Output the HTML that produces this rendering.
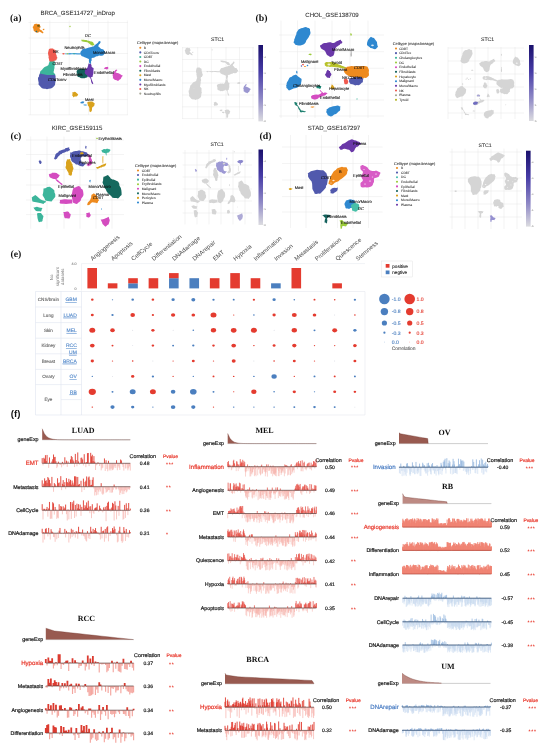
<!DOCTYPE html>
<html><head><meta charset="utf-8"><title>Figure</title>
<style>html,body{margin:0;padding:0;background:#fff;}svg{display:block;}</style>
</head><body>
<svg width="550" height="754" viewBox="0 0 550 754" font-family="'Liberation Sans', Arial, sans-serif" text-rendering="geometricPrecision">
<rect width="550" height="754" fill="#fff"/>
<text x="10" y="21" font-size="9.8" fill="#111" font-weight="bold" font-family="'Liberation Serif', 'Times New Roman', serif">(a)</text>
<text x="255.5" y="21.4" font-size="9.8" fill="#111" font-weight="bold" font-family="'Liberation Serif', 'Times New Roman', serif">(b)</text>
<text x="10.5" y="139.2" font-size="9.8" fill="#111" font-weight="bold" font-family="'Liberation Serif', 'Times New Roman', serif">(c)</text>
<text x="259.5" y="138.8" font-size="9.8" fill="#111" font-weight="bold" font-family="'Liberation Serif', 'Times New Roman', serif">(d)</text>
<text x="10.5" y="256.6" font-size="9.8" fill="#111" font-weight="bold" font-family="'Liberation Serif', 'Times New Roman', serif">(e)</text>
<text x="10.8" y="417.2" font-size="9.6" fill="#111" font-weight="bold">(f)</text>
<text x="77.6" y="15.3" font-size="6.1" fill="#333" text-anchor="middle" stroke="#333" stroke-width="0.08">BRCA_GSE114727_inDrop</text>
<path d="M30.4,20.5V115M49.8,20.5V115M69.2,20.5V115M88.6,20.5V115M108,20.5V115M127.4,20.5V115M28.5,22.5H128M28.5,38H128M28.5,53.5H128M28.5,69H128M28.5,84.3H128M28.5,99.6H128M28.5,114.8H128" stroke="#e6e6e6" stroke-width="0.45" fill="none"/>
<path d="M32.6,27 33.4,26.14 33.69,25.5 34,24.5 34.8,23.97 36.07,23.77 37,23.8 37.85,24.34 39.13,24.07 39.8,24.6 39.74,25.37 40.5,26.2 40.5,27.5 39.97,27.73 39.57,28.52 39.5,29 40.11,29.44 41.33,30.16 42,30.5 42.54,31.4 43.25,32.13 43.8,32.6 43.19,32.74 42.99,33.38 42.5,33.3 41.58,32.68 40.33,31.95 39.5,31.5 38.63,32.24 38.44,32.58 37.5,32.7 36.85,32.68 36.02,32.35 35.5,32.2 34.59,31.58 33.99,30.79 33.5,30.5 33.49,29.05 33.12,28.31Z" fill="#ee8a1e"/>
<path d="M39.72,25.8 39.88,26.07 39.65,26.27 39.54,26.5 39.47,26.82 39.15,26.94 38.76,26.76 38.5,26.74 38.22,26.85 37.98,26.71 37.67,26.68 37.42,26.53 37.3,26.29 37.37,26.02 37.11,25.8 37.04,25.52 37.2,25.27 37.45,25.09 37.68,24.93 37.93,24.81 38.21,24.72 38.5,24.78 38.82,24.63 39.08,24.78 39.37,24.87 39.56,25.08 39.62,25.34 39.85,25.54Z" fill="#6e5a12"/>
<path d="M37.44,31.5 37.5,31.7 37.32,31.85 37.1,31.92 36.89,31.93 36.78,32.01 36.7,32.27 36.5,32.34 36.28,32.33 36.12,32.19 36.01,32.04 35.96,31.88 35.79,31.8 35.8,31.64 35.74,31.5 35.74,31.35 35.73,31.17 35.8,31.01 35.91,30.86 36.13,30.83 36.3,30.75 36.5,30.74 36.7,30.73 36.89,30.79 36.98,30.98 36.99,31.16 37.05,31.27 37.18,31.36Z" fill="#1f6f7a"/>
<path d="M44.41,29.5 44.36,29.65 44.2,29.75 44.12,29.86 44.06,30 43.93,30.09 43.79,30.24 43.6,30.37 43.41,30.24 43.27,30.1 43.14,30 43.04,29.89 42.86,29.81 42.62,29.7 42.69,29.5 42.82,29.34 43.02,29.25 43.04,29.11 43.13,28.99 43.28,28.92 43.42,28.8 43.6,28.84 43.77,28.83 44,28.77 44.18,28.87 44.39,28.95 44.41,29.16 44.36,29.35Z" fill="#ee8a1e"/>
<path d="M70.67,26.4 70.57,26.53 70.59,26.69 70.47,26.77 70.43,26.94 70.31,27.04 70.18,27.18 70,27.15 69.82,27.18 69.69,27.05 69.64,26.85 69.53,26.77 69.38,26.7 69.23,26.58 69.16,26.4 69.37,26.26 69.42,26.12 69.59,26.08 69.67,25.99 69.74,25.86 69.85,25.75 70,25.63 70.16,25.68 70.36,25.65 70.48,25.79 70.55,25.96 70.61,26.1 70.64,26.25Z" fill="#9ccb3c"/>
<path d="M81,39.8 82.12,39.83 83.81,39.73 85,40 86.45,40.06 87.15,40.43 88.6,40.7 89.46,41.12 90.84,41.56 91.5,41.5 92.24,41.86 92.98,42.26 93.3,42.6 93.38,43.27 94.23,44 94.3,45.2 93.8,45.31 92.91,45.35 92.5,45.8 91.66,45.31 90.91,45.28 90.5,44.5 89.4,43.75 88.58,42.99 87.4,42.2 85.53,42.1 83.68,41.8 81.6,41.2 81.6,40.84 81.2,39.92Z" fill="#9ccb3c"/>
<path d="M65,53.4 67.59,53.55 69.95,52.92 72,53.2 74.5,53.07 77.87,53.33 80.5,53.2 80.8,53.88 80.48,54.01 80.5,54.4 77.4,54.6 74.53,54.21 72,54.3 69.63,54.38 67.18,54.23 65,54.3 64.78,53.88 65.01,53.38Z" fill="#3f9ad8"/>
<path d="M64.89,53.8 64.93,53.94 64.81,54.07 64.54,54.16 64.46,54.32 64.13,54.36 63.87,54.49 63.5,54.38 63.18,54.39 62.93,54.31 62.55,54.31 62.34,54.2 62.26,54.06 62.33,53.91 62.33,53.8 62.08,53.66 62.18,53.53 62.45,53.44 62.7,53.37 62.91,53.28 63.18,53.2 63.5,53.11 63.88,53.1 64.21,53.17 64.23,53.41 64.48,53.46 64.62,53.57 64.94,53.66Z" fill="#ef5a4f"/>
<path d="M68.52,53.8 68.45,53.91 68.41,54.02 68.27,54.11 68.05,54.14 67.89,54.2 67.7,54.24 67.5,54.32 67.28,54.28 67,54.32 66.81,54.23 66.58,54.17 66.6,54.02 66.61,53.9 66.68,53.8 66.63,53.7 66.52,53.56 66.69,53.48 66.86,53.4 67.09,53.37 67.25,53.26 67.5,53.23 67.76,53.24 67.97,53.31 68.06,53.45 68.27,53.49 68.39,53.59 68.54,53.68Z" fill="#9ccb3c"/>
<path d="M75.14,53.8 75,53.91 75.05,54.05 74.82,54.13 74.6,54.17 74.41,54.23 74.22,54.29 74,54.28 73.77,54.31 73.58,54.23 73.41,54.17 73.27,54.09 73.15,54.01 73.18,53.89 73.12,53.8 72.96,53.68 72.88,53.53 73.1,53.44 73.31,53.37 73.53,53.31 73.79,53.34 74,53.36 74.23,53.3 74.39,53.4 74.53,53.46 74.79,53.49 74.79,53.61 75.03,53.68Z" fill="#3cb59b"/>
<path d="M80.5,52 80.88,51.28 81.69,50.49 82,49.5 83.34,49.07 84.92,48.77 86,48.5 87.48,47.96 88.32,47.8 90,47.2 91.49,46.93 92.42,46.54 93.5,46.5 94.45,45.56 95.99,44.15 97,43.5 98.16,42.54 98.39,41.75 99.5,41 99.76,41.18 100.21,41.32 100.7,42 99.95,43.47 98.74,44.78 98.2,46.5 98.93,46.8 99.66,47.44 100,48 101.35,48.96 102.81,49.17 104,50 104.35,51.18 105.14,52 105.5,53 104.65,53.55 103.72,54.81 103,55.5 101.4,55.73 100.66,55.7 99,55.5 97.65,56.28 96.61,56.33 95,57 94.06,57.67 92.96,57.7 92,58 91.44,58.85 91.79,60.31 91.2,61 90.99,62.01 91.11,62.87 91,63.8 90.87,63.81 89.84,63.78 89.6,63.5 89.05,62.13 88.93,60.8 89,59 88.16,58.68 87.11,58.18 86,57.8 84.58,57.31 83.04,56.62 82,56.2 81.24,55.75 81.23,55.21 80.5,54.5 80.3,53.45 80.36,52.69Z" fill="#2e88d0"/>
<path d="M49.5,61 50.92,60.96 52.92,60.4 54.5,60.5 54.67,61.49 54.51,62.57 55,64 54.94,65.08 54.39,66.44 54.5,68 54.1,69.32 53.94,70.85 53.5,72 53.9,73.05 55.03,74.03 55.5,75.5 52.34,75.58 50.11,75.7 47,75.5 44.67,75.21 42.28,74.69 40,74.5 39.87,73.24 40.14,72.06 40.5,71 41.88,69.97 42.65,69 44,67.5 45.17,66.8 47.12,66.12 48.5,65 48.69,63.96 48.95,63.2 49.3,62.5 49.24,61.99 49.71,61.78Z" fill="#3cb59b"/>
<path d="M40,73.5 42.23,73.98 44.73,74.56 47,75 49.33,74.99 52.16,75.03 55,74.8 55.68,76.71 55.43,78.23 56,80 55.47,81.55 55.16,83.58 55,85 54.16,86.11 52.96,87.3 52,88 50.64,88.55 48.68,88.79 47,89.3 45.4,88.69 43.91,88.67 42,88.2 40.98,87.29 39.65,85.79 38.5,84.5 38.66,82.57 38.25,80.69 38,79 38.04,77.58 38.82,76.96 39,75.5 39.35,74.56 39.52,74.11Z" fill="#5159ad"/>
<path d="M49,49 50.55,48.53 51.42,48.59 53,48.5 53.66,49.23 54.83,49.78 55.5,50 55.7,51.68 55.75,52.76 56,54 56.63,55.46 56.8,56.76 57.6,58 56.87,58.56 56.58,59.42 56,60.5 55.23,60.61 54.38,60.83 54,61.3 52.68,61.45 50.77,61.6 49.5,61.3 49.15,60.5 48.97,58.81 48.5,58 48.67,56.44 48.19,54.59 48,53 48.27,51.66 48.71,50.09Z" fill="#ef5a4f"/>
<path d="M76.5,72 76.7,71.04 77.15,70.18 78,69.5 79.18,69.37 79.98,69.14 81,68.7 82.3,69.06 83.74,68.65 85,69 86.25,69.48 87.43,69.8 88.6,70.5 88.74,71.78 88.46,73.32 88.6,75 87.9,75.61 87.71,76.78 87,77.5 85.67,77.82 84.7,78.13 84,78.3 82.77,78.23 81.85,78.3 80.5,78 79.63,77.36 78.22,77.06 77.5,76.5 77.19,75.28 77.1,73.28Z" fill="#13615c"/>
<path d="M88.4,63.6 89.18,63.86 89.96,63.94 91.2,63.8 91.13,64.75 91.63,65.43 91.5,66.5 92.36,67.49 93.06,67.72 93.7,68.5 93.41,70.35 93.43,71.75 93.5,73 93.2,74.09 92.76,75.58 92.5,77 91.75,76.97 90.86,77.37 90,77.5 88.99,77.24 88.32,76.73 87.5,76 86.95,75.32 85.94,74.47 85,73.5 84.69,72.33 85.17,70.95 84.8,69.5 85.82,69.06 86.66,68.48 87.5,67.5 88.05,65.87 88.27,64.92Z" fill="#6a38a8"/>
<path d="M89.8,77.2 89.88,77.49 90.32,77.05 91,77.2 91.48,78.98 92.45,81.52 93.3,83.5 93.18,83.8 92.86,83.8 92.3,84.2 91.2,82.07 90.86,79.49Z" fill="#6a38a8"/>
<path d="M113.5,72 114.73,70.95 115.43,69.94 116.6,69.4 116.64,69.83 117.03,69.64 117.3,70.2 116.36,71.31 115.8,71.79 115.5,72.6 116.51,72.74 117.32,72.95 118.5,73.3 119.96,74.06 121.78,75.18 123,75.7 122.03,76.48 121.33,77.57 121,78.5 120.28,79.27 119.05,79.91 118.5,80.8 117.27,80.71 116.72,80.35 115.5,80 114.61,79.71 113.78,78.66 112.8,78.3 112.99,77.28 112.87,76.01 112.5,75 112.87,74.1 113.2,72.71Z" fill="#d44cc0"/>
<path d="M108.24,68.1 108.43,68.4 108.07,68.62 107.86,68.86 107.72,69.18 107.31,69.32 106.8,69.24 106.4,69.39 106.03,69.15 105.67,69.09 105.24,69.05 104.48,69.09 104.11,68.82 104.19,68.43 104.52,68.1 104.61,67.83 104.92,67.64 104.8,67.27 105.27,67.18 105.71,67.17 106,66.95 106.4,67 106.83,66.89 107.45,66.68 107.81,66.95 108.27,67.13 108.03,67.59 108.34,67.81Z" fill="#d44cbf"/>
<path d="M72.3,92.2 73.49,92.13 74.6,91.77 75.5,92 76.55,93.01 77.16,93.43 78.2,94.5 77.77,95.37 77.23,96 76.5,96.5 75.23,96.54 73.96,96.85 73,97.4 73.07,96.53 72.22,95.52 72.3,95 72.51,93.77 72.44,93.07Z" fill="#d9a21c"/>
<path d="M87.5,102 88.67,101.85 89.11,101.63 90,101.5 90.86,101.43 91.65,101.61 93,101.8 93.47,102.49 94,103.08 94.8,103.5 94.73,104.02 94.23,105.02 94.3,106 93.98,106.11 93.27,106.82 92.5,107 92.06,108.35 91.92,109.1 92,110 91.59,110.89 91.11,111.64 91,112.2 90.22,111.72 89.85,111.68 89.5,111.5 89.31,110 89.39,108.15 89,107 88.44,106.02 87.9,105.86 87.8,105 87.71,103.99 87.28,103.16Z" fill="#d9a21c"/>
<path d="M80,102.6 80.75,102.5 81.71,101.5 82.5,101.4 82.78,101.35 83.47,101.58 84.3,101.8 83.97,102.58 83.74,102.77 83.5,103.2 82.53,103.61 82.05,103.23 81,103.6 80.89,103.21 80.12,102.91Z" fill="#2e88d0"/>
<path d="M86.86,105 86.92,105.23 86.82,105.46 86.62,105.67 86.26,105.78 86.02,106 85.6,106.04 85.2,106.12 84.85,105.91 84.62,105.71 84.28,105.68 83.93,105.6 83.78,105.4 83.48,105.23 83.5,105 83.39,104.76 83.58,104.54 83.69,104.29 83.95,104.08 84.47,104.11 84.9,104.22 85.2,104.1 85.54,104.14 85.92,104.12 86.25,104.23 86.55,104.37 86.63,104.59 86.8,104.79Z" fill="#8ec3ea"/>
<text x="85" y="37.4" font-size="4" fill="#111" stroke="#111" stroke-width="0.08">DC</text>
<text x="64.4" y="49.4" font-size="4" fill="#111" stroke="#111" stroke-width="0.08">Neutrophils</text>
<text x="93" y="54.4" font-size="4" fill="#111" stroke="#111" stroke-width="0.08">Mono/Macro</text>
<text x="53" y="52.8" font-size="4" fill="#111" stroke="#111" stroke-width="0.08">NK</text>
<text x="52.4" y="65.4" font-size="4" fill="#111" stroke="#111" stroke-width="0.08">CD8T</text>
<text x="60.6" y="70.4" font-size="4" fill="#111" stroke="#111" stroke-width="0.08">Myofibroblasts</text>
<text x="63" y="75.6" font-size="4" fill="#111" stroke="#111" stroke-width="0.08">Fibroblasts</text>
<text x="94" y="73.8" font-size="4" fill="#111" stroke="#111" stroke-width="0.08">Endothelial</text>
<text x="48" y="80.8" font-size="4" fill="#111" stroke="#111" stroke-width="0.08">CD4Tconv</text>
<text x="85" y="100.8" font-size="4" fill="#111" stroke="#111" stroke-width="0.08">Mast</text>
<text x="137" y="44.3" font-size="3.9" fill="#333" stroke="#333" stroke-width="0.08">Celltype (major-lineage)</text>
<circle cx="140.3" cy="47.8" r="1.05" fill="#ee8a1e"/>
<text x="143.8" y="49" font-size="3.35" fill="#444" stroke="#444" stroke-width="0.08">B</text>
<circle cx="140.3" cy="52.38" r="1.05" fill="#5159ad"/>
<text x="143.8" y="53.58" font-size="3.35" fill="#444" stroke="#444" stroke-width="0.08">CD4Tconv</text>
<circle cx="140.3" cy="56.96" r="1.05" fill="#3cb59b"/>
<text x="143.8" y="58.16" font-size="3.35" fill="#444" stroke="#444" stroke-width="0.08">CD8T</text>
<circle cx="140.3" cy="61.54" r="1.05" fill="#9ccb3c"/>
<text x="143.8" y="62.74" font-size="3.35" fill="#444" stroke="#444" stroke-width="0.08">DC</text>
<circle cx="140.3" cy="66.12" r="1.05" fill="#d44cc0"/>
<text x="143.8" y="67.32" font-size="3.35" fill="#444" stroke="#444" stroke-width="0.08">Endothelial</text>
<circle cx="140.3" cy="70.7" r="1.05" fill="#13615c"/>
<text x="143.8" y="71.9" font-size="3.35" fill="#444" stroke="#444" stroke-width="0.08">Fibroblasts</text>
<circle cx="140.3" cy="75.28" r="1.05" fill="#d9a21c"/>
<text x="143.8" y="76.48" font-size="3.35" fill="#444" stroke="#444" stroke-width="0.08">Mast</text>
<circle cx="140.3" cy="79.86" r="1.05" fill="#2e88d0"/>
<text x="143.8" y="81.06" font-size="3.35" fill="#444" stroke="#444" stroke-width="0.08">Mono/Macro</text>
<circle cx="140.3" cy="84.44" r="1.05" fill="#6a38a8"/>
<text x="143.8" y="85.64" font-size="3.35" fill="#444" stroke="#444" stroke-width="0.08">Myofibroblasts</text>
<circle cx="140.3" cy="89.02" r="1.05" fill="#ef5a4f"/>
<text x="143.8" y="90.22" font-size="3.35" fill="#444" stroke="#444" stroke-width="0.08">NK</text>
<circle cx="140.3" cy="93.6" r="1.05" fill="#a3a392"/>
<text x="143.8" y="94.8" font-size="3.35" fill="#444" stroke="#444" stroke-width="0.08">Neutrophils</text>
<text x="217.5" y="41.2" font-size="5.1" fill="#333" text-anchor="middle" stroke="#333" stroke-width="0.08">STC1</text>
<path d="M182.6,47V119M197.7,47V119M211.4,47V119M226,47V119M239.5,47V119M253,47V119M182,47.7H254M182,59.5H254M182,71.4H254M182,83H254M182,95H254M182,106.8H254M182,118.6H254" stroke="#e6e6e6" stroke-width="0.45" fill="none"/>
<path d="M184.7,50.36 185.37,49.67 185.53,49.2 185.72,48.38 186.26,47.9 187.26,47.74 187.92,47.82 188.52,48.31 189.55,47.98 189.97,48.46 189.85,49.03 190.55,49.66 190.49,50.76 190.05,50.89 189.74,51.57 189.75,51.95 190.14,52.29 191.14,52.91 191.59,53.15 191.97,53.9 192.52,54.49 192.91,54.82 192.41,54.91 192.33,55.5 191.95,55.37 191.3,54.88 190.31,54.27 189.75,53.94 189.07,54.6 189.05,54.85 188.29,54.9 187.82,54.91 187.17,54.62 186.82,54.5 186.08,53.99 185.67,53.32 185.36,53.15 185.43,51.94 185.13,51.43Z" fill="#d5d5d5"/>
<path d="M189.92,49.41 190.03,49.62 189.86,49.78 189.78,49.97 189.73,50.23 189.49,50.31 189.21,50.17 189.02,50.16 188.81,50.24 188.64,50.13 188.41,50.11 188.23,49.99 188.14,49.8 188.19,49.58 188,49.41 187.95,49.19 188.07,48.99 188.25,48.85 188.42,48.72 188.61,48.62 188.81,48.55 189.02,48.6 189.25,48.48 189.44,48.6 189.66,48.67 189.8,48.84 189.84,49.05 190.01,49.2Z" fill="#d5d5d5"/>
<path d="M188.25,53.94 188.29,54.1 188.16,54.22 188,54.28 187.84,54.28 187.76,54.35 187.7,54.55 187.55,54.61 187.4,54.6 187.28,54.49 187.2,54.37 187.16,54.24 187.03,54.18 187.04,54.05 187,53.94 187,53.82 186.99,53.68 187.04,53.55 187.12,53.43 187.28,53.41 187.41,53.34 187.55,53.34 187.7,53.33 187.84,53.37 187.9,53.53 187.91,53.67 187.96,53.76 188.05,53.83Z" fill="#d5d5d5"/>
<path d="M193.35,52.35 193.32,52.47 193.2,52.55 193.14,52.64 193.09,52.75 193,52.82 192.9,52.94 192.76,53.04 192.62,52.94 192.52,52.83 192.42,52.75 192.35,52.66 192.22,52.6 192.04,52.51 192.09,52.35 192.19,52.23 192.33,52.16 192.35,52.04 192.42,51.95 192.52,51.89 192.63,51.8 192.76,51.83 192.89,51.82 193.05,51.77 193.18,51.85 193.34,51.91 193.35,52.08 193.32,52.23Z" fill="#d5d5d5"/>
<path d="M212.6,49.89 212.53,49.99 212.55,50.12 212.45,50.18 212.43,50.32 212.33,50.39 212.24,50.51 212.11,50.48 211.98,50.5 211.88,50.4 211.85,50.24 211.77,50.19 211.65,50.13 211.54,50.03 211.49,49.89 211.65,49.77 211.69,49.67 211.81,49.63 211.87,49.56 211.92,49.46 212,49.37 212.11,49.28 212.23,49.32 212.37,49.29 212.46,49.41 212.51,49.54 212.56,49.65 212.58,49.77Z" fill="#d5d5d5"/>
<path d="M220.17,60.54 220.94,60.56 222.27,60.44 223.11,60.7 224.24,60.71 224.62,61.03 225.74,61.26 226.34,61.62 227.47,62 227.87,61.89 228.45,62.18 229.03,62.51 229.19,62.77 229.18,63.26 229.94,63.81 229.92,64.83 229.58,64.9 228.86,64.91 228.6,65.31 227.94,64.91 227.37,64.96 227.14,64.28 226.31,63.69 225.77,63.08 224.86,62.45 223.51,62.42 222.18,62.19 220.61,61.65 220.67,61.39 220.32,60.57Z" fill="#d5d5d5"/>
<path d="M208.44,71.35 210.41,71.51 212.15,70.9 213.58,71.19 215.32,71.07 217.94,71.32 219.81,71.19 220.1,71.79 219.79,71.84 219.81,72.15 217.46,72.35 215.34,71.97 213.58,72.07 211.83,72.14 210,72 208.44,72.07 208.23,71.71 208.45,71.27Z" fill="#d5d5d5"/>
<path d="M208.37,71.67 208.4,71.78 208.3,71.89 208.11,71.95 208.05,72.08 207.81,72.12 207.62,72.22 207.35,72.13 207.11,72.14 206.93,72.08 206.65,72.08 206.5,71.99 206.44,71.87 206.49,71.76 206.49,71.67 206.3,71.56 206.37,71.45 206.57,71.39 206.76,71.33 206.92,71.26 207.11,71.19 207.35,71.12 207.62,71.11 207.86,71.17 207.88,71.36 208.06,71.4 208.16,71.49 208.4,71.56Z" fill="#d5d5d5"/>
<path d="M211.02,71.67 210.98,71.76 210.95,71.85 210.84,71.92 210.68,71.94 210.56,71.99 210.42,72.02 210.28,72.08 210.12,72.06 209.91,72.08 209.77,72.01 209.61,71.96 209.62,71.84 209.63,71.75 209.68,71.67 209.64,71.59 209.56,71.48 209.68,71.41 209.81,71.35 209.98,71.33 210.1,71.24 210.28,71.21 210.47,71.23 210.62,71.28 210.69,71.39 210.85,71.43 210.93,71.5 211.04,71.58Z" fill="#d5d5d5"/>
<path d="M215.87,71.67 215.78,71.76 215.81,71.87 215.64,71.93 215.48,71.97 215.35,72.01 215.21,72.06 215.04,72.05 214.87,72.08 214.74,72.01 214.61,71.97 214.5,71.9 214.42,71.83 214.44,71.75 214.39,71.67 214.28,71.58 214.22,71.46 214.38,71.39 214.54,71.33 214.7,71.28 214.89,71.31 215.04,71.32 215.21,71.27 215.33,71.35 215.43,71.4 215.62,71.42 215.62,71.52 215.8,71.58Z" fill="#d5d5d5"/>
<path d="M219.81,70.24 220.05,69.7 220.73,69.07 220.91,68.25 221.89,67.89 223.11,67.66 223.84,67.46 224.96,67.01 225.45,66.94 226.77,66.42 227.95,66.21 228.57,65.86 229.34,65.87 229.98,65.13 231.21,63.93 231.9,63.48 232.84,62.69 232.84,62.08 233.73,61.49 233.89,61.6 234.23,61.68 234.61,62.29 234.08,63.45 233.1,64.46 232.78,65.87 233.35,66.06 233.92,66.6 234.1,67.06 235.09,67.88 236.19,67.96 237.03,68.65 237.25,69.62 237.9,70.24 238.13,71.03 237.5,71.42 236.8,72.5 236.3,73.02 235.05,73.25 234.67,73.22 233.37,73.02 232.37,73.7 231.69,73.65 230.44,74.22 229.76,74.82 228.92,74.78 228.24,75.01 227.74,75.66 228.17,76.91 227.65,77.4 227.46,78.21 227.6,78.88 227.5,79.62 227.49,79.65 226.59,79.64 226.48,79.38 225.98,78.32 225.92,77.3 226.04,75.81 225.46,75.56 224.68,75.15 223.84,74.85 222.77,74.47 221.59,73.89 220.91,73.58 220.28,73.24 220.4,72.82 219.81,72.23 219.6,71.35 219.66,70.76Z" fill="#d5d5d5"/>
<path d="M197.08,77.4 198.06,77.38 199.61,76.87 200.75,77 200.87,77.75 200.67,78.59 201.12,79.78 201.1,80.58 200.6,81.68 200.75,82.96 200.44,84 200.37,85.26 200.02,86.14 200.24,86.95 201.19,87.69 201.48,88.92 199.08,89.01 197.6,89.12 195.25,88.92 193.54,88.7 191.78,88.25 190.12,88.13 189.95,87.1 190.17,86.17 190.49,85.34 191.55,84.56 192.01,83.82 193.05,82.56 193.82,82.03 195.37,81.53 196.35,80.58 196.47,79.71 196.65,79.12 196.94,78.59 196.86,78.18 197.31,78.07Z" fill="#d5d5d5"/>
<path d="M190.12,87.33 191.73,87.71 193.61,88.18 195.25,88.53 196.87,88.53 198.98,88.58 201.12,88.37 201.7,89.92 201.37,91.09 201.85,92.5 201.41,93.71 201.19,95.4 201.12,96.47 200.54,97.38 199.61,98.36 198.92,98.86 198,99.32 196.49,99.47 195.25,99.89 194.1,99.36 193.05,99.41 191.59,99.02 190.88,98.36 189.86,97.11 189.02,96.08 189.23,94.53 188.86,93.02 188.65,91.7 188.61,90.52 189.29,90.15 189.39,88.92 189.64,88.12 189.73,87.81Z" fill="#d5d5d5"/>
<path d="M196.72,67.86 197.91,67.42 198.43,67.51 199.65,67.46 200.09,68.08 201.04,68.53 201.48,68.65 201.64,70.05 201.64,70.87 201.85,71.83 202.33,73.02 202.37,74.04 203.02,75.01 202.43,75.39 202.28,76.09 201.85,77 201.26,77.05 200.58,77.22 200.38,77.63 199.46,77.78 197.95,77.93 197.08,77.63 196.82,77.06 196.73,75.6 196.35,75.01 196.57,73.79 196.13,72.28 195.98,71.03 196.17,69.96 196.52,68.68Z" fill="#d5d5d5"/>
<path d="M216.87,86.14 216.94,85.36 217.26,84.66 217.97,84.15 218.88,84.08 219.42,83.91 220.17,83.52 221.12,83.85 222.2,83.42 223.11,83.75 224.03,84.14 224.89,84.35 225.74,84.95 225.88,85.92 225.6,87.15 225.74,88.53 225.19,88.96 225.14,89.97 224.57,90.51 223.51,90.78 222.81,91.04 222.37,91.15 221.45,91.1 220.84,91.18 219.81,90.91 219.2,90.37 218.06,90.17 217.61,89.72 217.39,88.8 217.39,87.11Z" fill="#d5d5d5"/>
<path d="M225.6,79.46 226.13,79.71 226.65,79.78 227.65,79.62 227.55,80.38 228.03,80.88 227.87,81.77 228.53,82.63 229.04,82.72 229.48,83.36 229.21,84.9 229.24,85.99 229.34,86.94 229.13,87.75 228.77,88.97 228.6,90.12 228.07,90.06 227.41,90.42 226.77,90.51 225.98,90.35 225.54,89.95 224.94,89.32 224.61,88.81 223.82,88.13 223.11,87.33 222.81,86.43 223.31,85.33 222.96,84.15 223.73,83.84 224.34,83.41 224.94,82.56 225.41,81.2 225.55,80.51Z" fill="#d5d5d5"/>
<path d="M226.62,90.27 226.6,90.57 226.93,90.12 227.5,90.27 227.77,91.62 228.54,93.74 229.19,95.28 229.16,95.53 228.93,95.48 228.46,95.84 227.58,94.19 227.46,92.08Z" fill="#d5d5d5"/>
<path d="M244,86.14 244.95,85.27 245.37,84.43 246.27,84.07 246.24,84.45 246.57,84.2 246.78,84.71 246,85.65 245.6,85.97 245.46,86.62 246.21,86.71 246.75,86.87 247.66,87.17 248.72,87.77 250.14,88.73 250.96,89.08 250.16,89.67 249.65,90.57 249.49,91.31 249,91.92 247.98,92.4 247.66,93.14 246.7,93.1 246.41,92.8 245.46,92.5 244.82,92.33 244.22,91.39 243.48,91.15 243.7,90.36 243.61,89.31 243.26,88.53 243.54,87.83 243.78,86.64Z" fill="#9b97d0"/>
<path d="M240.14,83.04 240.28,83.28 240.02,83.46 239.86,83.64 239.76,83.89 239.46,84.01 239.09,83.95 238.79,84.07 238.52,83.87 238.25,83.83 237.94,83.79 237.39,83.83 237.12,83.61 237.17,83.3 237.41,83.04 237.48,82.83 237.7,82.67 237.62,82.38 237.96,82.31 238.28,82.3 238.5,82.13 238.79,82.17 239.1,82.08 239.56,81.91 239.82,82.13 240.17,82.27 239.99,82.63 240.21,82.81Z" fill="#d5d5d5"/>
<path d="M213.8,102.2 214.7,102.14 215.52,101.8 216.14,102.04 216.95,102.88 217.32,103.13 218.12,104.03 217.84,104.76 217.45,105.25 216.87,105.62 215.91,105.6 214.96,105.84 214.31,106.33 214.44,105.63 213.65,104.78 213.8,104.43 214.01,103.39 213.93,102.88Z" fill="#d5d5d5"/>
<path d="M224.94,109.99 225.88,109.88 226.11,109.69 226.77,109.59 227.37,109.51 227.89,109.66 228.97,109.83 229.28,110.4 229.65,110.88 230.29,111.18 230.27,111.53 229.81,112.36 229.92,113.17 229.76,113.22 229.21,113.85 228.6,113.97 228.2,115.11 228.12,115.66 228.24,116.35 227.92,117.09 227.53,117.69 227.5,118.1 226.85,117.67 226.62,117.67 226.4,117.54 226.26,116.35 226.38,114.81 226.04,113.97 225.59,113.13 225.15,113.09 225.16,112.38 225.1,111.57 224.69,110.94Z" fill="#d5d5d5"/>
<path d="M219.44,110.47 219.97,110.45 220.71,109.53 221.27,109.51 221.39,109.44 221.92,109.64 222.59,109.83 222.33,110.52 222.17,110.61 222.01,110.94 221.26,111.33 221,110.92 220.17,111.26 220.15,110.94 219.47,110.71Z" fill="#d5d5d5"/>
<path d="M224.47,112.38 224.51,112.56 224.44,112.74 224.29,112.91 224.03,113 223.85,113.17 223.55,113.2 223.25,113.27 222.99,113.1 222.83,112.94 222.58,112.92 222.32,112.85 222.21,112.69 221.99,112.56 222.01,112.38 221.92,112.18 222.07,112.01 222.15,111.81 222.34,111.64 222.72,111.67 223.03,111.76 223.25,111.66 223.5,111.69 223.78,111.67 224.02,111.76 224.24,111.87 224.3,112.05 224.42,112.2Z" fill="#d5d5d5"/>
<defs><linearGradient id="cba" x1="0" y1="0" x2="0" y2="1"><stop offset="0" stop-color="#1a106c"/><stop offset="0.35" stop-color="#473ca6"/><stop offset="0.7" stop-color="#8f89c6"/><stop offset="1" stop-color="#dcdce0"/></linearGradient></defs>
<rect x="258.4" y="45" width="4.6" height="76.4" fill="url(#cba)"/>
<text x="264.6" y="122.1" font-size="2" fill="#888" stroke="#888" stroke-width="0.08">0</text>
<text x="264.6" y="106" font-size="2" fill="#888" stroke="#888" stroke-width="0.08">1</text>
<text x="264.6" y="89.9" font-size="2" fill="#888" stroke="#888" stroke-width="0.08">2</text>
<text x="264.6" y="73.8" font-size="2" fill="#888" stroke="#888" stroke-width="0.08">3</text>
<text x="264.6" y="57.7" font-size="2" fill="#888" stroke="#888" stroke-width="0.08">4</text>
<path d="M263.3,121.4h0.9M263.3,105.3h0.9M263.3,89.2h0.9M263.3,73.1h0.9M263.3,57h0.9" stroke="#999" stroke-width="0.3"/>
<text x="332" y="17" font-size="6.1" fill="#333" text-anchor="middle" stroke="#333" stroke-width="0.08">CHOL_GSE138709</text>
<path d="M281,20.5V118M297.5,20.5V118M315,20.5V118M332,20.5V118M350,20.5V118M368,20.5V118M279,35H384M279,51.7H384M279,68.3H384M279,84.2H384M279,100H384M279,116H384" stroke="#e6e6e6" stroke-width="0.45" fill="none"/>
<path d="M296.5,32.7 296.84,31.96 297.62,30.91 298.5,29.5 299.65,28.93 300.18,28.63 301,28.3 302.6,28.07 304.56,27.26 306,27 307.36,27.76 308.73,28 310,28.9 310.02,30.6 310.5,32.53 310.3,34 309.46,35.51 308.67,37.14 307.4,39 306.42,40.26 305.73,42.21 304.8,43.5 303.47,44.4 302.01,44.94 300.4,45.5 298.53,45.59 297.34,45.2 295.3,44.8 295.01,44.24 294.3,43.31 293.4,42.3 294.15,40.93 294.21,39.54 295,37.8 295.4,36.2 296.28,34.4Z" fill="#2e88d0"/>
<path d="M368,40 369.04,38.72 369.83,37.72 371,36.8 372.06,37.46 373.02,37.8 374,38 374.87,39.28 376.17,40.91 377,42 377.1,43.53 377.42,45.13 378,47 377.1,47.53 376.14,48.76 375,49.3 373.82,48.98 372.05,48.3 370.5,48 369.46,46.91 368.02,45.98 367,45 367.05,43.02 367.38,41.87Z" fill="#2e88d0"/>
<ellipse cx="372.5" cy="45.3" rx="1.4" ry="0.84" fill="#fff" fill-opacity="0.8"/>
<path d="M320,45.5 321.47,44.81 322.92,43.62 324.5,43 326.24,42.91 327.86,42.38 329.6,42.3 330.78,42.36 332.19,43.01 333.5,43 335.06,42.62 335.73,41.67 337.3,41 338.68,40.47 339.62,39.92 341,39.7 341.13,40.89 342.11,41.62 342.4,42.3 341.72,43.39 340.37,43.64 339.8,44.8 338.5,45.5 337.7,46.29 336.6,46.7 335.79,47.69 335.22,49.02 334.7,50.5 334.48,51.91 334.18,53.8 333.5,55.6 332.74,55.88 331.68,56.45 330.3,56.9 329.43,56.5 328.37,55.8 327,55 326.06,53.2 325.48,51.74 324.5,50.5 323.57,50.02 321.86,48.97 320.7,48 320.62,46.96 320.03,46.57Z" fill="#6a38a8"/>
<path d="M311.67,54.4 311.8,54.56 311.57,54.69 311.44,54.83 311.23,54.97 311.04,55.17 310.6,55.16 310.2,55.19 309.88,55.02 309.61,54.93 309.29,54.9 308.9,54.85 308.66,54.73 308.36,54.58 308.57,54.4 308.6,54.24 308.78,54.1 308.95,53.96 309.16,53.83 309.46,53.73 309.8,53.64 310.2,53.62 310.59,53.65 310.91,53.76 311.18,53.86 311.45,53.96 311.6,54.1 311.41,54.28Z" fill="#9ccb3c"/>
<path d="M351.92,34.5 351.7,34.74 351.55,34.9 351.58,35.19 351.48,35.4 351.41,35.76 351.18,35.72 351,35.84 350.83,35.61 350.66,35.55 350.5,35.44 350.41,35.2 350.3,35.01 350.38,34.71 350.3,34.5 350.3,34.26 350.27,33.97 350.39,33.76 350.45,33.47 350.64,33.37 350.79,33.12 351,33.2 351.19,33.28 351.28,33.62 351.35,33.85 351.53,33.87 351.82,33.91 351.84,34.21Z" fill="#9ccb3c"/>
<path d="M350.5,50 350.56,49.85 351.16,50.23 351.5,50 351.67,52.17 351.84,54.32 351.8,56 351.39,56.49 350.92,56.75 350.8,57 350.38,54.7 350.72,52.18Z" fill="#b0b0b0"/>
<path d="M324.5,63.3 325.46,62.49 326.38,62.09 326.8,61.9 328.67,62.29 330.49,61.88 332.7,62.1 334.79,62.76 336.75,63.45 338.6,64.5 340.4,64.96 341.69,65.83 343.4,66.2 344.36,66.85 345.44,67.1 346.3,67.4 345.79,67.89 345.13,67.88 344.6,68.6 342.75,68.44 340.89,67.95 338.6,67.4 336.14,67.37 333.95,67 331.5,66.8 329.94,67.12 328.59,66.56 326.8,66.8 326.37,66.51 325.59,66.09 325,65.6 324.67,64.95 324.89,64.3Z" fill="#b8c22a"/>
<ellipse cx="329" cy="64.5" rx="1.6" ry="0.96" fill="#fff" fill-opacity="0.8"/>
<path d="M327.5,69.8 328.61,69.95 328.86,70.93 330,71 330.25,72.51 330.98,73.13 331.5,74.5 330.85,75.83 330.2,76.6 330,78 328.78,77.69 327.94,77.7 327,77.5 326.06,76.37 325.41,75.51 325,74.5 326.11,72.89 326.43,71.5Z" fill="#6a38a8"/>
<path d="M344,69.2 344.72,68.4 346.06,67.86 347,66.8 349.19,66.54 351.33,66.11 354,66.2 356.98,66.37 359.21,66.2 362.3,65.9 364.32,65.89 366.09,66.25 367.6,66.8 368.12,68.16 368.65,69.11 369,70.4 368.71,72.37 368.99,74.27 368.8,75.7 367.93,76.38 366.81,77.47 365.8,78 364.34,77.87 362.87,78.52 361,78.6 358.79,78.59 356.05,77.94 354,78 352.6,77.08 350.86,77.1 349.3,76.3 348.2,75.63 346.75,74.8 345.7,73.9 344.8,73.09 344.47,72.56 344,71.5 343.91,70.74 344.28,69.69Z" fill="#ee8a1e"/>
<path d="M349.3,78.6 350.56,78.32 352.17,77.75 354,77.3 356.46,76.99 358.43,77.13 361,76.7 361.59,77.3 362.37,78.28 363.5,78.6 363.06,79.63 362.85,80.71 362.9,82.2 361.72,82.7 360.79,83.72 360,84.6 358.71,85.13 356.71,85.11 355.2,85.5 353.88,84.71 352.27,84.16 350.5,84 349.88,83.07 349.22,82.2 349,81 349.13,80.1 349.16,79.34Z" fill="#5159ad"/>
<path d="M344,79 344.67,79.13 346.17,78.47 347,78.6 347.22,79.48 347.75,80.13 348.3,81 348.21,82.34 347.74,83.33 347.5,84 346.2,84.32 345.4,84.27 344.5,84 344.16,82.42 343.83,80.4Z" fill="#ef5a4f"/>
<path d="M287,82.2 288.13,80.58 288.71,79.23 289.5,77.7 290.81,77.02 291.81,76.64 292.7,75.8 293.88,75.2 294.87,75.09 296,74.5 296.83,75.17 298.04,76.38 299,77 300.16,77.95 301.02,78.58 301.6,79 301.48,80.95 301.11,82.66 301,84.1 299.74,85.14 299.13,85.9 297.8,87.3 296.23,88.01 294.79,88.29 293.4,88.5 291.98,89.24 290.24,89.91 289,90.5 288.14,89.73 287.27,88.48 286.4,87.9 286.39,87.26 286.42,86.49 286.1,85.4 286.63,84.62 286.61,83.59Z" fill="#2e88d0"/>
<path d="M297.53,72.2 297.42,72.48 297.35,72.73 297.37,73.12 297.29,73.42 297.15,73.66 296.97,73.7 296.8,73.69 296.67,73.36 296.56,73.18 296.44,73.11 296.24,73.09 296.22,72.76 296.11,72.51 296.19,72.2 296.19,71.92 296.19,71.61 296.26,71.35 296.37,71.13 296.51,71.01 296.62,70.65 296.8,70.69 296.97,70.67 297.08,71.02 297.21,71.16 297.22,71.53 297.36,71.66 297.54,71.86Z" fill="#2e88d0"/>
<path d="M316.3,86.5 317.37,85.96 317.91,85.76 318.5,85.4 319.35,85.48 320.53,85.93 321.4,86.3 320.89,87.29 320.74,88.01 320.5,88.5 319.58,88.63 318.33,88.28 317,88.3 316.48,88.02 316.61,87.19Z" fill="#1f8a78"/>
<path d="M330.4,88.5 330.77,87.12 331.36,86.04 331.5,84.5 332.21,84.76 332.82,84.95 333,85.5 333.7,86.12 333.78,86.81 334.5,87 334.46,87.47 334.34,88.66 334,89.3 332.82,88.69 331.71,89.1Z" fill="#d9a21c"/>
<path d="M311.2,96 312.18,95.59 313.04,95.08 313.5,94.9 315.12,94.82 316.46,94.54 318.2,94.8 319.32,94.29 320.13,93.95 321,93.2 322.35,92.77 323.47,92.97 324.5,92.4 325.86,92.46 326.41,92.87 327.7,93.5 326.49,93.97 325.97,94.7 325,95.5 323.65,95.87 322.55,96.03 321,96.8 319.73,97.51 318.83,97.59 318.2,98.5 317.02,99 315.24,99.44 314,99.4 313.18,98.76 312.42,98.84 311.5,98.5 311.54,97.56 311.32,96.5Z" fill="#d44cc0"/>
<path d="M319.5,90.5 320.03,90.22 320.01,90.1 320.5,90.2 321.38,91.15 321.86,91.77 323,92.5 322.99,92.45 322.64,93.03 322,93 320.83,91.93 320.1,91.05Z" fill="#d44cc0"/>
<path d="M294,103 294.42,102.29 295.33,102.34 295.5,101.9 296.15,102.06 296.31,102.79 297.2,102.8 297.34,103.12 297.05,103.95 297,104.5 297.75,105.46 298.51,106.38 299,107 299.38,107.95 300.11,108.84 300.8,110 301.2,110.42 302.37,110.48 303,110.8 304.2,110.89 304.7,111.28 306,111.3 305.84,111.56 305.37,111.75 305.5,112 304.43,112.32 302.83,111.9 301.5,112.2 301.09,112.42 300.76,112.19 300,112 299.62,110.2 298.46,108.92 298,107 297.09,105.88 295.73,105.39 295,104.5 294.59,104.21 294.68,103.18Z" fill="#1f8070"/>
<path d="M326.5,109.5 328.07,108.4 329.16,107.5 331,107 333.09,106.27 335.45,105.94 337.3,105.5 338.67,105.83 339.28,106.13 340.5,106.4 340.13,107.7 340.22,109.53 339.8,110.8 338.29,111.76 337.17,113.04 336,114 334.13,114.58 332.72,115.66 331,116.5 329.93,116.18 329.07,115.67 327.7,115.3 327.5,114.45 327.01,113.34 326.5,112.7 326.2,111.92 326.66,110.57Z" fill="#2e88d0"/>
<path d="M314.25,107 314.18,107.14 313.74,107.21 313.56,107.31 313.49,107.46 313.11,107.49 312.82,107.62 312.4,107.65 311.96,107.64 311.59,107.56 311.49,107.38 311.1,107.34 310.86,107.25 310.65,107.13 310.35,107 310.71,106.87 310.89,106.76 311.14,106.67 311.21,106.5 311.56,106.42 312.01,106.44 312.4,106.45 312.74,106.5 313.19,106.45 313.54,106.53 314.01,106.57 314.35,106.69 314.31,106.85Z" fill="#ee8a1e"/>
<path d="M303.73,64.6 303.82,64.77 303.83,64.95 303.8,65.17 303.68,65.36 303.44,65.42 303.16,65.23 303,65.2 302.85,65.19 302.64,65.26 302.44,65.23 302.37,65.05 302.25,64.92 302,64.8 301.93,64.6 302.07,64.41 302.15,64.24 302.3,64.1 302.44,63.98 302.61,63.89 302.82,63.89 303,63.87 303.21,63.8 303.39,63.88 303.57,63.96 303.81,64.03 303.95,64.19 303.83,64.43Z" fill="#ef5a4f"/>
<path d="M306.1,66.5 306.09,66.67 305.94,66.8 305.63,66.83 305.5,66.92 305.33,66.96 305.21,67.12 305,67.11 304.81,67.05 304.63,67.01 304.43,66.98 304.31,66.87 304.12,66.78 303.88,66.67 303.98,66.5 304.1,66.36 304.2,66.24 304.33,66.15 304.41,66.01 304.64,66 304.8,65.91 305,65.92 305.21,65.9 305.37,65.98 305.45,66.13 305.67,66.14 305.87,66.22 305.92,66.36Z" fill="#ee8a1e"/>
<path d="M302.12,66 302.07,66.13 302,66.24 302.08,66.46 302.04,66.68 301.84,66.72 301.66,66.71 301.5,66.72 301.34,66.7 301.24,66.54 301.12,66.48 301.05,66.36 300.96,66.26 300.76,66.17 300.68,66 300.7,65.82 300.86,65.69 300.97,65.58 301.11,65.51 301.2,65.38 301.31,65.17 301.5,65.1 301.66,65.3 301.79,65.4 301.9,65.5 302.01,65.6 302.16,65.68 302.25,65.83Z" fill="#5159ad"/>
<path d="M308.32,65.5 308.26,65.65 308.17,65.78 308.04,65.88 308.02,66.07 307.83,66.1 307.68,66.2 307.5,66.22 307.33,66.16 307.13,66.17 306.91,66.15 306.76,66.02 306.7,65.84 306.86,65.63 306.76,65.5 306.78,65.36 306.77,65.19 306.93,65.1 307.06,65.02 307.16,64.88 307.33,64.86 307.5,64.75 307.69,64.76 307.91,64.75 307.99,64.96 308.14,65.06 308.17,65.22 308.29,65.34Z" fill="#2e88d0"/>
<path d="M357.68,99 357.6,99.14 357.51,99.24 357.43,99.34 357.34,99.42 357.24,99.49 357.12,99.54 357,99.59 356.87,99.58 356.71,99.59 356.6,99.5 356.57,99.34 356.52,99.23 356.32,99.15 356.35,99 356.36,98.85 356.42,98.72 356.55,98.64 356.69,98.61 356.75,98.47 356.88,98.46 357,98.42 357.12,98.47 357.24,98.51 357.3,98.62 357.48,98.61 357.55,98.74 357.72,98.84Z" fill="#3cb59b"/>
<path d="M311.5,96 312.66,95.9 312.9,95 314,95 315.26,94.76 316.71,95.4 318,95.2 317.93,96.37 317.54,97.12 317,98.6 315.69,98.7 314.68,98.97 313.5,99.2 312.67,98.65 312.38,98.54 311.6,98.2 311.3,97.2 311.2,96.8Z" fill="#d44cc1"/>
<path d="M316.5,86.6 316.91,86.45 317.82,85.82 318.5,85.6 319.32,86.2 320.53,86.31 321.2,86.4 320.99,86.92 320.69,87.9 320.4,88.3 319.15,88.12 318.08,88 317.2,88.1 316.69,87.39 316.83,87.36Z" fill="#1f8a79"/>
<text x="332" y="50.8" font-size="4" fill="#111" stroke="#111" stroke-width="0.08">Mono/Macro</text>
<text x="301" y="63.4" font-size="4" fill="#111" stroke="#111" stroke-width="0.08">Malignant</text>
<text x="331" y="64.4" font-size="4" fill="#111" stroke="#111" stroke-width="0.08">Tyroid</text>
<text x="334" y="71" font-size="4" fill="#111" stroke="#111" stroke-width="0.08">Plasma</text>
<text x="354" y="69.4" font-size="4" fill="#111" stroke="#111" stroke-width="0.08">CD8T</text>
<text x="342" y="79.4" font-size="4" fill="#111" stroke="#111" stroke-width="0.08">NK</text>
<text x="348" y="79.4" font-size="4" fill="#111" stroke="#111" stroke-width="0.08">CD4Tex</text>
<text x="293" y="87.4" font-size="4" fill="#111" stroke="#111" stroke-width="0.08">Cholangiocytes</text>
<text x="329" y="90.4" font-size="4" fill="#111" stroke="#111" stroke-width="0.08">Hepatocyte</text>
<text x="320" y="99.4" font-size="4" fill="#111" stroke="#111" stroke-width="0.08">Endothelial</text>
<text x="299" y="105.4" font-size="4" fill="#111" stroke="#111" stroke-width="0.08">Fibroblasts</text>
<text x="392.8" y="45.4" font-size="3.9" fill="#333" stroke="#333" stroke-width="0.08">Celltype (major-lineage)</text>
<circle cx="396" cy="48.5" r="1.05" fill="#ee8a1e"/>
<text x="399.2" y="49.7" font-size="3.35" fill="#444" stroke="#444" stroke-width="0.08">CD8T</text>
<circle cx="396" cy="53.17" r="1.05" fill="#5159ad"/>
<text x="399.2" y="54.37" font-size="3.35" fill="#444" stroke="#444" stroke-width="0.08">CD4Tex</text>
<circle cx="396" cy="57.84" r="1.05" fill="#3cb59b"/>
<text x="399.2" y="59.04" font-size="3.35" fill="#444" stroke="#444" stroke-width="0.08">Cholangiocytes</text>
<circle cx="396" cy="62.51" r="1.05" fill="#9ccb3c"/>
<text x="399.2" y="63.71" font-size="3.35" fill="#444" stroke="#444" stroke-width="0.08">DC</text>
<circle cx="396" cy="67.18" r="1.05" fill="#d44cc0"/>
<text x="399.2" y="68.38" font-size="3.35" fill="#444" stroke="#444" stroke-width="0.08">Endothelial</text>
<circle cx="396" cy="71.85" r="1.05" fill="#13615c"/>
<text x="399.2" y="73.05" font-size="3.35" fill="#444" stroke="#444" stroke-width="0.08">Fibroblasts</text>
<circle cx="396" cy="76.52" r="1.05" fill="#d9a21c"/>
<text x="399.2" y="77.72" font-size="3.35" fill="#444" stroke="#444" stroke-width="0.08">Hepatocyte</text>
<circle cx="396" cy="81.19" r="1.05" fill="#2e88d0"/>
<text x="399.2" y="82.39" font-size="3.35" fill="#444" stroke="#444" stroke-width="0.08">Malignant</text>
<circle cx="396" cy="85.86" r="1.05" fill="#6a38a8"/>
<text x="399.2" y="87.06" font-size="3.35" fill="#444" stroke="#444" stroke-width="0.08">Mono/Macro</text>
<circle cx="396" cy="90.53" r="1.05" fill="#ef5a4f"/>
<text x="399.2" y="91.73" font-size="3.35" fill="#444" stroke="#444" stroke-width="0.08">NK</text>
<circle cx="396" cy="95.2" r="1.05" fill="#a3a392"/>
<text x="399.2" y="96.4" font-size="3.35" fill="#444" stroke="#444" stroke-width="0.08">Plasma</text>
<circle cx="396" cy="99.87" r="1.05" fill="#b5b52a"/>
<text x="399.2" y="101.07" font-size="3.35" fill="#444" stroke="#444" stroke-width="0.08">Tyroid</text>
<text x="487.5" y="41.2" font-size="5.1" fill="#333" text-anchor="middle" stroke="#333" stroke-width="0.08">STC1</text>
<path d="M448,47V119M462,47V119M475,47V119M488,47V119M501,47V119M515,47V119M448,48H524M448,61H524M448,74H524M448,87H524M448,100H524M448,113H524" stroke="#e6e6e6" stroke-width="0.45" fill="none"/>
<path d="M462.5,53.44 462.65,52.94 463.24,52.14 463.93,50.96 464.84,50.48 465.13,50.27 465.71,50.03 466.84,49.9 468.32,49.19 469.28,49.03 470.27,49.65 471.25,49.74 472.14,50.5 472.14,51.81 472.58,53.36 472.35,54.45 471.79,55.59 471.28,56.84 470.28,58.33 469.55,59.25 469.11,60.86 468.43,61.81 467.52,62.56 466.47,62.95 465.29,63.36 463.9,63.5 463.2,63.16 461.64,62.82 461.54,62.44 461,61.71 460.29,60.88 460.89,59.85 460.79,58.79 461.43,57.39 461.68,56.18 462.42,54.76Z" fill="#d5d5d5"/>
<path d="M513.55,59.1 514.3,58.06 514.81,57.3 515.69,56.62 516.47,57.19 517.14,57.44 517.84,57.55 518.42,58.53 519.43,59.86 519.98,60.65 519.98,61.8 520.2,63.03 520.69,64.53 520.08,64.88 519.41,65.94 518.55,66.31 517.8,66.08 516.45,65.5 515.34,65.3 514.63,64.43 513.52,63.73 512.84,62.98 512.79,61.37 513.03,60.6Z" fill="#d5d5d5"/>
<ellipse cx="516.76" cy="63.21" rx="1" ry="0.6" fill="#fff" fill-opacity="0.8"/>
<path d="M479.28,63.36 480.32,62.86 481.34,61.86 482.49,61.43 483.75,61.39 484.88,60.91 486.13,60.88 486.94,60.89 487.98,61.49 488.92,61.43 490.12,61.2 490.42,60.39 491.63,59.88 492.66,59.45 493.25,58.99 494.27,58.87 494.27,59.87 495.12,60.4 495.27,60.88 494.84,61.78 493.74,61.85 493.42,62.82 492.42,63.38 491.92,64.03 491.13,64.29 490.51,65 490.12,66.04 489.78,67.24 489.67,68.26 489.49,69.77 488.92,71.19 488.46,71.37 487.71,71.84 486.63,72.2 486.08,71.94 485.34,71.39 484.28,70.72 483.58,69.26 483.23,68.14 482.49,67.24 481.92,66.94 480.58,66.08 479.78,65.3 479.77,64.45 479.24,64.25Z" fill="#d5d5d5"/>
<path d="M473.33,70.26 473.42,70.38 473.26,70.48 473.17,70.59 473.02,70.7 472.89,70.85 472.57,70.85 472.28,70.87 472.05,70.74 471.86,70.67 471.63,70.65 471.36,70.61 471.18,70.51 470.97,70.4 471.12,70.26 471.14,70.14 471.27,70.03 471.39,69.92 471.54,69.82 471.75,69.74 472,69.67 472.28,69.66 472.56,69.67 472.79,69.76 472.99,69.84 473.18,69.92 473.28,70.03 473.14,70.17Z" fill="#d5d5d5"/>
<path d="M502.07,54.84 501.92,55.02 501.81,55.15 501.83,55.37 501.76,55.54 501.7,55.82 501.55,55.78 501.41,55.87 501.29,55.7 501.17,55.65 501.06,55.57 501,55.38 500.91,55.23 500.97,55 500.91,54.84 500.91,54.65 500.89,54.43 500.98,54.27 501.02,54.04 501.16,53.96 501.26,53.76 501.41,53.83 501.55,53.9 501.62,54.15 501.66,54.33 501.79,54.35 502,54.38 502.02,54.61Z" fill="#d5d5d5"/>
<path d="M501.06,66.85 501.02,66.7 501.53,67.08 501.77,66.85 501.92,68.57 502.06,70.27 501.99,71.5 501.67,71.92 501.29,72.1 501.27,72.28 500.88,70.5 501.25,68.51Z" fill="#d5d5d5"/>
<path d="M482.49,77.16 483.23,76.45 483.94,76.16 484.14,76.07 485.45,76.44 486.7,76.02 488.35,76.23 489.87,76.7 491.28,77.22 492.56,78.09 493.9,78.42 494.73,79.16 495.99,79.41 496.67,79.97 497.47,80.12 498.06,80.34 497.71,80.74 497.21,80.64 496.84,81.27 495.57,81.19 494.28,80.8 492.56,80.34 490.77,80.35 489.27,80.03 487.49,79.87 486.38,80.19 485.48,79.63 484.14,79.87 483.88,79.67 483.27,79.34 482.85,78.94 482.57,78.46 482.84,77.98Z" fill="#d5d5d5"/>
<ellipse cx="485.71" cy="78.09" rx="1.14" ry="0.69" fill="#fff" fill-opacity="0.8"/>
<path d="M484.63,82.19 485.5,82.26 485.52,83.15 486.42,83.12 486.52,84.38 487.11,84.73 487.49,85.84 486.99,86.91 486.47,87.41 486.42,88.55 485.48,88.28 484.93,88.32 484.28,88.16 483.52,87.25 483.07,86.63 482.85,85.84 483.72,84.58 483.8,83.54Z" fill="#d5d5d5"/>
<path d="M496.42,81.73 496.85,81.11 497.9,80.75 498.56,79.87 500.08,79.66 501.56,79.27 503.56,79.41 505.75,79.6 507.18,79.45 509.48,79.17 511,79.1 512.26,79.39 513.27,79.87 513.66,80.96 514.05,81.64 514.27,82.66 514,84.23 514.3,85.74 514.12,86.77 513.54,87.28 512.71,88.19 511.98,88.55 510.98,88.38 509.97,88.98 508.55,89.02 507.02,89.05 504.94,88.45 503.56,88.55 502.6,87.76 501.31,87.9 500.2,87.23 499.44,86.74 498.34,86.09 497.63,85.37 496.89,84.74 496.72,84.4 496.42,83.51 496.33,82.92 496.69,82.04Z" fill="#d5d5d5"/>
<path d="M500.2,89.02 501.02,88.84 502.17,88.36 503.56,88.01 505.35,87.74 506.65,87.92 508.55,87.54 508.91,88 509.44,88.84 510.34,89.02 509.96,89.77 509.8,90.59 509.91,91.81 509.01,92.13 508.35,92.97 507.84,93.66 507,94.13 505.47,94.04 504.41,94.36 503.54,93.69 502.38,93.25 501.06,93.2 500.58,92.49 500.06,91.85 499.99,90.88 500.08,90.15 500.09,89.57Z" fill="#d5d5d5"/>
<path d="M496.42,89.33 496.8,89.49 498.02,88.85 498.56,89.02 498.65,89.71 499.06,90.18 499.49,90.88 499.48,91.99 499.08,92.75 498.91,93.2 497.9,93.52 497.39,93.47 496.77,93.2 496.48,92 496.2,90.35Z" fill="#d5d5d5"/>
<path d="M455.72,91.81 456.61,90.52 456.95,89.51 457.5,88.32 458.51,87.78 459.2,87.55 459.79,86.84 460.65,86.34 461.33,86.33 462.14,85.84 462.69,86.32 463.61,87.35 464.29,87.78 465.2,88.57 465.81,89.06 466.14,89.33 466.08,90.89 465.77,92.22 465.71,93.28 464.76,94.08 464.45,94.6 463.43,95.76 462.28,96.38 461.26,96.57 460.29,96.69 459.28,97.28 457.97,97.79 457.15,98.24 456.54,97.66 455.91,96.61 455.29,96.22 455.3,95.77 455.37,95.18 455.08,94.28 455.52,93.74 455.42,92.95Z" fill="#d5d5d5"/>
<path d="M463.23,84.06 463.16,84.27 463.11,84.47 463.13,84.76 463.06,85 462.97,85.19 462.84,85.22 462.72,85.21 462.62,84.95 462.55,84.81 462.46,84.76 462.32,84.75 462.3,84.49 462.23,84.3 462.28,84.06 462.28,83.84 462.28,83.6 462.33,83.39 462.41,83.22 462.51,83.13 462.59,82.85 462.72,82.88 462.84,82.87 462.92,83.14 463.01,83.25 463.01,83.54 463.12,83.63 463.24,83.79Z" fill="#d5d5d5"/>
<path d="M476.64,95.14 477.5,94.68 477.83,94.57 478.21,94.28 478.78,94.3 479.69,94.68 480.28,94.98 479.86,95.8 479.8,96.36 479.64,96.69 479.05,96.83 478.13,96.5 477.14,96.53 476.69,96.39 476.89,95.69Z" fill="#d5d5d5"/>
<path d="M486.71,96.69 486.97,95.6 487.46,94.83 487.49,93.59 488.05,93.77 488.52,93.89 488.56,94.36 489.12,94.87 489.06,95.45 489.63,95.53 489.64,95.82 489.57,96.84 489.28,97.31 488.44,96.76 487.67,97.22Z" fill="#d5d5d5"/>
<path d="M473,102.5 473.75,102.17 474.4,101.75 474.64,101.65 475.81,101.58 476.7,101.3 477.99,101.57 478.84,101.18 479.39,100.96 479.99,100.33 481.01,99.96 481.8,100.22 482.49,99.71 483.55,99.69 483.79,100.01 484.78,100.56 483.82,100.88 483.56,101.46 482.85,102.11 481.88,102.38 481.16,102.45 479.99,103.12 478.99,103.7 478.36,103.65 477.99,104.44 477.22,104.87 475.84,105.24 475,105.14 474.41,104.56 473.89,104.71 473.21,104.44 473.28,103.68 473.09,102.81Z" fill="#d5d5d5"/>
<path d="M478.92,98.24 479.35,97.98 479.24,97.88 479.64,98 480.27,98.78 480.52,99.23 481.42,99.79 481.51,99.7 481.25,100.24 480.71,100.18 479.78,99.3 479.28,98.6Z" fill="#d5d5d5"/>
<path d="M460.72,107.93 460.99,107.3 461.76,107.43 461.79,107.07 462.28,107.17 462.27,107.83 463,107.77 463.16,107.96 462.89,108.67 462.86,109.09 463.42,109.86 463.99,110.59 464.29,111.03 464.5,111.75 465.06,112.42 465.57,113.35 465.76,113.71 466.73,113.71 467.14,113.97 468.06,114.02 468.27,114.37 469.28,114.36 469.17,114.57 468.75,114.7 468.93,114.9 468.24,115.21 467.02,114.77 466.07,115.06 465.81,115.29 465.61,115.08 465,114.9 464.81,113.48 463.85,112.57 463.57,111.03 462.94,110.09 461.87,109.79 461.43,109.09 461.11,108.91 461.3,108Z" fill="#d5d5d5"/>
<path d="M483.92,112.96 485.06,112.05 485.73,111.34 487.13,111.03 488.62,110.41 490.38,110.19 491.63,109.86 492.69,110.13 493,110.36 493.92,110.56 493.61,111.53 493.77,113.03 493.42,113.97 492.27,114.69 491.51,115.73 490.7,116.45 489.31,116.84 488.38,117.73 487.13,118.39 486.38,118.16 485.83,117.74 484.78,117.46 484.69,116.8 484.31,115.88 483.92,115.44 483.62,114.9 484.08,113.79Z" fill="#d5d5d5"/>
<path d="M475.17,111.03 475.12,111.13 474.81,111.19 474.68,111.26 474.63,111.38 474.36,111.41 474.16,111.5 473.85,111.53 473.54,111.52 473.28,111.46 473.2,111.32 472.93,111.29 472.75,111.22 472.61,111.13 472.39,111.03 472.65,110.93 472.78,110.84 472.95,110.77 473,110.64 473.26,110.58 473.58,110.59 473.85,110.6 474.1,110.64 474.42,110.6 474.66,110.66 475,110.69 475.24,110.78 475.22,110.91Z" fill="#d5d5d5"/>
<path d="M467.67,78.16 467.73,78.29 467.73,78.44 467.71,78.61 467.63,78.76 467.46,78.8 467.26,78.66 467.14,78.63 467.03,78.63 466.89,78.67 466.74,78.65 466.69,78.51 466.6,78.42 466.43,78.32 466.38,78.16 466.48,78.02 466.54,77.88 466.64,77.78 466.74,77.68 466.87,77.61 467.01,77.62 467.14,77.6 467.29,77.54 467.42,77.61 467.55,77.67 467.72,77.72 467.82,77.85 467.73,78.04Z" fill="#d5d5d5"/>
<path d="M469.35,79.64 469.35,79.77 469.24,79.87 469.02,79.9 468.93,79.96 468.81,79.99 468.72,80.12 468.57,80.11 468.43,80.07 468.31,80.03 468.16,80.01 468.08,79.92 467.94,79.86 467.77,79.77 467.84,79.64 467.93,79.53 468,79.44 468.09,79.36 468.15,79.26 468.31,79.25 468.42,79.18 468.57,79.19 468.72,79.17 468.84,79.24 468.89,79.35 469.05,79.36 469.19,79.42 469.23,79.53Z" fill="#d5d5d5"/>
<path d="M466.51,79.25 466.47,79.35 466.43,79.44 466.48,79.61 466.46,79.77 466.32,79.81 466.19,79.8 466.07,79.81 465.96,79.79 465.89,79.67 465.8,79.62 465.75,79.53 465.68,79.45 465.54,79.38 465.48,79.25 465.5,79.11 465.62,79.01 465.69,78.92 465.79,78.87 465.86,78.77 465.94,78.61 466.07,78.55 466.18,78.71 466.28,78.79 466.35,78.86 466.43,78.94 466.54,79 466.6,79.12Z" fill="#d5d5d5"/>
<path d="M470.94,78.86 470.9,78.98 470.83,79.08 470.74,79.15 470.73,79.31 470.59,79.33 470.49,79.41 470.36,79.42 470.23,79.37 470.09,79.38 469.93,79.37 469.83,79.26 469.78,79.12 469.9,78.96 469.83,78.86 469.84,78.75 469.83,78.62 469.95,78.56 470.04,78.49 470.11,78.38 470.24,78.37 470.36,78.28 470.49,78.29 470.65,78.29 470.71,78.44 470.81,78.52 470.84,78.64 470.92,78.74Z" fill="#d5d5d5"/>
<path d="M506.18,104.83 506.12,104.93 506.06,105.01 506.01,105.09 505.94,105.15 505.87,105.21 505.79,105.25 505.7,105.28 505.6,105.28 505.49,105.29 505.42,105.21 505.39,105.09 505.35,105.01 505.22,104.94 505.24,104.83 505.24,104.71 505.29,104.61 505.37,104.55 505.47,104.52 505.52,104.42 505.61,104.41 505.7,104.38 505.78,104.42 505.87,104.45 505.91,104.53 506.04,104.53 506.09,104.62 506.21,104.7Z" fill="#d5d5d5"/>
<path d="M473.21,102.5 474.13,102.48 474.13,101.65 475,101.72 475.87,101.47 476.94,102.1 477.85,101.88 477.88,102.8 477.59,103.29 477.14,104.51 476.17,104.57 475.48,104.8 474.64,104.98 473.99,104.51 473.89,104.47 473.28,104.21 472.99,103.37 472.9,103.14Z" fill="#6f6cc0"/>
<path d="M476.78,95.22 477,95.14 477.72,94.59 478.21,94.44 478.77,94.98 479.72,95.03 480.14,95.06 480.01,95.43 479.78,96.27 479.57,96.53 478.62,96.37 477.85,96.26 477.28,96.38 476.84,95.78 477.04,95.86Z" fill="#a9a6d8"/>
<defs><linearGradient id="cbb" x1="0" y1="0" x2="0" y2="1"><stop offset="0" stop-color="#1a106c"/><stop offset="0.35" stop-color="#473ca6"/><stop offset="0.7" stop-color="#8f89c6"/><stop offset="1" stop-color="#dcdce0"/></linearGradient></defs>
<rect x="529" y="45" width="4.6" height="76" fill="url(#cbb)"/>
<text x="535.2" y="121.7" font-size="2" fill="#888" stroke="#888" stroke-width="0.08">0</text>
<text x="535.2" y="105.68" font-size="2" fill="#888" stroke="#888" stroke-width="0.08">1</text>
<text x="535.2" y="89.67" font-size="2" fill="#888" stroke="#888" stroke-width="0.08">2</text>
<text x="535.2" y="73.65" font-size="2" fill="#888" stroke="#888" stroke-width="0.08">3</text>
<text x="535.2" y="57.64" font-size="2" fill="#888" stroke="#888" stroke-width="0.08">4</text>
<path d="M533.9,121h0.9M533.9,104.98h0.9M533.9,88.97h0.9M533.9,72.95h0.9M533.9,56.94h0.9" stroke="#999" stroke-width="0.3"/>
<text x="77" y="130" font-size="6.1" fill="#333" text-anchor="middle" stroke="#333" stroke-width="0.08">KIRC_GSE159115</text>
<path d="M30.7,136.5V228.7M47,136.5V228.7M64,136.5V228.7M80,136.5V228.7M96,136.5V228.7M112,136.5V228.7M26,140H124M26,154.5H124M26,169.6H124M26,185H124M26,200H124M26,214.6H124" stroke="#e6e6e6" stroke-width="0.45" fill="none"/>
<path d="M97.93,138.4 97.82,138.52 97.74,138.64 97.58,138.71 97.54,138.85 97.36,138.89 97.22,139.03 97,139.13 96.77,139.08 96.56,139.01 96.51,138.81 96.43,138.71 96.31,138.62 96.14,138.53 96.05,138.4 96.06,138.26 96.31,138.18 96.4,138.08 96.54,138.02 96.59,137.84 96.81,137.84 97,137.73 97.23,137.74 97.44,137.79 97.59,137.91 97.79,137.98 97.78,138.15 97.94,138.26Z" fill="#9ccb3c"/>
<path d="M53.9,158.9 54.53,157.47 55.08,155.9 55.4,154.5 56.8,153.06 58.05,152.38 59,150.9 60.56,150.47 61.69,150.12 63.4,149.5 64.63,149.34 65.28,148.32 66.3,148 67.48,147.77 68.19,147.6 69.2,147.3 69.15,148.47 69.92,149.17 69.9,150.2 68.73,150.78 67.7,151.41 66.3,151.6 65.17,152.13 63.87,152.63 62.6,153.1 61.6,153.97 60.52,154.24 59.7,155.3 58.51,156.3 57.53,157.49 56.8,158.9 56.09,158.84 56.04,159.32 55.4,159.6 54.55,159.2 54.41,158.86Z" fill="#5159ae"/>
<path d="M70,152.5 71.65,152.39 73.21,151.57 74.3,151.2 75.52,150.92 76.94,150.97 78.6,150.5 79.93,150.47 81.29,151.24 83,151.2 84.27,151.86 85.96,152.35 87,152.5 87.54,153.64 88.44,154.43 89,155 88.09,155.61 87.14,155.82 86,156.5 84.33,156.44 83.59,156.51 82,156 81.45,156.95 81.1,158.05 80.5,159 81.19,160.22 81.2,161.51 82,162.5 83.58,163.28 84.91,163.31 86,164 84.94,164.52 83.77,165.85 83,166.4 81.54,166.24 80.25,165.89 78.6,165.2 77.68,164.4 75.95,164.4 75,163.5 73.92,162.76 72.56,161.96 71.5,161 71,159.36 70.7,158.03 70,157 70,155.17 70.34,154.01Z" fill="#5159ad"/>
<path d="M87.5,154.5 88.14,154.49 89.01,155.05 90,155.5 90.99,156.87 91.1,158.21 92,160 92.03,161.2 91.93,162.82 91.5,164.5 90.69,165.22 89.15,165.69 88.5,166.5 88.18,165.74 87.11,165.51 86.5,165 87.38,163.77 88.23,163.07 89,162 89.02,160.7 88.7,159.25 89,158 88.4,157.12 88.1,155.66Z" fill="#d44cc0"/>
<path d="M83.85,153.4 83.58,153.64 83.31,153.82 83.23,154.06 82.97,154.25 82.55,154.31 82.21,154.44 81.8,154.5 81.34,154.57 80.92,154.45 80.48,154.36 80,154.23 79.87,153.94 80.03,153.63 80.43,153.4 80.16,153.18 80.06,152.91 80.3,152.71 80.64,152.55 80.96,152.39 81.33,152.21 81.8,152.2 82.3,152.13 82.76,152.25 82.94,152.57 83.15,152.78 83.58,152.9 83.72,153.15Z" fill="#d9a21c"/>
<path d="M86.41,147.3 86.42,147.54 86.42,147.8 86.44,148.16 86.34,148.4 86.21,148.61 86.08,148.84 85.9,148.96 85.74,148.73 85.59,148.57 85.46,148.4 85.45,148.02 85.34,147.84 85.15,147.64 85.13,147.3 85.19,146.98 85.33,146.75 85.35,146.42 85.47,146.22 85.54,145.82 85.72,145.68 85.9,145.84 86.03,146.19 86.19,146.09 86.4,146.05 86.51,146.33 86.61,146.62 86.59,146.98Z" fill="#5159ad"/>
<path d="M67,159.2 67.8,159.41 69.27,159.17 70,159 70.61,159.65 70.24,160.57 70.8,161.5 71.51,162.36 71.74,163.39 72.5,164 72.57,165.51 73.3,167.65 73.5,169 72.78,170 72.69,171.27 72,172.5 72.09,173.23 71.83,174.78 71.5,175.6 70.34,175.75 70.11,175.2 69,175.3 68.58,174.47 68.61,173.27 68,172 67.06,170.43 66.65,169.53 65.5,168 65.64,166.61 66.14,165.14 66,163.5 66.04,162.01 66.68,160.86Z" fill="#d9a21c"/>
<path d="M96,168 96.66,167.1 98,166.98 99,166.2 100.47,165.77 101.48,164.98 103,164.5 104.15,164.08 105.53,163.43 106.3,163.3 106.04,164.11 106.06,164.67 105.5,165.5 104.3,166.49 102.57,166.76 101.5,167.5 100.4,167.59 99.14,168.36 97.5,168.8 96.88,168.81 96.84,168.22Z" fill="#d9a21c"/>
<path d="M102.5,156 102.46,156.28 103.31,156.34 103.4,156 103.24,158.18 103.29,160.84 103.2,163.3 103.15,163.64 102.55,162.95 102.6,163.3 102.47,160.99 102.48,158.55Z" fill="#d9a21c"/>
<path d="M101.2,150.5 102.34,149.99 103.36,149.37 104,149 105.67,149.19 106.62,148.73 108,148.7 108.87,149.32 109.62,149.29 110.6,150 109.86,150.94 109.39,151.64 109,152.5 108.39,152.45 107.44,152.82 106.5,153.1 106.65,153.87 106.48,154.98 106.3,155.8 105.71,154.75 105.87,154.38 105.5,153.3 104.21,152.94 103.77,152.7 102.5,152.5 102.08,152 101.93,151.48Z" fill="#3cb59c"/>
<path d="M38.6,161 39.2,160.64 39.77,160.38 40,159.6 40.2,160.27 41,161.18 41.5,161.5 41.63,162.67 41.25,162.9 41,164 40.41,163.99 39.79,163.57 39.3,163.5 39.2,162.56 38.91,161.79Z" fill="#5159ad"/>
<path d="M48.8,174.5 49.88,173.76 51.17,173.63 52,172.7 53.6,172.87 54.95,172.68 56.5,172.9 57.91,173.93 58.42,174.56 59.7,175 59.46,175.84 58.46,177.14 58,178 57.19,178.21 56.34,179.2 55.5,179.3 54.56,179 53.73,178.92 53,178.8 52.06,178.44 51.29,178.04 50,177.5 49.46,176.73 49.11,175.62Z" fill="#d44cc0"/>
<path d="M55.3,179.5 55.97,179.54 56.25,179.49 56.5,179 58.61,180.67 60.46,182.45 62.5,184 62.51,184.48 62.07,184.93 61.5,185 59.56,183.3 57.11,181.43Z" fill="#d44cc0"/>
<path d="M43.5,188.6 45.34,188.13 47.49,187.09 49.8,186.8 51.5,188.12 52.98,188.92 54.4,190.5 54.41,192.37 55.27,194.36 55.3,196.8 54.34,198 52.84,199.81 51.6,201.4 49.44,201.14 47.53,200.99 45.3,200.5 44.69,198.66 43.48,196.69 42.5,195 43.08,193.14 43.37,190.95Z" fill="#3cb59b"/>
<path d="M31.6,197.7 32.62,196.85 34.23,195.63 35.3,195 37.26,196.5 39.16,198.23 40.7,199.5 42.43,200.25 44.43,200.78 46.2,201.4 45.42,202.4 44.22,203.01 43.5,204 41.11,203.36 38.78,202.67 36.2,202.3 34.78,201.96 33.42,201.86 32.5,201.4 32.02,199.82 32.02,198.86Z" fill="#3cb59b"/>
<path d="M33.5,207.5 34.41,207.54 35.98,207.02 37,206.8 39.13,207.5 40.7,207.81 42.5,208 41.78,209.37 41.59,210.19 41,211.4 39.6,211.2 37.63,211.23 36,211 35.11,209.91 34.09,208.63Z" fill="#3cb59b"/>
<path d="M37,213.5 38.15,213.04 39.78,212.92 41,213 41.69,213.89 42.34,215.04 43.5,216 43.06,217.89 42.62,219.56 42.5,221 41.56,221.74 40.39,221.73 39,222.3 38.43,221.17 37.87,219.56 37.5,218 37.33,216.17 37.15,214.68Z" fill="#3cb59b"/>
<path d="M73.5,187.7 75.16,187.47 77.1,186.43 78.9,186 80.45,187.12 80.95,188.54 82.5,189.5 83.05,191.09 83.35,192.93 83.5,195 82.69,196.83 81.41,198.34 80.7,200.5 79.64,201.8 78.52,202.53 77,204 75.62,203.69 73.78,203.09 72.5,202.3 72.44,199.7 71.95,197.58 71.6,195 72.08,192.91 72.6,190.32Z" fill="#d44cc0"/>
<path d="M59.8,200 61.55,199.76 64.23,199.19 66,199.3 67.85,199.38 70.01,199.51 72,199.5 72.05,200.76 72,202.29 72.5,203.5 70.53,203.38 68.22,203.73 66,204 63.88,203.67 61.91,203.8 60,203.5 59.59,202.4 60.1,200.99Z" fill="#d44cc0"/>
<path d="M103.5,176.8 104.79,176.47 106.15,175.73 108,175 108.92,176.15 109.99,177.33 110.7,178.6 111.67,179.06 112.48,179.46 113.5,179.5 114.67,179.89 116.33,180.84 118,181.4 119.22,183.39 119.46,185.64 120.7,187.7 121.34,190.15 121.58,192.66 121.6,195 120.35,196.08 119.41,197.23 118,198.6 116.44,198.02 114.4,198.09 112.5,197.7 111.13,195.99 109.28,194.4 108,193.2 106.51,191.27 105.88,189.57 104.4,187.7 104.1,185.99 102.99,183.79 102.5,182.3 103.07,180.79 103.2,178.53Z" fill="#15695e"/>
<path d="M93.5,193.2 94.44,193.72 95.31,194.42 96.2,195 97.4,196.69 97.96,198.58 99,200.5 98.12,201.31 97.93,202.26 97,203.2 95.78,202.83 93.78,202.52 92.5,202.3 90.99,203.11 89.96,204.38 88.9,205 88.33,205.24 87.98,204.9 87,205.3 87.37,204.16 87.45,203.6 88,202.3 89.08,201.25 90.14,200.07 90.7,198.6 91.26,197.22 91.21,195.87 91.6,195 91.98,194.21 92.99,194.13Z" fill="#ee8a1e"/>
<path d="M63.5,212 64.87,211.93 66.77,211.56 68,211.4 69.02,212.26 69.54,213.38 70.7,214 70.51,215.76 70.21,216.78 69.5,218.6 68.33,218.53 66.54,218.22 65,218.2 64.42,217.46 63.95,215.76 63.8,215 63.87,213.76 63.35,212.76Z" fill="#d44cc0"/>
<path d="M86.2,213 87.37,212.97 88.27,212.63 89.5,212.3 89.85,213.55 90.56,214.59 90.7,215.5 90.12,216.51 89.25,217.15 89,217.7 87.99,217.16 87.48,217.28 86.5,217 86.27,215.51 86.49,214.38Z" fill="#d44cc0"/>
<path d="M100.7,219.5 102,219.62 102.91,219.15 104,219 105.59,218.32 106.94,217.73 108.5,216.8 108.87,217.59 109.28,219.08 109.8,220 109.42,221.63 109.1,222.87 108.5,224.5 107.4,225.04 106.43,226.04 105.5,226.8 104.59,226.12 103.31,224.75 102.5,224 102.08,222.44 101.23,220.69Z" fill="#d44cbf"/>
<path d="M90.64,181 90.51,181.25 90.43,181.45 90.4,181.7 90.39,182.06 90.31,182.39 90.15,182.44 90,182.22 89.88,182.16 89.78,181.98 89.64,181.98 89.49,181.89 89.46,181.56 89.39,181.3 89.46,181 89.42,180.71 89.43,180.4 89.41,179.97 89.59,179.88 89.77,179.98 89.9,180.04 90,179.98 90.12,179.82 90.25,179.89 90.42,179.85 90.53,180.08 90.64,180.33 90.67,180.67Z" fill="#2e88d0"/>
<path d="M101.9,209 101.97,209.11 102.02,209.25 101.97,209.37 101.85,209.44 101.73,209.47 101.6,209.46 101.5,209.43 101.41,209.41 101.32,209.38 101.18,209.4 101.1,209.32 101.01,209.24 100.95,209.12 100.98,209 101.03,208.89 101.06,208.79 101.08,208.66 101.16,208.57 101.25,208.49 101.37,208.45 101.5,208.53 101.61,208.53 101.69,208.6 101.84,208.57 101.91,208.67 101.96,208.78 101.94,208.9Z" fill="#2e88d0"/>
<text x="98.5" y="140" font-size="4" fill="#111" stroke="#111" stroke-width="0.08">Erythroblasts</text>
<text x="72" y="156.8" font-size="4" fill="#111" stroke="#111" stroke-width="0.08">Endothelial</text>
<text x="79" y="163.6" font-size="4" fill="#111" stroke="#111" stroke-width="0.08">Pericytes</text>
<text x="58" y="188.4" font-size="4" fill="#111" stroke="#111" stroke-width="0.08">Epithelial</text>
<text x="88.6" y="188.4" font-size="4" fill="#111" stroke="#111" stroke-width="0.08">Mono/Macro</text>
<text x="58.6" y="196.6" font-size="4" fill="#111" stroke="#111" stroke-width="0.08">Malignant</text>
<text x="95.7" y="195.6" font-size="4" fill="#111" stroke="#111" stroke-width="0.08">Plasma</text>
<text x="93" y="199.2" font-size="4" fill="#111" stroke="#111" stroke-width="0.08">CD8T</text>
<text x="135" y="167" font-size="3.9" fill="#333" stroke="#333" stroke-width="0.08">Celltype (major-lineage)</text>
<circle cx="138" cy="170.5" r="1.05" fill="#ee8a1e"/>
<text x="141.8" y="171.7" font-size="3.35" fill="#444" stroke="#444" stroke-width="0.08">CD8T</text>
<circle cx="138" cy="175.07" r="1.05" fill="#5159ad"/>
<text x="141.8" y="176.27" font-size="3.35" fill="#444" stroke="#444" stroke-width="0.08">Endothelial</text>
<circle cx="138" cy="179.64" r="1.05" fill="#3cb59b"/>
<text x="141.8" y="180.84" font-size="3.35" fill="#444" stroke="#444" stroke-width="0.08">Epithelial</text>
<circle cx="138" cy="184.21" r="1.05" fill="#9ccb3c"/>
<text x="141.8" y="185.41" font-size="3.35" fill="#444" stroke="#444" stroke-width="0.08">Erythroblasts</text>
<circle cx="138" cy="188.78" r="1.05" fill="#d44cc0"/>
<text x="141.8" y="189.98" font-size="3.35" fill="#444" stroke="#444" stroke-width="0.08">Malignant</text>
<circle cx="138" cy="193.35" r="1.05" fill="#15695e"/>
<text x="141.8" y="194.55" font-size="3.35" fill="#444" stroke="#444" stroke-width="0.08">Mono/Macro</text>
<circle cx="138" cy="197.92" r="1.05" fill="#d9a21c"/>
<text x="141.8" y="199.12" font-size="3.35" fill="#444" stroke="#444" stroke-width="0.08">Pericytes</text>
<circle cx="138" cy="202.49" r="1.05" fill="#2e88d0"/>
<text x="141.8" y="203.69" font-size="3.35" fill="#444" stroke="#444" stroke-width="0.08">Plasma</text>
<text x="217" y="146" font-size="5.1" fill="#333" text-anchor="middle" stroke="#333" stroke-width="0.08">STC1</text>
<path d="M185,150V224.5M197,150V224.5M209,150V224.5M221,150V224.5M233,150V224.5M245,150V224.5M182.5,153H252M182.5,165H252M182.5,177H252M182.5,189H252M182.5,201H252M182.5,213H252" stroke="#e6e6e6" stroke-width="0.45" fill="none"/>
<path d="M234.9,151.83 234.83,151.93 234.77,152.01 234.66,152.07 234.64,152.18 234.51,152.22 234.42,152.32 234.27,152.4 234.12,152.36 233.97,152.31 233.94,152.15 233.88,152.07 233.8,152 233.69,151.93 233.63,151.83 233.63,151.72 233.8,151.65 233.86,151.58 233.96,151.53 234,151.39 234.14,151.39 234.27,151.3 234.43,151.31 234.57,151.35 234.67,151.44 234.8,151.5 234.8,151.63 234.91,151.72Z" fill="#d5d5d5"/>
<path d="M205.14,167.86 205.6,166.75 206,165.5 206.15,164.42 207.16,163.24 208.03,162.82 208.58,161.6 209.67,161.28 210.33,161.03 211.56,160.51 212.47,160.46 212.81,159.55 213.52,159.34 214.39,159.16 214.78,159.03 215.48,158.79 215.35,159.75 216.04,160.24 215.95,161.06 215.17,161.53 214.53,162.06 213.52,162.15 212.79,162.57 211.89,162.96 211.02,163.32 210.33,164.04 209.56,164.14 209.06,165.04 208.18,165.78 207.51,166.72 207.1,167.86 206.53,167.75 206.64,168.18 206.15,168.41 205.47,168.06 205.48,167.77Z" fill="#d5d5d5"/>
<path d="M216.02,162.86 217.21,162.84 218.3,162.11 218.93,161.84 219.68,161.61 220.64,161.71 221.83,161.29 222.69,161.21 223.57,161.93 224.81,161.84 225.64,162.4 226.9,162.8 227.51,162.86 227.83,163.81 228.52,164.42 228.86,164.81 228.28,165.31 227.65,165.41 226.84,165.98 225.6,165.96 225.29,166.07 224.13,165.59 223.74,166.33 223.56,167.21 223.12,167.94 223.65,168.9 223.49,169.94 224.13,170.68 225.28,171.35 226.18,171.27 226.84,171.85 226.1,172.2 225.25,173.35 224.81,173.72 223.82,173.65 223.01,173.39 221.83,172.79 221.3,172.11 219.96,172.24 219.4,171.46 218.7,170.9 217.72,170.28 217.03,169.5 216.7,168.15 216.56,167.11 216.02,166.37 216.02,164.87 216.36,164.04Z" fill="#9d99d4"/>
<path d="M227.85,164.42 228.22,164.34 228.82,164.83 229.54,165.2 230.32,166.24 230.21,167.26 230.89,168.72 230.98,169.59 230.93,170.89 230.55,172.24 230.07,172.81 228.85,173.14 228.53,173.8 228.42,173.15 227.57,173.03 227.17,172.63 227.78,171.62 228.36,171.13 228.86,170.28 228.89,169.28 228.56,168.12 228.86,167.16 228.42,166.53 228.29,165.33Z" fill="#d5d5d5"/>
<path d="M225.39,163.56 225.2,163.74 225.02,163.89 224.96,164.08 224.79,164.22 224.51,164.27 224.27,164.37 224,164.42 223.69,164.47 223.41,164.38 223.1,164.31 222.78,164.21 222.69,163.98 222.8,163.74 223.07,163.56 222.89,163.39 222.82,163.18 222.98,163.02 223.21,162.9 223.43,162.77 223.68,162.63 224,162.62 224.34,162.56 224.65,162.66 224.77,162.91 224.91,163.07 225.2,163.17 225.29,163.36Z" fill="#d5d5d5"/>
<path d="M227.11,158.79 227.12,158.97 227.12,159.18 227.13,159.46 227.06,159.65 226.98,159.81 226.89,159.99 226.77,160.09 226.66,159.91 226.56,159.79 226.47,159.65 226.46,159.35 226.39,159.21 226.26,159.06 226.25,158.79 226.29,158.54 226.38,158.36 226.4,158.1 226.48,157.94 226.53,157.63 226.64,157.52 226.77,157.65 226.85,157.92 226.97,157.84 227.1,157.81 227.18,158.03 227.25,158.26 227.24,158.54Z" fill="#9d99d4"/>
<path d="M213.99,168.09 214.47,168.32 215.61,168.09 216.02,167.94 216.55,168.4 216.09,169.14 216.56,169.89 217.09,170.57 217.14,171.42 217.71,171.85 217.67,172.99 218.3,174.77 218.39,175.76 217.83,176.51 217.9,177.52 217.37,178.5 217.52,179 217.31,180.32 217.03,180.92 216.15,181.09 216.18,180.57 215.34,180.68 215.03,180.1 215.17,179.13 214.67,178.1 214,176.83 213.86,176.22 212.98,174.98 213.07,173.91 213.51,172.77 213.32,171.46 213.25,170.28 213.78,169.44Z" fill="#d5d5d5"/>
<path d="M233.6,174.98 233.94,174.21 234.95,174.21 235.62,173.57 236.66,173.27 237.24,172.6 238.33,172.24 239.12,171.91 240.14,171.34 240.56,171.3 240.39,171.95 240.49,172.35 240.02,173.02 239.25,173.87 237.95,173.99 237.31,174.59 236.65,174.58 235.81,175.26 234.61,175.6 234.15,175.67 234.27,175.14Z" fill="#d5d5d5"/>
<path d="M237.99,165.59 237.85,165.87 238.6,165.94 238.6,165.59 238.46,167.24 238.53,169.37 238.46,171.3 238.47,171.64 237.94,170.95 238.06,171.3 237.93,169.52 237.96,167.61Z" fill="#d5d5d5"/>
<path d="M237.11,161.29 237.95,160.89 238.67,160.38 239,160.12 240.25,160.33 240.76,159.89 241.71,159.88 242.3,160.41 242.77,160.28 243.47,160.9 242.89,161.66 242.6,162.17 242.38,162.86 242.04,162.77 241.36,163.08 240.69,163.32 240.86,163.9 240.71,164.82 240.56,165.44 240.06,164.57 240.3,164.38 240.02,163.48 239.05,163.18 238.93,163 237.99,162.86 237.71,162.5 237.7,162.12Z" fill="#8a86cc"/>
<path d="M194.79,169.5 195.25,169.24 195.66,169.08 195.74,168.41 195.77,168.94 196.42,169.71 196.75,169.89 196.94,170.88 196.62,170.93 196.42,171.85 196.01,171.88 195.57,171.5 195.27,171.46 195.25,170.7 195.03,170.11Z" fill="#9d99d4"/>
<path d="M201.69,180.06 202.43,179.45 203.36,179.45 203.85,178.65 204.97,178.81 205.83,178.6 206.89,178.81 207.96,179.69 208.12,180.17 209.06,180.45 209.01,181.07 208.18,182.15 207.91,182.8 207.37,182.91 206.79,183.81 206.22,183.81 205.55,183.55 204.99,183.5 204.53,183.42 203.91,183.16 203.47,182.85 202.5,182.41 202.09,181.85 201.87,180.97Z" fill="#d5d5d5"/>
<path d="M206.08,183.97 206.63,184.04 206.78,184.03 206.89,183.58 208.35,184.88 209.56,186.3 210.95,187.49 211.07,187.89 210.73,188.27 210.27,188.27 209,186.97 207.23,185.5Z" fill="#d5d5d5"/>
<path d="M198.11,191.09 199.26,190.74 200.73,189.83 202.36,189.68 203.57,190.73 204.55,191.26 205.47,192.57 205.39,193.99 206.15,195.52 206.08,197.5 205.53,198.36 204.42,199.84 203.58,201.09 202.1,200.9 200.87,200.82 199.32,200.39 199.02,198.95 198.1,197.39 197.43,196.09 197.9,194.7 198.08,192.97Z" fill="#d5d5d5"/>
<path d="M190.06,198.2 190.68,197.54 191.89,196.52 192.56,196.09 193.94,197.26 195.25,198.67 196.21,199.61 197.35,200.22 198.76,200.62 199.93,201.09 199.44,201.9 198.53,202.33 198.11,203.13 196.5,202.61 194.96,202.05 193.17,201.8 192.16,201.53 191.19,201.49 190.67,201.09 190.29,199.78 190.39,199.09Z" fill="#d5d5d5"/>
<path d="M191.35,205.87 191.88,205.95 193.07,205.49 193.71,205.32 195.25,205.93 196.22,206.16 197.43,206.26 196.87,207.38 196.84,207.95 196.42,208.91 195.55,208.74 194.12,208.8 193.04,208.6 192.41,207.77 191.67,206.74Z" fill="#d5d5d5"/>
<path d="M193.71,210.56 194.43,210.13 195.62,210.05 196.42,210.17 196.83,210.83 197.21,211.77 198.11,212.51 197.77,214.04 197.44,215.35 197.43,216.42 196.87,217.07 196.08,216.96 195.06,217.44 194.66,216.63 194.25,215.32 194.05,214.08 193.94,212.58 193.81,211.41Z" fill="#d5d5d5"/>
<path d="M218.39,190.38 219.46,190.27 220.82,189.36 222.04,189.05 223.19,189.91 223.31,191.08 224.47,191.79 224.92,192.98 225.11,194.42 225.15,196.09 224.64,197.52 223.66,198.63 223.25,200.39 222.6,201.44 221.87,201.91 220.75,203.13 219.86,202.94 218.51,202.46 217.71,201.8 217.74,199.72 217.35,198.14 217.1,196.09 217.38,194.53 217.69,192.47Z" fill="#d5d5d5"/>
<path d="M209.12,200 210.21,199.81 212.22,199.29 213.32,199.45 214.52,199.52 216.03,199.63 217.37,199.61 217.37,200.58 217.27,201.82 217.71,202.74 216.44,202.58 214.84,202.89 213.32,203.13 211.84,202.83 210.52,203 209.26,202.74 208.87,201.89 209.41,200.73Z" fill="#d5d5d5"/>
<path d="M238.67,181.86 239.47,181.66 240.35,181.05 241.71,180.45 242.33,181.34 243.11,182.26 243.53,183.27 244.2,183.66 244.71,183.99 245.43,183.97 246.11,184.22 247.28,185.04 248.47,185.45 249.39,186.99 249.35,188.78 250.29,190.38 250.84,192.3 250.97,194.28 250.9,196.09 250.04,196.91 249.49,197.79 248.47,198.91 247.5,198.39 246.05,198.52 244.75,198.2 243.86,196.82 242.5,195.55 241.71,194.68 240.6,193.15 240.37,191.85 239.27,190.38 239.18,189.06 238.28,187.26 237.99,186.16 238.45,185.05 238.47,183.19Z" fill="#d5d5d5"/>
<path d="M231.91,194.68 232.55,195.07 233.13,195.64 233.73,196.09 234.63,197.38 234.89,198.87 235.62,200.39 234.96,201.01 234.99,201.76 234.27,202.5 233.54,202.2 232.02,201.96 231.23,201.8 230.11,202.41 229.47,203.49 228.8,203.91 228.43,204.13 228.28,203.76 227.51,204.14 227.77,203.22 227.74,202.88 228.19,201.8 228.98,201.02 229.75,200.1 230.01,198.91 230.48,197.79 230.33,196.7 230.62,196.09 230.79,195.43 231.6,195.48Z" fill="#d5d5d5"/>
<path d="M211.63,209.38 212.51,209.36 213.92,209.04 214.67,208.91 215.4,209.59 215.62,210.52 216.49,210.95 216.44,212.38 216.27,213.06 215.68,214.55 215,214.5 213.7,214.23 212.64,214.23 212.19,213.72 211.85,212.26 211.83,211.73 211.93,210.71 211.45,209.93Z" fill="#d5d5d5"/>
<path d="M226.97,210.17 227.78,210.19 228.33,209.9 229.2,209.62 229.43,210.64 230,211.45 230.01,212.12 229.62,212.97 228.93,213.45 228.86,213.84 228.13,213.35 227.88,213.52 227.17,213.29 226.98,212.1 227.23,211.26Z" fill="#d5d5d5"/>
<path d="M236.77,215.25 237.72,215.4 238.27,214.97 239,214.86 240.11,214.34 240.97,213.91 242.05,213.14 242.27,213.7 242.54,214.95 242.92,215.64 242.68,216.94 242.51,217.85 242.05,219.16 241.27,219.53 240.63,220.37 240.02,220.96 239.43,220.48 238.47,219.31 237.99,218.77 237.77,217.53 237.11,216.11Z" fill="#aeaad6"/>
<path d="M229.97,185.14 229.89,185.34 229.83,185.49 229.81,185.69 229.8,185.97 229.75,186.23 229.64,186.27 229.54,186.1 229.46,186.05 229.39,185.91 229.3,185.91 229.19,185.83 229.18,185.58 229.13,185.38 229.17,185.14 229.15,184.92 229.15,184.67 229.14,184.34 229.26,184.27 229.39,184.34 229.47,184.39 229.54,184.34 229.62,184.22 229.71,184.27 229.83,184.24 229.9,184.42 229.97,184.62 229.99,184.88Z" fill="#d5d5d5"/>
<path d="M237.59,207.04 237.63,207.12 237.66,207.23 237.63,207.33 237.55,207.39 237.47,207.41 237.38,207.4 237.31,207.37 237.25,207.36 237.19,207.34 237.1,207.35 237.04,207.29 236.98,207.22 236.94,207.14 236.96,207.04 236.99,206.95 237.02,206.87 237.03,206.77 237.08,206.7 237.15,206.64 237.23,206.61 237.31,206.67 237.39,206.67 237.44,206.72 237.54,206.7 237.59,206.78 237.62,206.87 237.61,206.96Z" fill="#d5d5d5"/>
<defs><linearGradient id="cbc" x1="0" y1="0" x2="0" y2="1"><stop offset="0" stop-color="#1a106c"/><stop offset="0.35" stop-color="#473ca6"/><stop offset="0.7" stop-color="#8f89c6"/><stop offset="1" stop-color="#dcdce0"/></linearGradient></defs>
<rect x="258.5" y="149.5" width="4.5" height="75.5" fill="url(#cbc)"/>
<text x="264.6" y="225.7" font-size="2" fill="#888" stroke="#888" stroke-width="0.08">0</text>
<text x="264.6" y="209.79" font-size="2" fill="#888" stroke="#888" stroke-width="0.08">1</text>
<text x="264.6" y="193.88" font-size="2" fill="#888" stroke="#888" stroke-width="0.08">2</text>
<text x="264.6" y="177.97" font-size="2" fill="#888" stroke="#888" stroke-width="0.08">3</text>
<text x="264.6" y="162.06" font-size="2" fill="#888" stroke="#888" stroke-width="0.08">4</text>
<path d="M263.3,225h0.9M263.3,209.09h0.9M263.3,193.18h0.9M263.3,177.27h0.9M263.3,161.36h0.9" stroke="#999" stroke-width="0.3"/>
<text x="334" y="130.4" font-size="6.1" fill="#333" text-anchor="middle" stroke="#333" stroke-width="0.08">STAD_GSE167297</text>
<path d="M290.5,135V228M306,135V228M321.5,135V228M337.5,135V228M353,135V228M368.5,135V228M282,147H382.6M282,163.5H382.6M282,180H382.6M282,196.6H382.6M282,212H382.6" stroke="#e6e6e6" stroke-width="0.45" fill="none"/>
<path d="M338.8,148 339.39,146.76 340.93,145.82 341.5,145 342.37,144.06 343.85,143.59 345,143 346.32,142.05 347.1,141.52 348.5,140.5 349.42,140.15 351.03,139.52 352,139.3 353.12,139.64 354.4,140.19 356,140.5 357.22,141.24 358.02,141.52 359.5,142 359.79,142.8 360.7,142.91 361.2,143.5 360.59,144.17 359.63,144.74 359,145.5 357.64,146.66 356.66,146.82 355.5,148 354.97,148.93 354.32,150.47 353.5,151.5 352.7,152.01 351.93,152.11 351.5,152.5 350.6,151.48 349.96,150.57 349,149.7 347.28,149.43 345.98,149.06 344.5,148.8 343.08,149 342.1,149.76 340.5,149.8 339.93,149.27 339.56,148.37Z" fill="#6a38a8"/>
<path d="M307.7,173.6 308.65,172.87 309.9,172.02 310.8,171.3 312.89,170.68 315.03,170.25 317,169.8 318.73,169.92 321.16,170.31 323.2,170.2 324.42,171.25 325.34,172.15 326.3,172.9 326.86,174.64 327.57,176.41 327.8,178.3 327.75,180.1 327.41,182.09 327,184.5 326.06,185.82 325.81,187.78 324.7,189.1 323.38,190.5 321.89,192.01 320.1,193.7 318.5,193.38 316.17,193.99 314.7,193.7 314.17,192.16 313.18,190.58 312.4,189.1 312.27,186.85 312.14,183.83 311.6,181.4 310.5,180.16 309.33,178.64 308.5,177.5 308,176.26 308.15,174.56Z" fill="#5159ad"/>
<path d="M328.5,184 328.82,181.76 329.69,179.81 330,178 330.99,175.99 331.66,174.67 333,172.5 334.02,171.06 335.81,169.88 337,168.5 338.8,167.8 340.48,167.32 342,166.8 343.29,167.23 345.05,167.31 346.5,167.3 347.17,168.51 347.22,169.12 348,170 347.29,171.53 347.07,173.23 346.5,174.5 345.28,175.87 343.79,176.89 342,178.5 339.96,179.71 338.49,181.13 336.5,182 334.71,182.84 332.95,184.55 331.5,185.3 330.71,185 329.46,184.3Z" fill="#ee8a1e"/>
<ellipse cx="333.5" cy="180.5" rx="1.2" ry="0.72" fill="#fff" fill-opacity="0.8"/>
<ellipse cx="331" cy="183" rx="0.8" ry="0.48" fill="#fff" fill-opacity="0.8"/>
<path d="M330,190 331.26,189.19 331.68,188.39 333,188 334.48,187.81 336.15,187.94 337.9,187.6 337.72,188.67 337.58,189.77 337,191 335.6,191.96 334.21,192.69 333,193.7 331.83,193.27 331.03,193.49 330.5,193 330.58,192.06 330.51,190.96Z" fill="#5159ad"/>
<path d="M292.39,189 292.13,189.19 291.97,189.35 291.77,189.51 291.42,189.58 291.27,189.8 290.94,189.96 290.5,190.09 290.05,189.99 289.57,189.96 289.42,189.68 289.07,189.57 289.07,189.35 288.78,189.2 288.79,189 288.82,188.81 288.92,188.62 289.08,188.43 289.29,188.24 289.69,188.16 290.06,188.03 290.5,188 290.9,188.11 291.27,188.2 291.45,188.4 291.99,188.41 292.36,188.55 292.37,188.79Z" fill="#d9a21c"/>
<path d="M360.3,166 361.45,165.38 362.26,165.08 363,165 364.1,165.8 365.05,165.93 366,166.5 367.37,167.33 368.53,169.09 369.6,170 370.26,170.55 370.93,170.4 372,171 373.68,170.95 374.92,170.95 376,170.5 377.68,171.25 379.07,171.97 380.4,172.5 380.23,173.81 379.43,174.96 379,176.5 377.64,177.36 376.08,177.81 374.2,178.3 373.94,179.58 373.99,180.98 374,182 373.25,183.26 372.81,184.87 372,186 370.54,186.82 369,187.2 367,187.5 365.32,187.14 362.65,187.47 361,187 360.54,185.66 360.43,184 360.5,183 361.17,182.21 362.47,181.26 363,180 362.04,178.62 361.5,177.14 361,176 361.88,174.68 362.49,173.67 363,172 362.34,171.02 361.07,169.98 360.5,169 360.35,167.73 360.44,166.94Z" fill="#d85cc6"/>
<ellipse cx="366" cy="175.5" rx="1.3" ry="0.78" fill="#fff" fill-opacity="0.8"/>
<ellipse cx="370" cy="181" rx="1" ry="0.6" fill="#fff" fill-opacity="0.8"/>
<ellipse cx="376" cy="174" rx="0.9" ry="0.54" fill="#fff" fill-opacity="0.8"/>
<ellipse cx="364" cy="169.5" rx="0.8" ry="0.48" fill="#fff" fill-opacity="0.8"/>
<ellipse cx="365" cy="184" rx="0.9" ry="0.54" fill="#fff" fill-opacity="0.8"/>
<ellipse cx="372.5" cy="177" rx="0.8" ry="0.48" fill="#fff" fill-opacity="0.8"/>
<path d="M344.4,204 344.74,202.95 345.37,201.95 346,200.5 347,200.13 348.59,199.65 350,199.3 351.43,199.52 352.97,199.96 354,199.8 354.62,201.02 354.67,202.06 355.4,203 354.62,204.19 353.79,205.46 353,207 351.42,208.05 350.59,208.07 349,209.1 347.9,208.41 346.37,208.54 345.5,208 345.35,206.73 344.73,205.22Z" fill="#2e88d0"/>
<path d="M351,205 352.34,204.32 354.01,203.22 355,202.5 356.05,203.32 357.5,203.59 359,204.5 359.15,205.88 359.43,207.66 359.7,209 358.24,209.87 356.97,211.04 356,211.8 354.78,211.62 353,210.87 352,210.5 351.99,208.68 351.13,207.11Z" fill="#48c0a8"/>
<path d="M322,215.2 323.02,214.99 324.96,214.6 326,214.5 327.63,214.63 328.6,214.84 330.3,215 330.26,215.43 329.76,216.58 330,217.3 328.71,217.17 327.99,217.75 327,217.6 327.21,218.8 327.1,219.85 327.5,220.5 327.21,221.11 327.1,222.16 327,223.3 326.14,223.25 325.45,222.54 324.5,222.5 324.66,220.88 324.91,219.5 325.5,218 324.11,216.99 323.24,215.83Z" fill="#13615c"/>
<path d="M339.5,220.5 340.18,220.54 341.06,220.05 342,220 342.81,220.53 343.55,221.65 344,222 345.12,222.69 346.64,223.11 347.7,223.5 347.42,224.58 346.42,225.81 346,226.5 345.15,226.13 343.36,226.11 342.5,226 342.16,226.99 342.04,227.64 342,228.7 341.48,228.52 341,228.74 340.5,228.5 340.51,227.25 340.21,225.31 340.5,224 340.39,222.85 340.17,221.85Z" fill="#9ccb3c"/>
<text x="353" y="144.8" font-size="4" fill="#111" stroke="#111" stroke-width="0.08">Plasma</text>
<text x="321" y="179.4" font-size="4" fill="#111" stroke="#111" stroke-width="0.08">CD8T</text>
<text x="339" y="173.4" font-size="4" fill="#111" stroke="#111" stroke-width="0.08">B</text>
<text x="353" y="177.4" font-size="4" fill="#111" stroke="#111" stroke-width="0.08">Epithelial</text>
<text x="294.7" y="189.4" font-size="4" fill="#111" stroke="#111" stroke-width="0.08">Mast</text>
<text x="349.6" y="203.4" font-size="4" fill="#111" stroke="#111" stroke-width="0.08">Mono/Macro</text>
<text x="358" y="210.4" font-size="4" fill="#111" stroke="#111" stroke-width="0.08">DC</text>
<text x="327" y="218" font-size="4" fill="#111" stroke="#111" stroke-width="0.08">Fibroblasts</text>
<text x="341" y="224" font-size="4" fill="#111" stroke="#111" stroke-width="0.08">Endothelial</text>
<text x="394" y="164.6" font-size="3.9" fill="#333" stroke="#333" stroke-width="0.08">Celltype (major-lineage)</text>
<circle cx="397" cy="168" r="1.05" fill="#ee8a1e"/>
<text x="401" y="169.2" font-size="3.35" fill="#444" stroke="#444" stroke-width="0.08">B</text>
<circle cx="397" cy="172.6" r="1.05" fill="#5159ad"/>
<text x="401" y="173.8" font-size="3.35" fill="#444" stroke="#444" stroke-width="0.08">CD8T</text>
<circle cx="397" cy="177.2" r="1.05" fill="#46bfb0"/>
<text x="401" y="178.4" font-size="3.35" fill="#444" stroke="#444" stroke-width="0.08">DC</text>
<circle cx="397" cy="181.8" r="1.05" fill="#9ccb3c"/>
<text x="401" y="183" font-size="3.35" fill="#444" stroke="#444" stroke-width="0.08">Endothelial</text>
<circle cx="397" cy="186.4" r="1.05" fill="#d44cc0"/>
<text x="401" y="187.6" font-size="3.35" fill="#444" stroke="#444" stroke-width="0.08">Epithelial</text>
<circle cx="397" cy="191" r="1.05" fill="#13615c"/>
<text x="401" y="192.2" font-size="3.35" fill="#444" stroke="#444" stroke-width="0.08">Fibroblasts</text>
<circle cx="397" cy="195.6" r="1.05" fill="#d9a21c"/>
<text x="401" y="196.8" font-size="3.35" fill="#444" stroke="#444" stroke-width="0.08">Mast</text>
<circle cx="397" cy="200.2" r="1.05" fill="#2e88d0"/>
<text x="401" y="201.4" font-size="3.35" fill="#444" stroke="#444" stroke-width="0.08">Mono/Macro</text>
<circle cx="397" cy="204.8" r="1.05" fill="#6a38a8"/>
<text x="401" y="206" font-size="3.35" fill="#444" stroke="#444" stroke-width="0.08">Plasma</text>
<text x="485" y="147" font-size="5.1" fill="#333" text-anchor="middle" stroke="#333" stroke-width="0.08">STC1</text>
<path d="M452,148.5V229M465,148.5V229M478,148.5V229M491,148.5V229M504,148.5V229M517,148.5V229M449.5,152H522M449.5,165H522M449.5,178H522M449.5,191H522M449.5,204H522M449.5,217H522" stroke="#e6e6e6" stroke-width="0.45" fill="none"/>
<path d="M489.27,159.24 489.58,158.22 490.85,157.51 491.14,156.91 491.66,156.11 492.78,155.8 493.57,155.35 494.54,154.59 494.96,154.25 496.01,153.41 496.57,153.15 497.83,152.61 498.44,152.48 499.16,152.72 500.03,153.18 501.22,153.41 502.09,154.04 502.52,154.21 503.65,154.58 503.77,155.27 504.51,155.27 504.83,155.74 504.44,156.27 503.71,156.69 503.31,157.3 502.3,158.27 501.68,158.25 500.87,159.24 500.54,159.92 500.1,161.2 499.48,161.97 498.89,162.41 498.32,162.43 498.09,162.75 497.45,161.93 497.06,161.23 496.36,160.57 495.09,160.36 494.25,160.06 493.23,159.87 492.22,159.99 491.64,160.68 490.45,160.64 490.05,160.24 489.85,159.48Z" fill="#d5d5d5"/>
<path d="M467.65,179.16 468.29,178.6 469.22,177.93 469.81,177.37 471.26,176.86 472.77,176.54 474.12,176.2 475.21,176.3 477.01,176.65 478.42,176.52 479.33,177.37 479.93,178.06 480.58,178.62 480.98,179.96 481.55,181.33 481.62,182.82 481.66,184.16 481.39,185.69 481.06,187.64 480.36,188.62 480.34,190.24 479.47,191.22 478.62,192.28 477.59,193.45 476.27,194.8 475.21,194.48 473.44,195.09 472.52,194.8 472.22,193.6 471.47,192.36 470.92,191.22 470.87,189.54 470.82,187.08 470.36,185.23 469.58,184.28 468.72,183.05 468.21,182.19 467.79,181.24 468.02,179.83Z" fill="#d5d5d5"/>
<path d="M482.11,187.25 482.27,185.45 482.99,183.95 483.15,182.58 483.84,180.98 484.2,180.07 485.24,178.31 485.85,177.16 487.24,176.28 488.01,175.19 489.3,174.62 490.48,174.26 491.49,173.87 492.32,174.26 493.62,174.31 494.62,174.26 495.13,175.27 495.03,175.68 495.66,176.36 495.1,177.56 495.04,178.92 494.62,179.86 493.86,180.94 492.82,181.66 491.49,182.97 490.01,183.92 489.1,185.08 487.67,185.7 486.39,186.29 485.13,187.75 484.19,188.26 483.71,188.06 482.77,187.45Z" fill="#d5d5d5"/>
<ellipse cx="485.58" cy="184.53" rx="0.83" ry="0.5" fill="#fff" fill-opacity="0.8"/>
<ellipse cx="483.85" cy="186.47" rx="0.56" ry="0.33" fill="#fff" fill-opacity="0.8"/>
<path d="M483.15,191.92 484.11,191.25 484.22,190.61 485.24,190.36 486.22,190.21 487.39,190.37 488.64,190.05 488.55,190.87 488.5,191.72 488.01,192.7 487.02,193.46 486.04,193.99 485.24,194.8 484.32,194.42 483.77,194.69 483.5,194.25 483.62,193.53 483.61,192.66Z" fill="#d5d5d5"/>
<path d="M457.01,191.14 456.83,191.29 456.72,191.42 456.58,191.54 456.34,191.59 456.23,191.76 456,191.89 455.7,191.99 455.38,191.91 455.05,191.89 454.95,191.67 454.7,191.59 454.7,191.41 454.5,191.3 454.51,191.14 454.53,190.99 454.6,190.85 454.71,190.7 454.86,190.55 455.14,190.49 455.39,190.39 455.7,190.37 455.98,190.45 456.23,190.52 456.36,190.68 456.73,190.68 456.99,190.79 457,190.98Z" fill="#d5d5d5"/>
<path d="M504.21,173.25 505.08,172.7 505.62,172.48 506.08,172.47 506.88,173.16 507.53,173.18 508.17,173.64 509.17,174.21 509.97,175.71 510.67,176.36 511.09,176.84 511.51,176.61 512.34,177.14 513.62,177.12 514.44,177.16 515.12,176.75 516.35,177.35 517.29,177.92 518.18,178.31 518.15,179.32 517.49,180.17 517.2,181.42 516.33,182.14 515.26,182.46 513.87,182.82 513.63,183.83 513.7,184.95 513.73,185.7 513.18,186.66 512.94,187.97 512.34,188.81 511.39,189.51 510.36,189.79 508.87,189.97 507.8,189.65 505.74,190.02 504.69,189.59 504.29,188.54 504.23,187.18 504.35,186.47 504.77,185.91 505.81,185.18 506.08,184.14 505.33,183.05 504.99,181.87 504.69,181.03 505.37,180 505.78,179.29 506.08,177.92 505.67,177.16 504.67,176.34 504.35,175.58 504.21,174.53 504.33,173.97Z" fill="#d5d5d5"/>
<ellipse cx="508.17" cy="180.64" rx="0.9" ry="0.54" fill="#fff" fill-opacity="0.8"/>
<ellipse cx="510.95" cy="184.92" rx="0.69" ry="0.42" fill="#fff" fill-opacity="0.8"/>
<ellipse cx="515.12" cy="179.47" rx="0.63" ry="0.38" fill="#fff" fill-opacity="0.8"/>
<ellipse cx="506.78" cy="175.97" rx="0.56" ry="0.33" fill="#fff" fill-opacity="0.8"/>
<ellipse cx="507.48" cy="187.25" rx="0.63" ry="0.38" fill="#fff" fill-opacity="0.8"/>
<ellipse cx="512.69" cy="181.81" rx="0.56" ry="0.33" fill="#fff" fill-opacity="0.8"/>
<path d="M493.16,202.81 493.33,202.02 493.81,201.28 494.27,200.09 494.87,199.81 496.05,199.41 497.05,199.16 498.07,199.33 499.21,199.74 499.83,199.54 500.31,200.53 500.22,201.33 500.8,202.03 500.26,202.92 499.68,203.9 499.13,205.15 497.96,206.04 497.54,205.9 496.36,206.78 495.62,206.17 494.44,206.38 493.92,205.92 493.88,204.95 493.38,203.74Z" fill="#d5d5d5"/>
<path d="M497.75,203.59 498.68,203.1 499.94,202.18 500.52,201.65 501.16,202.32 502.21,202.44 503.31,203.2 503.38,204.25 503.6,205.69 503.79,206.7 502.71,207.37 501.82,208.33 501.22,208.88 500.4,208.79 499.04,208.14 498.44,207.87 498.53,206.45 497.77,205.29Z" fill="#d5d5d5"/>
<path d="M477.59,211.53 478.21,211.37 479.74,211.03 480.37,210.98 481.56,211.07 482.09,211.24 483.36,211.37 483.34,211.63 482.88,212.61 483.15,213.16 482.17,213.01 481.75,213.56 481.06,213.39 481.22,214.38 481.07,215.22 481.41,215.65 481.18,216.05 481.11,216.9 481.06,217.83 480.46,217.84 480.02,217.19 479.33,217.21 479.38,215.92 479.53,214.87 480.02,213.7 478.99,212.91 478.47,211.94Z" fill="#d5d5d5"/>
<path d="M489.75,215.65 490.18,215.73 490.8,215.27 491.49,215.26 492.1,215.64 492.63,216.61 492.88,216.82 493.63,217.4 494.77,217.7 495.45,217.98 495.35,218.84 494.51,219.85 494.27,220.32 493.78,219.98 492.34,220 491.84,219.93 491.55,220.72 491.48,221.17 491.49,222.03 491.12,221.86 490.79,222.1 490.45,221.87 490.46,220.95 490.16,219.34 490.45,218.37 490.44,217.48 490.32,216.74Z" fill="#9590d0"/>
<defs><linearGradient id="cbd" x1="0" y1="0" x2="0" y2="1"><stop offset="0" stop-color="#1a106c"/><stop offset="0.35" stop-color="#473ca6"/><stop offset="0.7" stop-color="#8f89c6"/><stop offset="1" stop-color="#dcdce0"/></linearGradient></defs>
<rect x="526" y="150.7" width="4.6" height="75.9" fill="url(#cbd)"/>
<text x="532.2" y="227.3" font-size="2" fill="#888" stroke="#888" stroke-width="0.08">0</text>
<text x="532.2" y="211.31" font-size="2" fill="#888" stroke="#888" stroke-width="0.08">1</text>
<text x="532.2" y="195.31" font-size="2" fill="#888" stroke="#888" stroke-width="0.08">2</text>
<text x="532.2" y="179.32" font-size="2" fill="#888" stroke="#888" stroke-width="0.08">3</text>
<text x="532.2" y="163.32" font-size="2" fill="#888" stroke="#888" stroke-width="0.08">4</text>
<path d="M530.9,226.6h0.9M530.9,210.61h0.9M530.9,194.61h0.9M530.9,178.62h0.9M530.9,162.62h0.9" stroke="#999" stroke-width="0.3"/>
<text transform="translate(92.5,261) rotate(-40)" font-size="6" fill="#4a4a4a">Angiogenesis</text>
<text transform="translate(112.91,261) rotate(-40)" font-size="6" fill="#4a4a4a">Apoptosis</text>
<text transform="translate(133.32,261) rotate(-40)" font-size="6" fill="#4a4a4a">CellCycle</text>
<text transform="translate(153.73,261) rotate(-40)" font-size="6" fill="#4a4a4a">Differentiation</text>
<text transform="translate(174.14,261) rotate(-40)" font-size="6" fill="#4a4a4a">DNAdamage</text>
<text transform="translate(194.55,261) rotate(-40)" font-size="6" fill="#4a4a4a">DNArepair</text>
<text transform="translate(214.96,261) rotate(-40)" font-size="6" fill="#4a4a4a">EMT</text>
<text transform="translate(235.37,261) rotate(-40)" font-size="6" fill="#4a4a4a">Hypoxia</text>
<text transform="translate(255.78,261) rotate(-40)" font-size="6" fill="#4a4a4a">Inflammation</text>
<text transform="translate(276.19,261) rotate(-40)" font-size="6" fill="#4a4a4a">Invasion</text>
<text transform="translate(296.6,261) rotate(-40)" font-size="6" fill="#4a4a4a">Metastasis</text>
<text transform="translate(317.01,261) rotate(-40)" font-size="6" fill="#4a4a4a">Proliferation</text>
<text transform="translate(337.42,261) rotate(-40)" font-size="6" fill="#4a4a4a">Quiescence</text>
<text transform="translate(357.83,261) rotate(-40)" font-size="6" fill="#4a4a4a">Stemness</text>
<path d="M81.5,263.6H365M81.5,263.6V290.6" stroke="#e3e6ee" stroke-width="0.5" fill="none"/>
<text x="76.5" y="264.8" font-size="3.6" fill="#888" text-anchor="end" stroke="#888" stroke-width="0.12">4.0</text>
<text x="76.5" y="290.1" font-size="3.6" fill="#888" text-anchor="end" stroke="#888" stroke-width="0.12">0</text>
<text transform="translate(53.2,276.8) rotate(-90)" font-size="4.3" fill="#777" text-anchor="middle">No.</text>
<text transform="translate(58.8,276.8) rotate(-90)" font-size="4.3" fill="#777" text-anchor="middle">significant</text>
<text transform="translate(64.4,276.8) rotate(-90)" font-size="4.3" fill="#777" text-anchor="middle">datasets</text>
<rect x="87.4" y="268" width="9.6" height="20.4" fill="#e43b2f"/>
<rect x="107.81" y="283.3" width="9.6" height="5.1" fill="#e43b2f"/>
<rect x="128.22" y="283.3" width="9.6" height="5.1" fill="#4b7fbf"/>
<rect x="128.22" y="278.2" width="9.6" height="5.1" fill="#e43b2f"/>
<rect x="148.63" y="278.2" width="9.6" height="10.2" fill="#e43b2f"/>
<rect x="169.04" y="278.2" width="9.6" height="10.2" fill="#4b7fbf"/>
<rect x="169.04" y="273.1" width="9.6" height="5.1" fill="#e43b2f"/>
<rect x="189.45" y="278.2" width="9.6" height="10.2" fill="#4b7fbf"/>
<rect x="209.86" y="278.2" width="9.6" height="10.2" fill="#e43b2f"/>
<rect x="230.27" y="273.1" width="9.6" height="15.3" fill="#e43b2f"/>
<rect x="250.68" y="278.2" width="9.6" height="10.2" fill="#e43b2f"/>
<rect x="271.09" y="283.3" width="9.6" height="5.1" fill="#4b7fbf"/>
<rect x="291.5" y="268" width="9.6" height="20.4" fill="#e43b2f"/>
<rect x="332.32" y="283.3" width="9.6" height="5.1" fill="#e43b2f"/>
<path d="M35.5,291.5H81.5M35.5,307H81.5M35.5,322.6H81.5M35.5,338.2H81.5M35.5,353.8H81.5M35.5,369.4H81.5M35.5,384.6H81.5M35.5,415H81.5M61,399.6H81.5M35.5,291.5V415M61,291.5V415M81.5,291.5V415" stroke="#dfe4f0" stroke-width="0.6" fill="none"/>
<path d="M81.5,291.5H365V415H81.5" stroke="#e6e8ee" stroke-width="0.6" fill="none"/>
<text x="48.4" y="301.3" font-size="4.6" fill="#666" text-anchor="middle" stroke="#666" stroke-width="0.12">CNS/brain</text>
<text x="48.4" y="316.6" font-size="4.6" fill="#666" text-anchor="middle" stroke="#666" stroke-width="0.12">Lung</text>
<text x="48.4" y="331.9" font-size="4.6" fill="#666" text-anchor="middle" stroke="#666" stroke-width="0.12">Skin</text>
<text x="48.4" y="347.2" font-size="4.6" fill="#666" text-anchor="middle" stroke="#666" stroke-width="0.12">Kidney</text>
<text x="48.4" y="362.6" font-size="4.6" fill="#666" text-anchor="middle" stroke="#666" stroke-width="0.12">Breast</text>
<text x="48.4" y="378" font-size="4.6" fill="#666" text-anchor="middle" stroke="#666" stroke-width="0.12">Ovary</text>
<text x="48.4" y="401.2" font-size="4.6" fill="#666" text-anchor="middle" stroke="#666" stroke-width="0.12">Eye</text>
<text x="76.8" y="301.4" font-size="5" fill="#4f86c9" text-anchor="end" text-decoration="underline" stroke="#4f86c9" stroke-width="0.12">GBM</text>
<text x="76.8" y="316.7" font-size="5" fill="#4f86c9" text-anchor="end" text-decoration="underline" stroke="#4f86c9" stroke-width="0.12">LUAD</text>
<text x="76.8" y="332" font-size="5" fill="#4f86c9" text-anchor="end" text-decoration="underline" stroke="#4f86c9" stroke-width="0.12">MEL</text>
<text x="76.8" y="347.3" font-size="5" fill="#4f86c9" text-anchor="end" text-decoration="underline" stroke="#4f86c9" stroke-width="0.12">RCC</text>
<text x="76.8" y="353.9" font-size="5" fill="#4f86c9" text-anchor="end" text-decoration="underline" stroke="#4f86c9" stroke-width="0.12">UM</text>
<text x="76.8" y="362.7" font-size="5" fill="#4f86c9" text-anchor="end" text-decoration="underline" stroke="#4f86c9" stroke-width="0.12">BRCA</text>
<text x="76.8" y="378.1" font-size="5" fill="#4f86c9" text-anchor="end" text-decoration="underline" stroke="#4f86c9" stroke-width="0.12">OV</text>
<text x="76.8" y="393.5" font-size="5" fill="#4f86c9" text-anchor="end" text-decoration="underline" stroke="#4f86c9" stroke-width="0.12">RB</text>
<ellipse cx="92.3" cy="299.7" rx="1.32" ry="1.12" fill="#e43b2f"/><ellipse cx="112.5" cy="299.7" rx="0.66" ry="0.56" fill="#4b7fbf"/><ellipse cx="132.7" cy="299.7" rx="1.32" ry="1.12" fill="#4b7fbf"/><ellipse cx="152.9" cy="299.7" rx="1.32" ry="1.12" fill="#e43b2f"/><ellipse cx="173.1" cy="299.7" rx="1.65" ry="1.4" fill="#4b7fbf"/><ellipse cx="193.3" cy="299.7" rx="1.98" ry="1.68" fill="#4b7fbf"/><ellipse cx="213.5" cy="299.7" rx="1.15" ry="0.98" fill="#4b7fbf"/><ellipse cx="233.7" cy="299.7" rx="0.99" ry="0.84" fill="#4b7fbf"/><ellipse cx="253.9" cy="299.7" rx="1.15" ry="0.98" fill="#e43b2f"/><ellipse cx="274.1" cy="299.7" rx="1.65" ry="1.4" fill="#4b7fbf"/><ellipse cx="294.3" cy="299.7" rx="0.82" ry="0.7" fill="#4b7fbf"/><ellipse cx="314.5" cy="299.7" rx="0.99" ry="0.84" fill="#e43b2f"/><ellipse cx="334.7" cy="299.7" rx="0.82" ry="0.7" fill="#e43b2f"/><ellipse cx="354.9" cy="299.7" rx="1.15" ry="0.98" fill="#4b7fbf"/><ellipse cx="92.3" cy="315" rx="1.48" ry="1.26" fill="#e43b2f"/><ellipse cx="112.5" cy="315" rx="1.15" ry="0.98" fill="#4b7fbf"/><ellipse cx="132.7" cy="315" rx="2.31" ry="1.96" fill="#e43b2f"/><ellipse cx="152.9" cy="315" rx="1.15" ry="0.98" fill="#e43b2f"/><ellipse cx="173.1" cy="315" rx="2.14" ry="1.82" fill="#e43b2f"/><ellipse cx="193.3" cy="315" rx="1.81" ry="1.54" fill="#e43b2f"/><ellipse cx="213.5" cy="315" rx="2.97" ry="2.52" fill="#e43b2f"/><ellipse cx="233.7" cy="315" rx="0.66" ry="0.56" fill="#e43b2f"/><ellipse cx="253.9" cy="315" rx="0.82" ry="0.7" fill="#4b7fbf"/><ellipse cx="274.1" cy="315" rx="1.65" ry="1.4" fill="#e43b2f"/><ellipse cx="294.3" cy="315" rx="2.47" ry="2.1" fill="#e43b2f"/><ellipse cx="314.5" cy="315" rx="1.81" ry="1.54" fill="#e43b2f"/><ellipse cx="334.7" cy="315" rx="0.5" ry="0.43" fill="#c9cbd6"/><ellipse cx="354.9" cy="315" rx="0.82" ry="0.7" fill="#e43b2f"/><ellipse cx="92.3" cy="330.3" rx="2.97" ry="2.52" fill="#e43b2f"/><ellipse cx="112.5" cy="330.3" rx="2.31" ry="1.96" fill="#e43b2f"/><ellipse cx="132.7" cy="330.3" rx="0.5" ry="0.43" fill="#c9cbd6"/><ellipse cx="152.9" cy="330.3" rx="1.65" ry="1.4" fill="#e43b2f"/><ellipse cx="173.1" cy="330.3" rx="0.5" ry="0.43" fill="#c9cbd6"/><ellipse cx="193.3" cy="330.3" rx="0.82" ry="0.7" fill="#4b7fbf"/><ellipse cx="213.5" cy="330.3" rx="2.64" ry="2.24" fill="#e43b2f"/><ellipse cx="233.7" cy="330.3" rx="2.8" ry="2.38" fill="#e43b2f"/><ellipse cx="253.9" cy="330.3" rx="2.97" ry="2.52" fill="#e43b2f"/><ellipse cx="274.1" cy="330.3" rx="0.5" ry="0.43" fill="#c9cbd6"/><ellipse cx="294.3" cy="330.3" rx="2.64" ry="2.24" fill="#e43b2f"/><ellipse cx="314.5" cy="330.3" rx="0.99" ry="0.84" fill="#4b7fbf"/><ellipse cx="334.7" cy="330.3" rx="2.47" ry="2.1" fill="#e43b2f"/><ellipse cx="354.9" cy="330.3" rx="1.65" ry="1.4" fill="#4b7fbf"/><ellipse cx="92.3" cy="345.6" rx="2.31" ry="1.96" fill="#e43b2f"/><ellipse cx="112.5" cy="345.6" rx="0.99" ry="0.84" fill="#e43b2f"/><ellipse cx="132.7" cy="345.6" rx="0.5" ry="0.43" fill="#c9cbd6"/><ellipse cx="152.9" cy="345.6" rx="1.32" ry="1.12" fill="#e43b2f"/><ellipse cx="173.1" cy="345.6" rx="0.99" ry="0.84" fill="#4b7fbf"/><ellipse cx="193.3" cy="345.6" rx="1.15" ry="0.98" fill="#4b7fbf"/><ellipse cx="213.5" cy="345.6" rx="1.32" ry="1.12" fill="#e43b2f"/><ellipse cx="233.7" cy="345.6" rx="2.31" ry="1.96" fill="#e43b2f"/><ellipse cx="253.9" cy="345.6" rx="0.82" ry="0.7" fill="#e43b2f"/><ellipse cx="274.1" cy="345.6" rx="1.48" ry="1.26" fill="#e43b2f"/><ellipse cx="294.3" cy="345.6" rx="2.14" ry="1.82" fill="#e43b2f"/><ellipse cx="314.5" cy="345.6" rx="0.66" ry="0.56" fill="#e43b2f"/><ellipse cx="334.7" cy="345.6" rx="0.66" ry="0.56" fill="#e43b2f"/><ellipse cx="354.9" cy="345.6" rx="1.81" ry="1.54" fill="#e43b2f"/><ellipse cx="92.3" cy="361" rx="1.65" ry="1.4" fill="#e43b2f"/><ellipse cx="112.5" cy="361" rx="0.66" ry="0.56" fill="#e43b2f"/><ellipse cx="132.7" cy="361" rx="0.82" ry="0.7" fill="#e43b2f"/><ellipse cx="152.9" cy="361" rx="0.5" ry="0.43" fill="#c9cbd6"/><ellipse cx="173.1" cy="361" rx="0.66" ry="0.56" fill="#e43b2f"/><ellipse cx="193.3" cy="361" rx="1.48" ry="1.26" fill="#e43b2f"/><ellipse cx="213.5" cy="361" rx="0.66" ry="0.56" fill="#e43b2f"/><ellipse cx="233.7" cy="361" rx="1.98" ry="1.68" fill="#e43b2f"/><ellipse cx="253.9" cy="361" rx="0.5" ry="0.43" fill="#c9cbd6"/><ellipse cx="274.1" cy="361" rx="0.82" ry="0.7" fill="#e43b2f"/><ellipse cx="294.3" cy="361" rx="1.48" ry="1.26" fill="#e43b2f"/><ellipse cx="314.5" cy="361" rx="0.66" ry="0.56" fill="#e43b2f"/><ellipse cx="334.7" cy="361" rx="0.5" ry="0.43" fill="#c9cbd6"/><ellipse cx="354.9" cy="361" rx="1.48" ry="1.26" fill="#e43b2f"/><ellipse cx="92.3" cy="376.4" rx="0.66" ry="0.56" fill="#4b7fbf"/><ellipse cx="112.5" cy="376.4" rx="0.5" ry="0.43" fill="#c9cbd6"/><ellipse cx="132.7" cy="376.4" rx="1.65" ry="1.4" fill="#e43b2f"/><ellipse cx="152.9" cy="376.4" rx="1.15" ry="0.98" fill="#4b7fbf"/><ellipse cx="173.1" cy="376.4" rx="0.66" ry="0.56" fill="#e43b2f"/><ellipse cx="193.3" cy="376.4" rx="0.66" ry="0.56" fill="#4b7fbf"/><ellipse cx="213.5" cy="376.4" rx="0.99" ry="0.84" fill="#e43b2f"/><ellipse cx="233.7" cy="376.4" rx="0.82" ry="0.7" fill="#e43b2f"/><ellipse cx="253.9" cy="376.4" rx="0.82" ry="0.7" fill="#4b7fbf"/><ellipse cx="274.1" cy="376.4" rx="2.64" ry="2.24" fill="#4b7fbf"/><ellipse cx="294.3" cy="376.4" rx="0.66" ry="0.56" fill="#e43b2f"/><ellipse cx="314.5" cy="376.4" rx="0.99" ry="0.84" fill="#4b7fbf"/><ellipse cx="334.7" cy="376.4" rx="0.99" ry="0.84" fill="#e43b2f"/><ellipse cx="354.9" cy="376.4" rx="0.99" ry="0.84" fill="#4b7fbf"/><ellipse cx="92.3" cy="391.8" rx="3.63" ry="3.08" fill="#e43b2f"/><ellipse cx="112.5" cy="391.8" rx="0.99" ry="0.84" fill="#4b7fbf"/><ellipse cx="132.7" cy="391.8" rx="2.97" ry="2.52" fill="#4b7fbf"/><ellipse cx="152.9" cy="391.8" rx="2.97" ry="2.52" fill="#e43b2f"/><ellipse cx="173.1" cy="391.8" rx="2.31" ry="1.96" fill="#4b7fbf"/><ellipse cx="193.3" cy="391.8" rx="3.3" ry="2.8" fill="#4b7fbf"/><ellipse cx="213.5" cy="391.8" rx="0.99" ry="0.84" fill="#4b7fbf"/><ellipse cx="233.7" cy="391.8" rx="0.66" ry="0.56" fill="#e43b2f"/><ellipse cx="253.9" cy="391.8" rx="2.64" ry="2.24" fill="#e43b2f"/><ellipse cx="274.1" cy="391.8" rx="0.82" ry="0.7" fill="#4b7fbf"/><ellipse cx="294.3" cy="391.8" rx="1.65" ry="1.4" fill="#e43b2f"/><ellipse cx="314.5" cy="391.8" rx="0.66" ry="0.56" fill="#4b7fbf"/><ellipse cx="334.7" cy="391.8" rx="1.48" ry="1.26" fill="#e43b2f"/><ellipse cx="354.9" cy="391.8" rx="1.32" ry="1.12" fill="#e43b2f"/><ellipse cx="92.3" cy="407.1" rx="0.82" ry="0.7" fill="#e43b2f"/><ellipse cx="112.5" cy="407.1" rx="2.14" ry="1.82" fill="#4b7fbf"/><ellipse cx="132.7" cy="407.1" rx="1.65" ry="1.4" fill="#4b7fbf"/><ellipse cx="152.9" cy="407.1" rx="0.66" ry="0.56" fill="#4b7fbf"/><ellipse cx="173.1" cy="407.1" rx="2.31" ry="1.96" fill="#4b7fbf"/><ellipse cx="193.3" cy="407.1" rx="2.14" ry="1.82" fill="#4b7fbf"/><ellipse cx="213.5" cy="407.1" rx="0.66" ry="0.56" fill="#e43b2f"/><ellipse cx="233.7" cy="407.1" rx="0.82" ry="0.7" fill="#4b7fbf"/><ellipse cx="253.9" cy="407.1" rx="0.66" ry="0.56" fill="#4b7fbf"/><ellipse cx="274.1" cy="407.1" rx="0.82" ry="0.7" fill="#4b7fbf"/><ellipse cx="294.3" cy="407.1" rx="0.99" ry="0.84" fill="#4b7fbf"/><ellipse cx="314.5" cy="407.1" rx="1.32" ry="1.12" fill="#4b7fbf"/><ellipse cx="334.7" cy="407.1" rx="0.99" ry="0.84" fill="#4b7fbf"/><ellipse cx="354.9" cy="407.1" rx="0.5" ry="0.43" fill="#c9cbd6"/>
<rect x="381.4" y="261" width="31" height="16" fill="#fff" stroke="#dcdcdc" stroke-width="0.4"/>
<rect x="385.7" y="264" width="3.8" height="3.7" fill="#e43b2f"/>
<rect x="385.7" y="270.5" width="3.8" height="3.7" fill="#4b7fbf"/>
<text x="392.3" y="267.6" font-size="4.6" fill="#222" stroke="#222" stroke-width="0.12">positive</text>
<text x="392.3" y="274.2" font-size="4.6" fill="#222" stroke="#222" stroke-width="0.12">negtive</text>
<circle cx="384.4" cy="299" r="5.3" fill="#4b7fbf"/>
<circle cx="409.7" cy="299" r="5.3" fill="#e43b2f"/>
<text x="391.8" y="300.8" font-size="5.1" fill="#4b7fbf" stroke="#4b7fbf" stroke-width="0.12">-1.0</text>
<text x="416.6" y="300.8" font-size="5.1" fill="#e43b2f" stroke="#e43b2f" stroke-width="0.12">1.0</text>
<circle cx="384.4" cy="311.6" r="3.7" fill="#4b7fbf"/>
<circle cx="409.7" cy="311.6" r="3.7" fill="#e43b2f"/>
<text x="391.8" y="313.4" font-size="5.1" fill="#4b7fbf" stroke="#4b7fbf" stroke-width="0.12">-0.8</text>
<text x="416.6" y="313.4" font-size="5.1" fill="#e43b2f" stroke="#e43b2f" stroke-width="0.12">0.8</text>
<circle cx="384.4" cy="323" r="2.6" fill="#4b7fbf"/>
<circle cx="409.7" cy="323" r="2.6" fill="#e43b2f"/>
<text x="391.8" y="324.8" font-size="5.1" fill="#4b7fbf" stroke="#4b7fbf" stroke-width="0.12">-0.5</text>
<text x="416.6" y="324.8" font-size="5.1" fill="#e43b2f" stroke="#e43b2f" stroke-width="0.12">0.5</text>
<circle cx="384.4" cy="332.7" r="1.1" fill="#4b7fbf"/>
<circle cx="409.7" cy="332.7" r="1.1" fill="#e43b2f"/>
<text x="391.8" y="334.5" font-size="5.1" fill="#4b7fbf" stroke="#4b7fbf" stroke-width="0.12">-0.3</text>
<text x="416.6" y="334.5" font-size="5.1" fill="#e43b2f" stroke="#e43b2f" stroke-width="0.12">0.3</text>
<circle cx="384.4" cy="342" r="0.35" fill="#4b7fbf"/>
<circle cx="409.7" cy="342" r="0.35" fill="#e43b2f"/>
<text x="391.8" y="343.8" font-size="5.1" fill="#4b7fbf" stroke="#4b7fbf" stroke-width="0.12">0.0</text>
<text x="416.6" y="343.8" font-size="5.1" fill="#e43b2f" stroke="#e43b2f" stroke-width="0.12">0.0</text>
<text x="403.6" y="350" font-size="4.9" fill="#666" text-anchor="middle" stroke="#666" stroke-width="0.12">Correlation</text>
<text x="83.2" y="432.6" font-size="8" fill="#111" text-anchor="middle" font-weight="bold" font-family="'Liberation Serif', 'Times New Roman', serif">LUAD</text>
<text x="38.5" y="441.4" font-size="5.3" fill="#1a1a1a" text-anchor="end" stroke="#1a1a1a" stroke-width="0.2">geneExp</text>
<path d="M42.2,439.8H130.3" stroke="#c8c8c8" stroke-width="0.9"/>
<path d="M42.2,439.8L42.2,439.8L42.2,428.7L44.4,433.71L46.61,436.46L48.81,437.97L51.01,438.79L53.21,439.25L55.42,439.5L57.62,439.63L59.82,439.71L62.02,439.75L64.23,439.77L66.43,439.78L68.63,439.79L70.83,439.8L73.03,439.8L75.24,439.8L77.44,439.8L79.64,439.8L81.84,439.8L84.05,439.8L86.25,439.8L88.45,439.8L90.66,439.8L92.86,439.8L95.06,439.8L97.26,439.8L99.47,439.8L101.67,439.8L103.87,439.8L106.07,439.8L108.28,439.8L110.48,439.8L112.68,439.8L114.88,439.8L117.09,439.8L119.29,439.8L121.49,439.8L123.69,439.8L125.9,439.8L128.1,439.8L130.3,439.8L130.3,439.8Z" fill="#985a50"/>
<path d="M42.2,428.7 L44.4,433.71 L46.61,436.46 L48.81,437.97 L51.01,438.79 L53.21,439.25 L55.42,439.5 L57.62,439.63 L59.82,439.71 L62.02,439.75 L64.23,439.77 L66.43,439.78 L68.63,439.79 L70.83,439.8 L73.03,439.8 L75.24,439.8 L77.44,439.8 L79.64,439.8 L81.84,439.8 L84.05,439.8 L86.25,439.8 L88.45,439.8 L90.66,439.8 L92.86,439.8 L95.06,439.8 L97.26,439.8 L99.47,439.8 L101.67,439.8 L103.87,439.8 L106.07,439.8 L108.28,439.8 L110.48,439.8 L112.68,439.8 L114.88,439.8 L117.09,439.8 L119.29,439.8 L121.49,439.8 L123.69,439.8 L125.9,439.8 L128.1,439.8 L130.3,439.8" fill="none" stroke="#6e3229" stroke-width="0.5" stroke-opacity="0.7"/>
<text x="129.6" y="457.8" font-size="5.4" fill="#222" stroke="#222" stroke-width="0.2">Correlation</text>
<text x="163" y="457.8" font-size="4.9" fill="#e8392d" stroke="#e8392d" stroke-width="0.2">Pvalue</text>
<text x="38.5" y="465.3" font-size="6.1" fill="#e8392d" text-anchor="end" stroke="#e8392d" stroke-width="0.2">EMT</text>
<path d="M43.01,463.3v2.07M48.67,463.3v4.61M56.75,463.3v4.78M57.56,463.3v3.28M59.98,463.3v1.75M60.79,463.3v1.69M61.6,463.3v4M63.21,463.3v2.09M64.02,463.3v1.74M65.64,463.3v1.14M67.26,463.3v3.54M69.68,463.3v0.72M74.53,463.3v3.77M76.96,463.3v2.95M79.38,463.3v1.41M83.42,463.3v2.16M85.85,463.3v3.85M89.08,463.3v2.75M95.54,463.3v6.71M96.35,463.3v1.97M97.16,463.3v1.39M98.78,463.3v0.37M99.59,463.3v2.67M100.39,463.3v0.86M101.2,463.3v7.05M102.01,463.3v5.04M102.82,463.3v4.43M105.24,463.3v7.67M106.86,463.3v5.66M107.67,463.3v7.99M109.29,463.3v7.13M110.09,463.3v5.44M110.9,463.3v7.26M111.71,463.3v5.28M112.52,463.3v6.87M113.33,463.3v6.18M114.13,463.3v4.33M114.94,463.3v2.78M115.75,463.3v4.64M117.37,463.3v6.95M118.18,463.3v2.83M118.98,463.3v4.4M119.79,463.3v6.59M122.22,463.3v1.59M123.03,463.3v3.71M123.83,463.3v7.3M125.45,463.3v5.22M126.26,463.3v1.14M127.07,463.3v5.07M127.88,463.3v7.05M128.68,463.3v5.11M129.49,463.3v3.17M130.3,463.3v7.25" stroke="#f4a29b" stroke-width="0.59" fill="none"/>
<path d="M42.2,463.3v-5.17M43.82,463.3v-5.51M44.62,463.3v-4.61M45.43,463.3v-8.14M46.24,463.3v-2.33M47.05,463.3v-8.36M49.47,463.3v-5.85M51.9,463.3v-1.74M52.71,463.3v-4.05M53.52,463.3v-8.8M54.32,463.3v-6.16M55.13,463.3v-6.44M55.94,463.3v-2.08M58.37,463.3v-1.62M59.17,463.3v-0.35M62.41,463.3v-1.44M64.83,463.3v-6.03M66.45,463.3v-2.63M68.06,463.3v-1.78M70.49,463.3v-3.87M71.3,463.3v-7.33M72.11,463.3v-6.2M72.91,463.3v-3.57M73.72,463.3v-2M75.34,463.3v-9.38M76.15,463.3v-3.28M77.76,463.3v-10.85M78.57,463.3v-1.89M80.19,463.3v-0.37M81,463.3v-5.45M81.8,463.3v-5.68M82.61,463.3v-3.93M84.23,463.3v-9.13M85.04,463.3v-0.97M86.65,463.3v-1.27M87.46,463.3v-10.16M88.27,463.3v-10.29M89.89,463.3v-0.58M90.7,463.3v-10.47M91.5,463.3v-6.98M92.31,463.3v-8.55M93.12,463.3v-2.23M93.93,463.3v-7.18M94.74,463.3v-1.61M97.97,463.3v-1M104.44,463.3v-4.87M106.05,463.3v-3.06M108.48,463.3v-2.51M116.56,463.3v-3.08M120.6,463.3v-3.79M121.41,463.3v-2.84" stroke="#e0392e" stroke-width="0.9" fill="none"/>
<path d="M42.2,463.3H130.3" stroke="#5b4340" stroke-width="0.7"/>
<text x="139.7" y="465.2" font-size="5" fill="#222" stroke="#222" stroke-width="0.2">0.48</text>
<text x="166" y="465.9" font-size="5" fill="#e8392d" font-weight="bold" letter-spacing="0.7">***</text>
<text x="38.5" y="488.5" font-size="5.3" fill="#1a1a1a" text-anchor="end" stroke="#1a1a1a" stroke-width="0.2">Metastasis</text>
<path d="M53.52,486.7v5.08M61.6,486.7v3.44M65.64,486.7v2.52M81.8,486.7v5.39M84.23,486.7v3.3M87.46,486.7v0.73M93.93,486.7v1.88M94.74,486.7v8.8M95.54,486.7v5.36M96.35,486.7v8.62M97.16,486.7v3.44M97.97,486.7v8.02M98.78,486.7v4.94M99.59,486.7v3M100.39,486.7v4.79M102.01,486.7v7.02M102.82,486.7v8.12M103.63,486.7v6.94M104.44,486.7v0.7M105.24,486.7v2.5M106.05,486.7v5.98M106.86,486.7v5.34M107.67,486.7v4.52M108.48,486.7v3.23M109.29,486.7v3.35M110.09,486.7v5.94M110.9,486.7v0.64M111.71,486.7v6.04M112.52,486.7v5.69M113.33,486.7v2.98M114.94,486.7v1.36M115.75,486.7v2.76M116.56,486.7v2.64M118.18,486.7v2.22M118.98,486.7v3.58M119.79,486.7v8.2M120.6,486.7v6.06M121.41,486.7v3.87M122.22,486.7v7.46M123.03,486.7v3.83M123.83,486.7v7.35M124.64,486.7v4.55M125.45,486.7v3.24M126.26,486.7v5.73M127.07,486.7v4.7M127.88,486.7v2.84M128.68,486.7v2.59M129.49,486.7v2.93M130.3,486.7v1" stroke="#f4a29b" stroke-width="0.59" fill="none"/>
<path d="M42.2,486.7v-6.38M43.01,486.7v-0.87M43.82,486.7v-3.07M44.62,486.7v-8.37M45.43,486.7v-5.68M46.24,486.7v-6.43M47.05,486.7v-3.78M47.86,486.7v-9.67M48.67,486.7v-8.48M49.47,486.7v-6.75M50.28,486.7v-3.39M51.9,486.7v-9.8M52.71,486.7v-0.49M54.32,486.7v-3.6M55.13,486.7v-2.43M55.94,486.7v-1.04M57.56,486.7v-8.44M58.37,486.7v-3.55M59.17,486.7v-4.2M60.79,486.7v-10.54M62.41,486.7v-2.95M63.21,486.7v-6.58M64.02,486.7v-1.67M64.83,486.7v-4.6M66.45,486.7v-8.53M67.26,486.7v-4.69M68.06,486.7v-3.64M68.87,486.7v-7.86M69.68,486.7v-5.06M70.49,486.7v-6.87M71.3,486.7v-2.07M72.11,486.7v-6.12M72.91,486.7v-4M73.72,486.7v-2.12M74.53,486.7v-10.41M75.34,486.7v-10.37M76.15,486.7v-9.93M76.96,486.7v-1.26M77.76,486.7v-9.76M78.57,486.7v-1.99M79.38,486.7v-2.72M81,486.7v-5.9M83.42,486.7v-8.06M85.04,486.7v-4.79M85.85,486.7v-6M86.65,486.7v-10.24M88.27,486.7v-9.22M89.08,486.7v-10.2M89.89,486.7v-6.87M90.7,486.7v-1.48M91.5,486.7v-1.86M92.31,486.7v-6.84M93.12,486.7v-9.4M101.2,486.7v-3.52M114.13,486.7v-2.16" stroke="#e0392e" stroke-width="0.9" fill="none"/>
<path d="M42.2,486.7H130.3" stroke="#5b4340" stroke-width="0.7"/>
<text x="139.7" y="488.6" font-size="5" fill="#222" stroke="#222" stroke-width="0.2">0.41</text>
<text x="166" y="489.3" font-size="5" fill="#e8392d" font-weight="bold" letter-spacing="0.7">**</text>
<text x="38.5" y="512.1" font-size="5.3" fill="#1a1a1a" text-anchor="end" stroke="#1a1a1a" stroke-width="0.2">CellCycle</text>
<path d="M43.01,510.3v9.19M45.43,510.3v1.17M47.86,510.3v6.37M50.28,510.3v8.68M51.09,510.3v7.95M51.9,510.3v8.53M54.32,510.3v4.34M56.75,510.3v8.59M57.56,510.3v7.32M58.37,510.3v8M62.41,510.3v3.97M66.45,510.3v3.9M67.26,510.3v10.19M68.87,510.3v9.06M69.68,510.3v1.46M71.3,510.3v8.64M74.53,510.3v7.7M76.15,510.3v6.17M81,510.3v5.62M89.89,510.3v2.89M91.5,510.3v7.88M93.12,510.3v2.48M93.93,510.3v3.53M98.78,510.3v1.77M102.01,510.3v0.99M102.82,510.3v2.06M106.05,510.3v10.88M110.9,510.3v1.36M114.13,510.3v10.22M116.56,510.3v9.08M117.37,510.3v1.02M118.98,510.3v5.51M122.22,510.3v0.94M123.03,510.3v9.39M123.83,510.3v8.71M125.45,510.3v7.62M127.88,510.3v4.81" stroke="#f4a29b" stroke-width="0.59" fill="none"/>
<path d="M42.2,510.3v-6.12M43.82,510.3v-1.48M44.62,510.3v-1.44M46.24,510.3v-1.35M47.05,510.3v-3.35M48.67,510.3v-1.87M49.47,510.3v-8.36M52.71,510.3v-8.09M53.52,510.3v-6.94M55.13,510.3v-3.34M55.94,510.3v-0.62M59.17,510.3v-6.02M59.98,510.3v-1.05M60.79,510.3v-4.3M61.6,510.3v-3.64M63.21,510.3v-3.96M64.02,510.3v-1.53M64.83,510.3v-2.71M65.64,510.3v-5.73M68.06,510.3v-0.79M70.49,510.3v-8.32M72.11,510.3v-8.14M72.91,510.3v-6.48M73.72,510.3v-9.63M75.34,510.3v-5.34M76.96,510.3v-6.62M77.76,510.3v-2.05M78.57,510.3v-6.1M79.38,510.3v-1.44M80.19,510.3v-5.64M81.8,510.3v-3.44M82.61,510.3v-0.45M83.42,510.3v-9.97M84.23,510.3v-2.1M85.04,510.3v-5.12M85.85,510.3v-3.75M86.65,510.3v-7.9M87.46,510.3v-2.41M88.27,510.3v-9.61M89.08,510.3v-3.79M90.7,510.3v-4.08M92.31,510.3v-6.1M94.74,510.3v-1.98M95.54,510.3v-2.56M96.35,510.3v-3.02M97.16,510.3v-6.98M99.59,510.3v-4.65M100.39,510.3v-2M101.2,510.3v-0.75M103.63,510.3v-2.92M104.44,510.3v-0.69M105.24,510.3v-3.46M106.86,510.3v-4.44M107.67,510.3v-7.53M108.48,510.3v-8.63M109.29,510.3v-0.67M110.09,510.3v-1.63M111.71,510.3v-2.76M112.52,510.3v-7.5M113.33,510.3v-6.51M114.94,510.3v-8.98M115.75,510.3v-4.85M118.18,510.3v-4.42M119.79,510.3v-9.51M120.6,510.3v-0.42M124.64,510.3v-5.4M126.26,510.3v-7.02M127.07,510.3v-2.17M128.68,510.3v-7.3M130.3,510.3v-1.73" stroke="#e0392e" stroke-width="0.9" fill="none"/>
<path d="M42.2,510.3H130.3" stroke="#5b4340" stroke-width="0.7"/>
<text x="139.7" y="512.2" font-size="5" fill="#222" stroke="#222" stroke-width="0.2">0.36</text>
<text x="166" y="512.9" font-size="5" fill="#e8392d" font-weight="bold" letter-spacing="0.7">**</text>
<text x="38.5" y="535" font-size="5.3" fill="#1a1a1a" text-anchor="end" stroke="#1a1a1a" stroke-width="0.2">DNAdamage</text>
<path d="M43.01,533.2v9.35M44.62,533.2v6.32M47.86,533.2v3.23M49.47,533.2v1.24M50.28,533.2v6.37M53.52,533.2v3.69M54.32,533.2v4.04M55.13,533.2v8.61M55.94,533.2v0.9M56.75,533.2v6.05M58.37,533.2v4.81M60.79,533.2v0.82M61.6,533.2v0.7M63.21,533.2v0.92M64.02,533.2v0.73M65.64,533.2v4.21M67.26,533.2v0.75M68.87,533.2v9.33M70.49,533.2v5.4M72.11,533.2v3.88M73.72,533.2v2.31M75.34,533.2v4.35M77.76,533.2v5.56M81.8,533.2v2.32M83.42,533.2v2.58M84.23,533.2v3.34M85.04,533.2v5.66M85.85,533.2v7.36M86.65,533.2v8.27M88.27,533.2v5.14M89.08,533.2v2.8M89.89,533.2v5.83M98.78,533.2v1.21M99.59,533.2v1.91M100.39,533.2v6.29M102.01,533.2v5.26M104.44,533.2v8.51M106.05,533.2v5.1M108.48,533.2v8.13M109.29,533.2v0.52M110.09,533.2v2.71M116.56,533.2v2.04M117.37,533.2v9.21M118.18,533.2v8.42M121.41,533.2v7.89M122.22,533.2v9.65M123.03,533.2v8.2M125.45,533.2v7.76M127.07,533.2v3.84M128.68,533.2v4.42" stroke="#f4a29b" stroke-width="0.59" fill="none"/>
<path d="M42.2,533.2v-4.42M43.82,533.2v-1.19M45.43,533.2v-4.27M46.24,533.2v-5.05M47.05,533.2v-1M48.67,533.2v-5.27M51.09,533.2v-4.01M51.9,533.2v-1.7M52.71,533.2v-0.89M57.56,533.2v-0.33M59.17,533.2v-2.5M59.98,533.2v-5.22M64.83,533.2v-4.28M66.45,533.2v-2.39M68.06,533.2v-1.07M69.68,533.2v-0.56M71.3,533.2v-4.44M72.91,533.2v-3.37M74.53,533.2v-0.8M76.15,533.2v-2.04M76.96,533.2v-1.54M78.57,533.2v-6.42M79.38,533.2v-1.16M80.19,533.2v-0.57M81,533.2v-1.04M82.61,533.2v-3.63M87.46,533.2v-2.02M90.7,533.2v-6.4M91.5,533.2v-1.72M92.31,533.2v-0.37M93.12,533.2v-4.34M93.93,533.2v-1.21M94.74,533.2v-3.18M95.54,533.2v-5.11M96.35,533.2v-1.91M97.16,533.2v-0.49M97.97,533.2v-0.58M101.2,533.2v-6.4M102.82,533.2v-2.17M103.63,533.2v-2.62M105.24,533.2v-4.24M106.86,533.2v-5.81M107.67,533.2v-6.82M110.9,533.2v-1.98M112.52,533.2v-5.1M113.33,533.2v-3.05M114.13,533.2v-6.74M114.94,533.2v-4.25M118.98,533.2v-2.45M119.79,533.2v-6.42M120.6,533.2v-0.53M123.83,533.2v-6.11M124.64,533.2v-2.4M126.26,533.2v-4.24M129.49,533.2v-2.99M130.3,533.2v-0.99" stroke="#e0392e" stroke-width="0.9" fill="none"/>
<path d="M42.2,533.2H130.3" stroke="#5b4340" stroke-width="0.7"/>
<text x="139.7" y="535.1" font-size="5" fill="#222" stroke="#222" stroke-width="0.2">0.31</text>
<text x="166" y="535.8" font-size="5" fill="#e8392d" font-weight="bold" letter-spacing="0.7">*</text>
<text x="264.6" y="432.8" font-size="8" fill="#111" text-anchor="middle" font-weight="bold" font-family="'Liberation Serif', 'Times New Roman', serif">MEL</text>
<text x="224" y="445.2" font-size="5.3" fill="#1a1a1a" text-anchor="end" stroke="#1a1a1a" stroke-width="0.2">geneExp</text>
<path d="M227.7,443.6H316.4" stroke="#c8c8c8" stroke-width="0.9"/>
<path d="M227.7,443.6L227.7,443.6L227.7,433.4L229.92,438.28L232.13,440.82L234.35,442.15L236.57,442.84L238.79,443.2L241,443.39L243.22,443.49L245.44,443.54L247.66,443.57L249.88,443.58L252.09,443.59L254.31,443.6L256.53,443.6L258.75,443.6L260.96,443.6L263.18,443.6L265.4,443.6L267.62,443.6L269.83,443.6L272.05,443.6L274.27,443.6L276.49,443.6L278.7,443.6L280.92,443.6L283.14,443.6L285.35,443.6L287.57,443.6L289.79,443.6L292.01,443.6L294.22,443.6L296.44,443.6L298.66,443.6L300.88,443.6L303.09,443.6L305.31,443.6L307.53,443.6L309.75,443.6L311.96,443.6L314.18,443.6L316.4,443.6L316.4,443.6Z" fill="#985a50"/>
<path d="M227.7,433.4 L229.92,438.28 L232.13,440.82 L234.35,442.15 L236.57,442.84 L238.79,443.2 L241,443.39 L243.22,443.49 L245.44,443.54 L247.66,443.57 L249.88,443.58 L252.09,443.59 L254.31,443.6 L256.53,443.6 L258.75,443.6 L260.96,443.6 L263.18,443.6 L265.4,443.6 L267.62,443.6 L269.83,443.6 L272.05,443.6 L274.27,443.6 L276.49,443.6 L278.7,443.6 L280.92,443.6 L283.14,443.6 L285.35,443.6 L287.57,443.6 L289.79,443.6 L292.01,443.6 L294.22,443.6 L296.44,443.6 L298.66,443.6 L300.88,443.6 L303.09,443.6 L305.31,443.6 L307.53,443.6 L309.75,443.6 L311.96,443.6 L314.18,443.6 L316.4,443.6" fill="none" stroke="#6e3229" stroke-width="0.5" stroke-opacity="0.7"/>
<text x="315.4" y="461.5" font-size="5.4" fill="#222" stroke="#222" stroke-width="0.2">Correlation</text>
<text x="348.6" y="461.5" font-size="4.9" fill="#e8392d" stroke="#e8392d" stroke-width="0.2">Pvalue</text>
<text x="224" y="468.7" font-size="6.1" fill="#e8392d" text-anchor="end" stroke="#e8392d" stroke-width="0.2">Inflammation</text>
<path d="M228.92,466.7v2.4M231.35,466.7v3.58M231.75,466.7v2.93M232.97,466.7v1.67M235.4,466.7v1.02M236.21,466.7v4.42M237.83,466.7v0.86M238.23,466.7v4.39M239.45,466.7v1.76M245.12,466.7v4.77M245.52,466.7v9.88M245.93,466.7v5.6M246.33,466.7v4.57M246.74,466.7v2.15M247.14,466.7v1.35M247.95,466.7v4.49M248.36,466.7v0.39M248.76,466.7v2.56M249.17,466.7v1.43M249.98,466.7v9.82M250.38,466.7v4.45M250.79,466.7v9.55M251.19,466.7v7.06M252,466.7v7.77M252.41,466.7v5.72M252.81,466.7v5.5M253.22,466.7v2.74M253.62,466.7v2.43M254.43,466.7v9.49M255.24,466.7v8.38M255.65,466.7v2.25M256.05,466.7v9.55M256.46,466.7v1.09M257.67,466.7v8.55M258.08,466.7v1.03M258.48,466.7v2.9M258.89,466.7v1.89M259.29,466.7v1.55M259.7,466.7v6.86M260.1,466.7v0.34M260.51,466.7v8.62M260.91,466.7v7.72M262.13,466.7v6.88M262.53,466.7v6.72M262.94,466.7v0.31M263.34,466.7v2.75M263.75,466.7v2.61M264.15,466.7v5.17M264.56,466.7v0.78M264.96,466.7v4.75M265.37,466.7v9.64M265.77,466.7v6.75M266.18,466.7v5.29M266.99,466.7v3.2M267.39,466.7v9.93M267.8,466.7v0.59M268.61,466.7v4.13M269.42,466.7v4.08M269.82,466.7v3.54M270.23,466.7v1.94M271.04,466.7v6.8M271.44,466.7v7.01M271.85,466.7v2.05M272.25,466.7v4.53M272.66,466.7v9.6M273.47,466.7v6.94M273.87,466.7v7.6M274.28,466.7v7.38M274.68,466.7v8.46M275.09,466.7v6.57M275.49,466.7v9.09M275.9,466.7v5.86M276.3,466.7v9.6M277.11,466.7v2.77M277.52,466.7v1.2M277.92,466.7v0.62M278.33,466.7v9.38M278.73,466.7v4.28M279.14,466.7v9.52M279.54,466.7v1.76M279.95,466.7v6.14M280.35,466.7v2.28M280.76,466.7v2.88M281.16,466.7v8.31M281.57,466.7v6.56M281.97,466.7v5.68M282.38,466.7v3.44M282.78,466.7v4.33M283.19,466.7v5.88M283.59,466.7v1.46M284,466.7v2.39M284.4,466.7v9.57M285.21,466.7v6.8M286.43,466.7v2.08M287.64,466.7v8.85M288.05,466.7v1.1M288.45,466.7v8.06M288.86,466.7v0.36M289.26,466.7v3.68M289.67,466.7v1.94M290.07,466.7v8.29M290.48,466.7v8.73M291.69,466.7v7.39M292.1,466.7v0.45M292.5,466.7v5.77M292.91,466.7v4.37M293.31,466.7v3.03M293.72,466.7v3.18M294.12,466.7v5.99M294.53,466.7v0.55M297.36,466.7v2.53M301.01,466.7v4.49M301.82,466.7v4.47M302.63,466.7v1.78M303.03,466.7v4.65M305.06,466.7v2.52M305.46,466.7v0.88M305.87,466.7v2.62M306.27,466.7v3.59M306.68,466.7v1.64M307.89,466.7v1.64M309.92,466.7v2.45M310.32,466.7v2.4M311.54,466.7v3.65M314.78,466.7v1.71" stroke="#f4a29b" stroke-width="0.47" fill="none"/>
<path d="M227.7,466.7v-4.72M228.11,466.7v-2.94M228.51,466.7v-5.66M229.32,466.7v-1.17M229.73,466.7v-2.11M230.54,466.7v-1.15M232.16,466.7v-1.8M232.56,466.7v-0.46M233.37,466.7v-5.89M233.78,466.7v-6.94M234.18,466.7v-3.53M234.59,466.7v-2.98M235.8,466.7v-1M236.61,466.7v-5.38M237.02,466.7v-5.08M237.42,466.7v-2.92M238.64,466.7v-2.07M239.04,466.7v-2.22M239.85,466.7v-0.35M240.26,466.7v-7.58M240.66,466.7v-3.04M241.07,466.7v-5.25M241.47,466.7v-4.01M241.88,466.7v-4.13M242.28,466.7v-0.76M242.69,466.7v-6.93M243.09,466.7v-3.91M243.5,466.7v-0.4M243.9,466.7v-5.85M244.31,466.7v-2.14M244.71,466.7v-4.6M247.55,466.7v-2.25M249.57,466.7v-0.73M251.6,466.7v-0.4M254.84,466.7v-1.51M257.27,466.7v-1.04M261.32,466.7v-1.1M261.72,466.7v-2.1M266.58,466.7v-2.28M268.2,466.7v-2.28M270.63,466.7v-1M273.06,466.7v-1.14M284.81,466.7v-2.26M285.62,466.7v-1.21M286.02,466.7v-1.56M286.83,466.7v-1.35M287.24,466.7v-0.65M290.88,466.7v-1.47M291.29,466.7v-2.59M294.93,466.7v-1.25M295.34,466.7v-0.83M296.15,466.7v-2.9M296.55,466.7v-4.15M296.96,466.7v-0.38M297.77,466.7v-4.47M298.17,466.7v-3.12M298.58,466.7v-5.65M299.39,466.7v-3.18M299.79,466.7v-0.74M300.2,466.7v-2.89M300.6,466.7v-5.86M301.41,466.7v-0.99M302.22,466.7v-6.38M303.84,466.7v-3.83M304.25,466.7v-5.02M304.65,466.7v-0.68M307.08,466.7v-2.24M307.49,466.7v-3.24M308.7,466.7v-3.56M309.11,466.7v-4.25M309.51,466.7v-0.4M310.73,466.7v-1.13M311.13,466.7v-4.05M311.94,466.7v-1.21M312.35,466.7v-2.04M312.75,466.7v-1.29M313.16,466.7v-2.62M313.56,466.7v-5.61M313.97,466.7v-5.43M314.37,466.7v-4.81M315.59,466.7v-3.57M315.99,466.7v-7.2M316.4,466.7v-1.05" stroke="#e5493f" stroke-width="0.72" fill="none"/>
<path d="M227.7,466.7H316.4" stroke="#5b4340" stroke-width="0.7"/>
<text x="325" y="468.6" font-size="5" fill="#222" stroke="#222" stroke-width="0.2">0.50</text>
<text x="351" y="469.3" font-size="5" fill="#e8392d" font-weight="bold" letter-spacing="0.7">***</text>
<text x="224" y="492.1" font-size="5.3" fill="#1a1a1a" text-anchor="end" stroke="#1a1a1a" stroke-width="0.2">Angiogenesis</text>
<path d="M227.7,490.3v0.58M229.32,490.3v1M229.73,490.3v1.43M231.35,490.3v2.8M232.16,490.3v2.76M232.56,490.3v3.77M232.97,490.3v2.68M234.59,490.3v3.12M237.42,490.3v1.37M240.66,490.3v2.39M241.47,490.3v0.72M244.71,490.3v2.13M245.12,490.3v2.33M245.52,490.3v5.54M245.93,490.3v7.22M246.33,490.3v7.04M246.74,490.3v3.19M247.14,490.3v8.04M247.55,490.3v9.37M248.36,490.3v3.06M248.76,490.3v6.67M249.17,490.3v2.36M249.98,490.3v0.95M250.38,490.3v2.22M250.79,490.3v1.52M251.19,490.3v0.77M251.6,490.3v1.78M252,490.3v7.13M252.41,490.3v8.19M253.62,490.3v4.56M254.03,490.3v7.29M254.43,490.3v4.3M254.84,490.3v1.99M255.24,490.3v0.5M255.65,490.3v1.31M256.05,490.3v6.18M256.86,490.3v0.31M258.08,490.3v9.84M258.48,490.3v2.02M258.89,490.3v1.15M259.29,490.3v8.51M260.1,490.3v6.12M260.51,490.3v7.85M260.91,490.3v5.2M261.32,490.3v8.35M261.72,490.3v1.59M262.13,490.3v1.32M262.53,490.3v4.77M262.94,490.3v8.01M263.34,490.3v1.61M263.75,490.3v8.63M264.15,490.3v3.52M264.56,490.3v1.66M264.96,490.3v0.38M265.37,490.3v2.04M265.77,490.3v9.67M266.18,490.3v5.26M266.58,490.3v5.68M266.99,490.3v7.48M267.8,490.3v7.89M268.2,490.3v0.78M269.01,490.3v9.32M269.42,490.3v3.77M269.82,490.3v7.18M270.23,490.3v9.68M270.63,490.3v7.04M271.04,490.3v7.83M271.44,490.3v2.87M271.85,490.3v2.07M273.06,490.3v0.82M273.47,490.3v2.98M273.87,490.3v4.43M274.28,490.3v3.19M274.68,490.3v2.73M275.09,490.3v8.67M275.49,490.3v3.4M276.3,490.3v1.87M276.71,490.3v2.07M277.11,490.3v1.14M277.92,490.3v0.91M278.33,490.3v7.84M278.73,490.3v0.53M279.14,490.3v3.46M279.54,490.3v5.52M279.95,490.3v6.02M280.76,490.3v6.44M281.16,490.3v2.52M281.97,490.3v4.19M282.38,490.3v1.86M282.78,490.3v6.08M283.59,490.3v5.55M284,490.3v2.07M284.4,490.3v9.26M284.81,490.3v3.63M285.21,490.3v1.47M285.62,490.3v9.1M286.02,490.3v8.07M286.43,490.3v8.57M286.83,490.3v1.94M287.24,490.3v6.56M287.64,490.3v5.72M288.05,490.3v5.22M288.45,490.3v7.8M288.86,490.3v9.77M289.26,490.3v1.96M289.67,490.3v1.04M290.07,490.3v0.34M290.48,490.3v2.74M290.88,490.3v1.03M291.29,490.3v6.9M291.69,490.3v1.06M292.1,490.3v6.22M292.91,490.3v7.92M293.31,490.3v9.35M293.72,490.3v1.34M294.12,490.3v3.36M294.53,490.3v1.48M300.6,490.3v2.39M301.01,490.3v3.32M301.82,490.3v4.56M303.03,490.3v1.77M303.84,490.3v0.71M306.68,490.3v3.01M309.11,490.3v1.24M309.51,490.3v3.58M310.32,490.3v2.46M310.73,490.3v2.22M311.94,490.3v0.48M313.97,490.3v2.24" stroke="#f4a29b" stroke-width="0.47" fill="none"/>
<path d="M228.11,490.3v-7.64M228.51,490.3v-0.49M228.92,490.3v-1.92M230.13,490.3v-6.98M230.54,490.3v-6.9M231.75,490.3v-0.88M233.37,490.3v-4.04M233.78,490.3v-7.22M234.18,490.3v-5.55M234.99,490.3v-5.96M235.4,490.3v-0.85M235.8,490.3v-3.37M236.21,490.3v-6.91M236.61,490.3v-3.25M237.02,490.3v-4.47M237.83,490.3v-3.79M238.23,490.3v-3.9M238.64,490.3v-2.58M239.04,490.3v-3.34M239.45,490.3v-7.62M239.85,490.3v-2.57M240.26,490.3v-6.96M241.07,490.3v-0.37M241.88,490.3v-1.95M242.28,490.3v-2.01M243.09,490.3v-5.69M243.5,490.3v-0.95M244.31,490.3v-5.99M247.95,490.3v-1.21M249.57,490.3v-2.85M252.81,490.3v-0.84M256.46,490.3v-1.2M267.39,490.3v-2.78M268.61,490.3v-0.32M272.25,490.3v-2.69M275.9,490.3v-2.78M277.52,490.3v-2.95M280.35,490.3v-1.82M294.93,490.3v-1.21M295.34,490.3v-2.52M295.74,490.3v-4.52M296.15,490.3v-1.06M296.55,490.3v-5.93M296.96,490.3v-0.47M297.36,490.3v-5.64M297.77,490.3v-6.52M298.17,490.3v-1.75M298.58,490.3v-4.82M298.98,490.3v-5.43M299.79,490.3v-3.4M300.2,490.3v-6.35M301.41,490.3v-0.66M302.22,490.3v-2.09M302.63,490.3v-3.87M303.44,490.3v-3.82M304.25,490.3v-4.06M304.65,490.3v-5.55M305.06,490.3v-5.69M305.46,490.3v-0.7M305.87,490.3v-0.43M306.27,490.3v-5.04M307.08,490.3v-4.24M307.49,490.3v-1.97M307.89,490.3v-2.7M308.3,490.3v-0.83M309.92,490.3v-6.29M311.13,490.3v-0.61M311.54,490.3v-5.92M312.35,490.3v-0.42M312.75,490.3v-1.86M313.16,490.3v-0.61M313.56,490.3v-1.14M314.37,490.3v-5.11M314.78,490.3v-1.23M315.18,490.3v-1.48M315.59,490.3v-4.84M315.99,490.3v-4.6" stroke="#e5493f" stroke-width="0.72" fill="none"/>
<path d="M227.7,490.3H316.4" stroke="#5b4340" stroke-width="0.7"/>
<text x="325" y="492.2" font-size="5" fill="#222" stroke="#222" stroke-width="0.2">0.49</text>
<text x="351" y="492.9" font-size="5" fill="#e8392d" font-weight="bold" letter-spacing="0.7">***</text>
<text x="224" y="515.3" font-size="5.3" fill="#1a1a1a" text-anchor="end" stroke="#1a1a1a" stroke-width="0.2">EMT</text>
<path d="M227.7,513.5v4.72M228.11,513.5v0.33M232.56,513.5v1.64M235.8,513.5v0.83M239.45,513.5v1.03M242.28,513.5v4.72M243.5,513.5v1.71M244.71,513.5v4.73M245.52,513.5v1.42M245.93,513.5v7.96M246.33,513.5v3.87M246.74,513.5v4.1M247.14,513.5v8.82M247.55,513.5v8.85M247.95,513.5v3.78M248.36,513.5v8.14M248.76,513.5v2.07M249.17,513.5v3.75M249.57,513.5v5.25M249.98,513.5v8.11M250.38,513.5v6.03M250.79,513.5v5.28M251.19,513.5v2.16M251.6,513.5v0.61M252,513.5v5.1M252.41,513.5v5.29M252.81,513.5v4.15M253.62,513.5v7.67M254.03,513.5v8.55M254.43,513.5v6.55M254.84,513.5v4.15M255.24,513.5v0.64M255.65,513.5v4.46M256.05,513.5v5.07M256.46,513.5v4.93M256.86,513.5v8.89M257.67,513.5v4.64M258.08,513.5v6.47M258.48,513.5v2.58M258.89,513.5v3.15M259.29,513.5v9.56M259.7,513.5v3.53M260.1,513.5v8M260.51,513.5v5.22M260.91,513.5v2.45M261.72,513.5v8.39M262.13,513.5v0.89M262.53,513.5v0.98M262.94,513.5v4.07M263.34,513.5v2.27M263.75,513.5v2.15M264.15,513.5v6.06M264.96,513.5v3.27M265.37,513.5v8.23M266.18,513.5v6.54M266.58,513.5v0.61M266.99,513.5v6.28M267.39,513.5v9.74M267.8,513.5v1.54M268.61,513.5v7.09M269.01,513.5v6.85M269.42,513.5v7.51M269.82,513.5v5.73M270.23,513.5v2.92M270.63,513.5v0.73M271.04,513.5v1.76M271.44,513.5v2.82M271.85,513.5v5.01M272.25,513.5v4.01M272.66,513.5v6.24M273.06,513.5v9.18M273.47,513.5v8.76M273.87,513.5v9.81M274.28,513.5v3.45M274.68,513.5v8.16M275.49,513.5v7.38M275.9,513.5v1.8M276.3,513.5v0.44M276.71,513.5v3.93M277.11,513.5v5.59M277.52,513.5v2.14M277.92,513.5v6.44M278.33,513.5v1.45M278.73,513.5v5.45M279.14,513.5v5.04M279.54,513.5v3.93M279.95,513.5v9.11M280.35,513.5v6.34M280.76,513.5v0.48M281.16,513.5v3.56M281.57,513.5v0.43M282.38,513.5v7.19M282.78,513.5v6.42M283.19,513.5v1.41M283.59,513.5v0.48M284,513.5v4.81M284.4,513.5v0.98M285.21,513.5v6.14M285.62,513.5v5.92M286.02,513.5v5.77M286.43,513.5v1.68M286.83,513.5v9.76M287.24,513.5v2.51M287.64,513.5v5.14M288.05,513.5v2.61M288.86,513.5v5.39M289.26,513.5v1.27M289.67,513.5v9.42M290.07,513.5v0.9M290.48,513.5v9.67M290.88,513.5v8.12M291.69,513.5v6.97M292.1,513.5v6.04M292.5,513.5v2.39M292.91,513.5v9.92M293.31,513.5v8.64M293.72,513.5v7.13M294.12,513.5v0.54M294.53,513.5v1.48M294.93,513.5v0.46M296.15,513.5v3.69M296.96,513.5v3.04M299.79,513.5v0.89M300.2,513.5v3.89M303.03,513.5v4.12M303.84,513.5v3.47M304.25,513.5v4.54M305.87,513.5v0.39M306.68,513.5v2.13M308.3,513.5v3.57M309.92,513.5v1.16M310.73,513.5v1.51M313.56,513.5v3.79M315.18,513.5v3.03M315.59,513.5v0.59" stroke="#f4a29b" stroke-width="0.47" fill="none"/>
<path d="M228.51,513.5v-2.51M228.92,513.5v-0.54M229.32,513.5v-2.67M229.73,513.5v-2.75M230.13,513.5v-0.31M230.54,513.5v-2.49M230.94,513.5v-5.12M231.75,513.5v-3.85M232.16,513.5v-4.12M232.97,513.5v-2.09M233.37,513.5v-4.46M233.78,513.5v-0.31M234.18,513.5v-4.97M234.59,513.5v-2.69M234.99,513.5v-0.84M235.4,513.5v-1.76M236.21,513.5v-0.38M236.61,513.5v-1.43M237.02,513.5v-5.92M237.42,513.5v-2.1M237.83,513.5v-1.63M238.23,513.5v-3.51M238.64,513.5v-0.42M239.04,513.5v-4.88M239.85,513.5v-6.85M240.26,513.5v-7.11M240.66,513.5v-7.4M241.07,513.5v-2.45M241.47,513.5v-5.81M241.88,513.5v-7.39M242.69,513.5v-7.53M243.09,513.5v-1.93M244.31,513.5v-0.92M245.12,513.5v-0.4M257.27,513.5v-2.51M261.32,513.5v-0.41M264.56,513.5v-2.25M265.77,513.5v-2.01M268.2,513.5v-1.57M275.09,513.5v-0.89M281.97,513.5v-0.88M284.81,513.5v-1.12M295.34,513.5v-0.57M296.55,513.5v-3.49M297.36,513.5v-5.38M297.77,513.5v-3.59M298.17,513.5v-6.34M298.58,513.5v-5.88M298.98,513.5v-1.68M299.39,513.5v-3.82M300.6,513.5v-0.56M301.01,513.5v-7M301.41,513.5v-2.4M301.82,513.5v-5.49M302.22,513.5v-3.22M302.63,513.5v-6.59M303.44,513.5v-3.72M304.65,513.5v-3M305.06,513.5v-0.92M305.46,513.5v-7.07M306.27,513.5v-1.98M307.08,513.5v-3.32M307.89,513.5v-7.14M308.7,513.5v-3.41M309.11,513.5v-5.05M310.32,513.5v-2.66M311.13,513.5v-2.4M311.54,513.5v-5.34M311.94,513.5v-4.26M312.35,513.5v-4.82M312.75,513.5v-6.12M313.97,513.5v-0.39M314.37,513.5v-5.16M314.78,513.5v-6.89M315.99,513.5v-3.16M316.4,513.5v-6.79" stroke="#e5493f" stroke-width="0.72" fill="none"/>
<path d="M227.7,513.5H316.4" stroke="#5b4340" stroke-width="0.7"/>
<text x="325" y="515.4" font-size="5" fill="#222" stroke="#222" stroke-width="0.2">0.46</text>
<text x="351" y="516.1" font-size="5" fill="#e8392d" font-weight="bold" letter-spacing="0.7">***</text>
<text x="224" y="538.8" font-size="5.3" fill="#1a1a1a" text-anchor="end" stroke="#1a1a1a" stroke-width="0.2">Metastasis</text>
<path d="M230.54,537v0.47M232.56,537v0.66M233.78,537v4.59M235.4,537v4.96M235.8,537v1.17M237.83,537v0.54M241.88,537v1.08M245.52,537v3.01M245.93,537v7.81M246.74,537v5.11M247.14,537v3.84M247.55,537v8.96M247.95,537v3.47M248.36,537v2.84M248.76,537v3.62M249.98,537v4.97M250.38,537v1.83M250.79,537v1.48M252,537v6.76M252.81,537v0.83M253.22,537v1.16M253.62,537v0.61M254.03,537v4.63M254.43,537v2.22M254.84,537v4.19M255.24,537v3.76M255.65,537v8.32M256.05,537v3.06M256.46,537v1.27M256.86,537v9.64M257.27,537v8.59M257.67,537v5.91M258.08,537v2.73M258.48,537v5.79M258.89,537v2.06M259.29,537v0.48M259.7,537v9.79M260.1,537v4.41M260.51,537v7.39M260.91,537v1.29M261.72,537v7.1M262.13,537v2.03M262.53,537v6.53M262.94,537v2.06M263.34,537v2.05M263.75,537v5.2M264.15,537v2.1M264.56,537v5.38M264.96,537v3.29M265.37,537v8.01M265.77,537v4.76M266.18,537v0.67M266.58,537v9.18M266.99,537v4.14M267.39,537v2.06M267.8,537v4.86M268.2,537v8.6M268.61,537v7.65M269.01,537v5.53M269.42,537v1.66M269.82,537v6.61M270.23,537v1.16M270.63,537v8.13M271.04,537v4.84M271.44,537v6.83M271.85,537v4.87M272.25,537v8.57M272.66,537v8.33M273.06,537v5.81M273.47,537v0.59M274.28,537v4.52M274.68,537v4.52M275.09,537v7.07M275.49,537v3.15M276.3,537v5.98M276.71,537v5.75M277.11,537v9.58M277.52,537v1.47M277.92,537v9.71M278.33,537v4.41M278.73,537v0.47M279.14,537v2.73M279.54,537v7.17M279.95,537v2.13M280.35,537v5.04M281.16,537v6.47M281.57,537v4.71M281.97,537v5.88M282.38,537v8.2M282.78,537v8.98M283.19,537v1.44M283.59,537v8.49M284,537v5.91M284.4,537v1.34M284.81,537v3.87M285.21,537v9.68M285.62,537v9.19M286.02,537v9.51M286.43,537v1.71M286.83,537v8.5M287.24,537v4.7M287.64,537v5.73M288.05,537v4.89M288.45,537v6.99M288.86,537v7.01M289.26,537v1.17M290.07,537v5.01M290.48,537v1.12M290.88,537v0.57M291.29,537v7.5M291.69,537v1.21M292.1,537v0.77M292.5,537v9.73M292.91,537v8.29M293.31,537v4.64M294.12,537v9.58M294.53,537v3.83M294.93,537v8.7M296.96,537v4.01M298.17,537v4.48M298.58,537v4.96M303.44,537v4.26M305.46,537v4.85M306.68,537v3.02M308.7,537v3.72M309.11,537v1M309.92,537v2.69M311.13,537v3.26M311.94,537v1.84M313.16,537v1.83M313.97,537v1.58M315.99,537v4.31" stroke="#f4a29b" stroke-width="0.47" fill="none"/>
<path d="M227.7,537v-6.1M228.11,537v-7.63M228.51,537v-4.55M228.92,537v-5.33M229.32,537v-4.87M229.73,537v-5.41M230.13,537v-6.34M230.94,537v-7.24M231.35,537v-2.66M231.75,537v-7.19M232.16,537v-5.36M232.97,537v-1.64M233.37,537v-2.08M234.18,537v-6.62M234.59,537v-0.37M234.99,537v-5.72M236.21,537v-6.91M236.61,537v-3.06M237.02,537v-0.61M237.42,537v-4.55M238.23,537v-7.62M238.64,537v-3.37M239.04,537v-4.2M239.45,537v-4.32M239.85,537v-2.26M240.26,537v-2.35M240.66,537v-6.02M241.07,537v-0.86M241.47,537v-2.59M242.69,537v-1.69M243.09,537v-5.39M243.5,537v-7.54M243.9,537v-5.83M244.31,537v-3.74M244.71,537v-2.3M245.12,537v-1.62M249.17,537v-1.09M249.57,537v-2.17M251.19,537v-2.31M251.6,537v-2.72M252.41,537v-2.62M261.32,537v-0.31M275.9,537v-1.66M289.67,537v-2.65M295.34,537v-4.83M295.74,537v-2.44M296.15,537v-0.66M296.55,537v-1.49M297.36,537v-5.03M297.77,537v-3.53M299.39,537v-4.29M299.79,537v-6.41M300.2,537v-6.18M300.6,537v-3.66M301.01,537v-1.88M301.41,537v-5.01M301.82,537v-4.05M302.22,537v-1.86M302.63,537v-7.02M303.03,537v-3.4M303.84,537v-7.02M304.25,537v-6.53M304.65,537v-2.38M305.87,537v-6.73M306.27,537v-2.64M307.08,537v-4M307.49,537v-4.73M307.89,537v-4.08M308.3,537v-0.35M309.51,537v-4.74M310.32,537v-2.5M310.73,537v-2.81M311.54,537v-6.44M312.35,537v-4.27M312.75,537v-0.5M313.56,537v-1.4M314.37,537v-1.2M314.78,537v-0.52M315.18,537v-2.6M315.59,537v-4.58M316.4,537v-3.38" stroke="#e5493f" stroke-width="0.72" fill="none"/>
<path d="M227.7,537H316.4" stroke="#5b4340" stroke-width="0.7"/>
<text x="325" y="538.9" font-size="5" fill="#222" stroke="#222" stroke-width="0.2">0.44</text>
<text x="351" y="539.6" font-size="5" fill="#e8392d" font-weight="bold" letter-spacing="0.7">***</text>
<text x="224" y="562.4" font-size="5.3" fill="#1a1a1a" text-anchor="end" stroke="#1a1a1a" stroke-width="0.2">Quiescence</text>
<path d="M228.11,560.6v0.92M228.51,560.6v3.04M230.54,560.6v2.4M231.35,560.6v0.76M235.4,560.6v0.95M240.26,560.6v3.67M241.07,560.6v1.69M245.93,560.6v0.89M246.33,560.6v5.61M247.14,560.6v8.53M247.55,560.6v9.34M247.95,560.6v0.61M248.36,560.6v9.63M248.76,560.6v1.29M249.17,560.6v2.4M249.98,560.6v1.86M250.38,560.6v8.48M250.79,560.6v1.44M251.6,560.6v1.39M252,560.6v2.31M252.41,560.6v6.66M252.81,560.6v4.27M253.22,560.6v7.89M253.62,560.6v2.41M254.03,560.6v2.43M254.43,560.6v4.83M255.24,560.6v9.79M255.65,560.6v4.43M256.46,560.6v4.69M256.86,560.6v2.8M257.27,560.6v7.58M257.67,560.6v0.54M258.48,560.6v5.52M258.89,560.6v1.06M259.29,560.6v6.44M259.7,560.6v8.86M260.1,560.6v8.94M260.51,560.6v9M261.32,560.6v0.85M261.72,560.6v7.99M262.53,560.6v7.28M263.75,560.6v4.47M264.15,560.6v3.6M264.56,560.6v2.35M264.96,560.6v6.5M265.37,560.6v3.32M265.77,560.6v9.84M266.18,560.6v9.3M266.58,560.6v5.05M266.99,560.6v4.69M267.8,560.6v9.19M268.2,560.6v1.53M268.61,560.6v1.08M269.01,560.6v4.44M269.42,560.6v9.92M270.23,560.6v1.13M270.63,560.6v9M271.04,560.6v3.88M271.85,560.6v7.14M272.25,560.6v3.91M272.66,560.6v8.66M273.06,560.6v0.41M273.47,560.6v3.1M273.87,560.6v0.35M274.68,560.6v2.28M275.09,560.6v1.2M275.9,560.6v9.36M276.3,560.6v2.8M277.11,560.6v2.18M277.52,560.6v2.34M277.92,560.6v3.9M279.14,560.6v4.51M279.54,560.6v0.74M279.95,560.6v5.99M280.35,560.6v9.31M280.76,560.6v4.93M281.16,560.6v3.95M281.57,560.6v5.65M281.97,560.6v4.7M282.38,560.6v2.32M282.78,560.6v3.88M283.19,560.6v3.35M283.59,560.6v1.22M284,560.6v4.39M284.81,560.6v8.76M285.21,560.6v2.46M285.62,560.6v3.92M286.02,560.6v5.14M286.83,560.6v9.05M287.24,560.6v9.94M287.64,560.6v5.02M288.05,560.6v4.97M288.86,560.6v8.85M289.26,560.6v6.72M289.67,560.6v0.95M290.07,560.6v5.18M290.48,560.6v3.18M290.88,560.6v7.88M291.69,560.6v9.34M292.1,560.6v7.53M292.5,560.6v3.65M292.91,560.6v5.72M293.31,560.6v6.61M293.72,560.6v6.6M294.12,560.6v5.59M294.93,560.6v9.6M295.74,560.6v2.67M296.15,560.6v2.58M296.96,560.6v2.83M301.82,560.6v1.53M303.03,560.6v4.89M304.65,560.6v2.19M305.46,560.6v2.24M305.87,560.6v1.66M307.49,560.6v1.01M309.51,560.6v3.2M313.56,560.6v4.73M314.37,560.6v0.43M315.59,560.6v0.84" stroke="#f4a29b" stroke-width="0.47" fill="none"/>
<path d="M227.7,560.6v-6.93M228.92,560.6v-7.19M229.32,560.6v-1.64M229.73,560.6v-3.84M230.13,560.6v-4.69M230.94,560.6v-4.15M231.75,560.6v-2.86M232.16,560.6v-7.38M232.56,560.6v-0.37M232.97,560.6v-2.43M233.37,560.6v-0.71M234.18,560.6v-3.23M234.59,560.6v-6.43M234.99,560.6v-0.78M235.8,560.6v-3.6M236.21,560.6v-3.06M236.61,560.6v-2.97M237.02,560.6v-5.88M237.83,560.6v-5.86M238.23,560.6v-2.77M238.64,560.6v-1.07M239.04,560.6v-1.96M239.45,560.6v-0.54M239.85,560.6v-4.67M240.66,560.6v-0.63M241.47,560.6v-3.7M241.88,560.6v-3.44M242.28,560.6v-1.63M242.69,560.6v-2.77M243.09,560.6v-2.7M243.5,560.6v-7.51M243.9,560.6v-5.31M244.31,560.6v-5.77M244.71,560.6v-3.65M245.12,560.6v-1.13M245.52,560.6v-2.03M246.74,560.6v-1.27M249.57,560.6v-1.51M251.19,560.6v-2.64M254.84,560.6v-0.59M256.05,560.6v-1.17M260.91,560.6v-2.41M262.13,560.6v-1.9M262.94,560.6v-2.86M267.39,560.6v-1.05M269.82,560.6v-2.49M271.44,560.6v-1.17M276.71,560.6v-2.49M278.33,560.6v-0.41M278.73,560.6v-2.09M288.45,560.6v-0.61M291.29,560.6v-2.52M295.34,560.6v-3.5M296.55,560.6v-6.46M297.36,560.6v-3.34M297.77,560.6v-1.99M298.17,560.6v-1.44M298.58,560.6v-6.69M298.98,560.6v-6.08M299.39,560.6v-7.19M299.79,560.6v-1.79M300.2,560.6v-1.3M300.6,560.6v-1.42M301.01,560.6v-2.09M301.41,560.6v-6.72M302.63,560.6v-3.65M303.44,560.6v-5.67M303.84,560.6v-0.33M304.25,560.6v-0.43M305.06,560.6v-2.92M306.27,560.6v-5.22M306.68,560.6v-6.39M307.08,560.6v-0.65M307.89,560.6v-6.67M308.3,560.6v-4.2M309.11,560.6v-7.05M309.92,560.6v-2.87M310.73,560.6v-1.42M311.13,560.6v-6.66M311.54,560.6v-0.41M311.94,560.6v-5.89M312.35,560.6v-0.59M312.75,560.6v-2.25M313.16,560.6v-1.63M313.97,560.6v-5.23M314.78,560.6v-1.74M315.18,560.6v-4.04M315.99,560.6v-3.04M316.4,560.6v-0.61" stroke="#e5493f" stroke-width="0.72" fill="none"/>
<path d="M227.7,560.6H316.4" stroke="#5b4340" stroke-width="0.7"/>
<text x="325" y="562.5" font-size="5" fill="#222" stroke="#222" stroke-width="0.2">0.42</text>
<text x="351" y="563.2" font-size="5" fill="#e8392d" font-weight="bold" letter-spacing="0.7">**</text>
<text x="224" y="585.8" font-size="5.3" fill="#1a1a1a" text-anchor="end" stroke="#1a1a1a" stroke-width="0.2">Hypoxia</text>
<path d="M230.13,584v1.87M230.54,584v3.84M231.35,584v0.96M232.16,584v4.76M234.99,584v1.94M235.4,584v0.85M235.8,584v1.09M236.21,584v1.75M238.64,584v0.36M242.28,584v3.37M245.93,584v3.93M247.55,584v3.88M248.36,584v9.31M248.76,584v5.15M249.17,584v0.8M249.57,584v4.05M249.98,584v1.2M250.38,584v9.82M250.79,584v7.9M251.19,584v4.82M251.6,584v7.1M252,584v0.32M252.41,584v2.1M253.22,584v1.88M254.03,584v6.91M254.43,584v1.83M254.84,584v1.17M255.65,584v6.55M256.05,584v7.77M256.46,584v9.84M257.27,584v7.23M257.67,584v1.4M258.48,584v1.66M258.89,584v8.03M259.29,584v2.9M259.7,584v7.6M260.1,584v6.21M260.51,584v5.5M260.91,584v0.36M261.32,584v9.44M262.13,584v2.73M262.53,584v2.01M262.94,584v2.19M263.34,584v6.69M264.15,584v4.34M264.96,584v0.79M265.77,584v9.99M266.18,584v9.33M266.58,584v0.55M266.99,584v6.13M267.39,584v7.44M267.8,584v0.96M268.2,584v9.41M268.61,584v1.61M269.01,584v9.51M269.42,584v0.8M269.82,584v6.23M270.23,584v4.33M270.63,584v6.66M271.04,584v5.19M271.44,584v6.3M271.85,584v1.12M272.25,584v0.36M272.66,584v4.33M273.06,584v2.64M273.47,584v4.1M273.87,584v1.76M274.68,584v7.18M275.09,584v1.65M275.9,584v2.14M276.3,584v0.96M276.71,584v5.45M277.11,584v9.88M277.52,584v2.42M277.92,584v9.46M278.33,584v9.15M278.73,584v2.64M279.14,584v0.51M279.54,584v4.7M280.35,584v8.42M280.76,584v3.3M281.16,584v4.75M281.57,584v8.58M281.97,584v5.34M282.78,584v3.8M283.59,584v7.16M284,584v3.32M284.4,584v4.8M284.81,584v5.56M285.21,584v5.24M285.62,584v7.15M286.43,584v4.36M286.83,584v1.18M287.24,584v7.94M287.64,584v3.58M288.45,584v4.59M288.86,584v1.74M289.26,584v1.33M289.67,584v1.23M290.07,584v9.29M290.88,584v0.83M291.29,584v8.75M291.69,584v2.99M292.1,584v2.42M292.5,584v2.81M292.91,584v9.6M293.31,584v6.03M293.72,584v5.04M294.12,584v2.47M294.53,584v3.21M294.93,584v9.49M295.74,584v1.16M297.77,584v4.49M298.58,584v3.39M305.06,584v2.05M306.27,584v2.82M309.11,584v0.95M310.73,584v4.14M315.59,584v3.25M316.4,584v3.49" stroke="#f4a29b" stroke-width="0.47" fill="none"/>
<path d="M227.7,584v-0.96M228.11,584v-3.94M228.51,584v-5.5M229.32,584v-3.13M229.73,584v-7.19M231.75,584v-3.92M232.56,584v-5.98M232.97,584v-7.34M233.37,584v-3.46M234.18,584v-3.94M234.59,584v-5.87M236.61,584v-3.26M237.42,584v-4.94M237.83,584v-2.38M238.23,584v-5.55M239.04,584v-0.4M239.45,584v-7.08M239.85,584v-3.78M240.26,584v-0.36M241.07,584v-7.25M241.47,584v-6.74M241.88,584v-5.5M242.69,584v-2.86M243.5,584v-3.66M243.9,584v-7.38M244.31,584v-5.9M244.71,584v-3.79M245.52,584v-0.99M246.74,584v-1.56M247.95,584v-2.75M252.81,584v-0.57M256.86,584v-1.16M263.75,584v-1.9M275.49,584v-0.54M279.95,584v-0.63M282.38,584v-0.73M283.19,584v-2.44M286.02,584v-1.27M288.05,584v-0.65M290.48,584v-0.77M295.34,584v-1.9M296.15,584v-6.06M296.55,584v-0.97M297.36,584v-6.2M298.17,584v-5.54M298.98,584v-5.07M299.39,584v-2.39M299.79,584v-5.61M301.01,584v-4.71M301.41,584v-0.83M301.82,584v-3.82M302.63,584v-6.37M303.44,584v-1.29M303.84,584v-1.27M304.25,584v-6.86M304.65,584v-2.52M305.46,584v-1.28M305.87,584v-5.72M306.68,584v-0.41M307.08,584v-1.97M307.49,584v-4.64M307.89,584v-5.84M308.3,584v-2.93M308.7,584v-2.32M309.51,584v-3.27M309.92,584v-1.47M310.32,584v-5.71M311.54,584v-1.47M311.94,584v-4.39M312.35,584v-1.76M313.16,584v-0.76M313.56,584v-1.5M313.97,584v-7.04M314.37,584v-1.03M314.78,584v-3.39M315.18,584v-4.3M315.99,584v-3.42" stroke="#e5493f" stroke-width="0.72" fill="none"/>
<path d="M227.7,584H316.4" stroke="#5b4340" stroke-width="0.7"/>
<text x="325" y="585.9" font-size="5" fill="#222" stroke="#222" stroke-width="0.2">0.41</text>
<text x="351" y="586.6" font-size="5" fill="#e8392d" font-weight="bold" letter-spacing="0.7">**</text>
<text x="224" y="609.8" font-size="5.3" fill="#1a1a1a" text-anchor="end" stroke="#1a1a1a" stroke-width="0.2">Apoptosis</text>
<path d="M228.11,608v0.83M229.32,608v0.77M229.73,608v2.29M230.94,608v3.78M232.16,608v3.07M234.59,608v3.78M235.8,608v0.73M237.83,608v1.59M245.93,608v7.2M246.33,608v1.96M246.74,608v8.23M247.14,608v3.49M247.55,608v3.1M247.95,608v1.55M248.36,608v2.61M248.76,608v4.28M249.17,608v0.82M249.57,608v8.43M250.38,608v4.33M250.79,608v4.02M251.19,608v1.74M251.6,608v1.24M252,608v9.95M252.41,608v8.92M252.81,608v5.79M253.22,608v0.62M253.62,608v2.72M254.03,608v3.66M254.84,608v5.14M255.65,608v9.12M256.05,608v4.88M256.46,608v5.72M256.86,608v9.23M257.27,608v5.27M257.67,608v7.46M258.08,608v6.07M258.48,608v6.71M258.89,608v3.15M259.29,608v7.04M259.7,608v9.59M260.1,608v0.5M260.51,608v5.51M260.91,608v0.35M261.32,608v1.06M261.72,608v9.79M262.13,608v4.13M262.53,608v1.1M262.94,608v8.36M263.34,608v6.77M263.75,608v9.6M264.15,608v3.01M264.56,608v0.48M264.96,608v7.22M265.37,608v7.8M265.77,608v7.8M266.18,608v4.96M266.58,608v9.82M266.99,608v3.14M267.39,608v2.61M267.8,608v3.68M268.2,608v2.29M268.61,608v0.88M269.82,608v9.23M270.23,608v7.58M270.63,608v7.71M271.04,608v3.98M271.44,608v2.26M271.85,608v8.28M272.25,608v7.34M272.66,608v1M273.06,608v9.56M273.47,608v3.02M273.87,608v0.88M274.28,608v7.2M275.09,608v7.09M275.49,608v0.67M276.71,608v8.75M277.11,608v5.29M277.52,608v6.18M277.92,608v3.37M278.33,608v4.59M278.73,608v4.31M279.14,608v7.16M279.54,608v2.99M279.95,608v3.75M280.35,608v1.11M280.76,608v9.83M281.16,608v6.11M281.57,608v3.5M281.97,608v4.01M282.38,608v0.54M282.78,608v6.62M283.19,608v7.53M283.59,608v2.49M284,608v6.99M284.4,608v7.24M284.81,608v0.74M285.21,608v8.5M285.62,608v3.84M286.02,608v5.26M286.83,608v2.22M287.24,608v9.13M288.05,608v4.5M288.45,608v4.62M288.86,608v5.06M289.26,608v2.89M289.67,608v2.12M290.48,608v6.37M290.88,608v3.87M291.29,608v4.69M292.1,608v9.8M292.5,608v0.32M292.91,608v1.59M293.31,608v1.04M293.72,608v8.84M294.12,608v7.36M294.53,608v4.03M294.93,608v0.63M295.34,608v0.66M296.55,608v2.98M297.77,608v0.38M298.98,608v4.1M302.63,608v2.3M303.03,608v3.33M303.44,608v2.26M303.84,608v1.1M305.06,608v2.57M306.68,608v3.18M307.49,608v4.74M309.11,608v1.15M310.32,608v1.05M311.13,608v0.9M312.35,608v3.63M313.97,608v1.06" stroke="#f4a29b" stroke-width="0.47" fill="none"/>
<path d="M227.7,608v-4.82M228.51,608v-5.95M228.92,608v-2.12M230.13,608v-6.84M231.35,608v-4.44M232.56,608v-4.04M232.97,608v-4.37M233.37,608v-3.3M233.78,608v-2.26M234.18,608v-5.26M234.99,608v-0.77M235.4,608v-1.36M236.61,608v-1.93M237.02,608v-2.44M237.42,608v-2.61M238.23,608v-5.55M238.64,608v-2.01M239.04,608v-3.25M239.45,608v-5.4M239.85,608v-0.34M240.66,608v-0.46M241.07,608v-3.57M241.47,608v-1.6M241.88,608v-3.21M242.28,608v-6.74M242.69,608v-5.48M243.09,608v-6.62M243.9,608v-5.7M244.31,608v-4.06M244.71,608v-3.62M245.12,608v-2.79M245.52,608v-2.58M249.98,608v-1.18M254.43,608v-2.67M269.42,608v-2.4M274.68,608v-1.31M275.9,608v-0.57M276.3,608v-0.32M287.64,608v-1.77M291.69,608v-1.95M295.74,608v-4.71M296.15,608v-7.05M296.96,608v-2.84M297.36,608v-4.22M298.17,608v-3.17M298.58,608v-4.5M299.39,608v-2.26M299.79,608v-6.57M300.2,608v-0.59M300.6,608v-4.62M301.01,608v-2.46M301.41,608v-4.36M304.25,608v-3.63M304.65,608v-3.26M305.46,608v-4.41M305.87,608v-5.38M306.27,608v-3.78M307.08,608v-1.18M307.89,608v-3.71M308.3,608v-4.82M308.7,608v-4.56M309.51,608v-5.24M309.92,608v-6.68M310.73,608v-6.16M311.54,608v-0.66M313.16,608v-6.87M313.56,608v-2.36M314.37,608v-3.07M314.78,608v-4.16M315.59,608v-2.17M315.99,608v-4.37M316.4,608v-5" stroke="#e5493f" stroke-width="0.72" fill="none"/>
<path d="M227.7,608H316.4" stroke="#5b4340" stroke-width="0.7"/>
<text x="325" y="609.9" font-size="5" fill="#222" stroke="#222" stroke-width="0.2">0.35</text>
<text x="351" y="610.6" font-size="5" fill="#e8392d" font-weight="bold" letter-spacing="0.7">**</text>
<text x="444.6" y="434.5" font-size="8" fill="#111" text-anchor="middle" font-weight="bold" font-family="'Liberation Serif', 'Times New Roman', serif">OV</text>
<text x="395.6" y="445.2" font-size="5.3" fill="#1a1a1a" text-anchor="end" stroke="#1a1a1a" stroke-width="0.2">geneExp</text>
<path d="M399,443.6H488" stroke="#c8c8c8" stroke-width="0.9"/>
<path d="M399,443.6L399,443.6L399,432.8L400.5,433.8L400.5,433.8L403.22,434.28L405.94,434.76L408.66,435.24L411.38,435.72L414.1,436.2L416.82,436.68L419.54,437.16L422.26,437.64L424.98,438.12L427.7,438.6L428.2,443.6L428.2,443.6Z" fill="#985a50"/>
<path d="M399,432.8 L400.5,433.8 L400.5,433.8 L403.22,434.28 L405.94,434.76 L408.66,435.24 L411.38,435.72 L414.1,436.2 L416.82,436.68 L419.54,437.16 L422.26,437.64 L424.98,438.12 L427.7,438.6 L428.2,443.6" fill="none" stroke="#6e3229" stroke-width="0.5" stroke-opacity="0.7"/>
<text x="486.8" y="461.5" font-size="5.4" fill="#222" stroke="#222" stroke-width="0.2">Correlation</text>
<text x="519.6" y="461.5" font-size="4.9" fill="#e8392d" stroke="#e8392d" stroke-width="0.2">Pvalue</text>
<text x="395.6" y="469.2" font-size="6.1" fill="#4d7fc4" text-anchor="end" stroke="#4d7fc4" stroke-width="0.2">Invasion</text>
<path d="M399.45,467.2v5.93M400.34,467.2v6.63M401.24,467.2v1.01M401.68,467.2v3.72M402.13,467.2v8.96M403.03,467.2v3.31M403.92,467.2v8.56M404.81,467.2v4.64M405.26,467.2v7.42M405.71,467.2v1.56M406.16,467.2v8.89M407.05,467.2v5.61M407.94,467.2v1.48M408.39,467.2v1.69M409.29,467.2v3.25M409.73,467.2v7.39M410.18,467.2v8.77M410.63,467.2v6.94M411.08,467.2v1.33M411.52,467.2v4.62M411.97,467.2v0.66M412.86,467.2v6.04M413.76,467.2v5.6M414.21,467.2v1.51M414.65,467.2v7.05M415.1,467.2v6.93M415.55,467.2v0.86M416.89,467.2v6.21M417.34,467.2v3.97M417.78,467.2v6.93M418.23,467.2v3.04M418.68,467.2v5.47M420.02,467.2v8.73M420.47,467.2v2M420.91,467.2v8.85M421.81,467.2v2.24M424.05,467.2v2.38M424.94,467.2v4.42M425.39,467.2v3.3M425.83,467.2v6.24M426.28,467.2v6.24M426.73,467.2v0.98M427.62,467.2v8.43M428.07,467.2v4.94M429.86,467.2v3.52M430.31,467.2v4.58M430.75,467.2v6.84M431.2,467.2v7.31M432.1,467.2v2.04M432.99,467.2v3.3M433.44,467.2v3.14M434.33,467.2v6.06M434.78,467.2v6.76M435.67,467.2v4.01M436.12,467.2v8.36M436.57,467.2v1.38M437.46,467.2v3.96M438.36,467.2v6.63M438.8,467.2v8.14M439.25,467.2v2.98M439.7,467.2v1.63M440.15,467.2v6.74M440.59,467.2v2.31M441.93,467.2v7.58M442.38,467.2v3.94M442.83,467.2v2.22M443.72,467.2v1.54M445.51,467.2v2.34M445.96,467.2v6.31M450.43,467.2v6.57M450.88,467.2v2.46M451.77,467.2v0.35M452.22,467.2v7.3M453.56,467.2v6.68M454.9,467.2v5.78M455.35,467.2v5.8M455.8,467.2v3.19M456.25,467.2v6.2M457.14,467.2v6.96M457.59,467.2v0.82M459.82,467.2v2.49M463.4,467.2v3.66M464.74,467.2v2.26M465.19,467.2v4.19M465.64,467.2v0.79M466.09,467.2v4.71M466.53,467.2v7.07M466.98,467.2v4.55M467.43,467.2v1.87M467.87,467.2v6.22M468.32,467.2v4.13M468.77,467.2v7.88M469.66,467.2v0.99M470.11,467.2v3.57M470.56,467.2v6.49M471.01,467.2v0.95M472.35,467.2v2.6M473.24,467.2v2.44M474.58,467.2v1.09M475.03,467.2v5.8M475.48,467.2v2.52M475.92,467.2v6.22M476.82,467.2v2.07M477.71,467.2v6.76M480.4,467.2v1.09M481.74,467.2v5.52M482.19,467.2v2.36M483.08,467.2v7.42M483.97,467.2v7.06M485.32,467.2v4.35M486.21,467.2v0.68M486.66,467.2v5.13" stroke="#c4d6ee" stroke-width="0.59" fill="none"/>
<path d="M399,467.2v-0.32M399.89,467.2v-0.32M400.79,467.2v-3.66M403.47,467.2v-1.28M404.37,467.2v-0.74M406.6,467.2v-3.62M407.5,467.2v-4.02M408.84,467.2v-1.31M412.42,467.2v-4.85M413.31,467.2v-1.64M415.99,467.2v-5.28M416.44,467.2v-0.64M419.13,467.2v-0.31M419.57,467.2v-3.56M422.7,467.2v-4.47M423.15,467.2v-2.86M423.6,467.2v-0.64M424.49,467.2v-1.94M427.18,467.2v-3.93M428.52,467.2v-4.39M428.96,467.2v-1.77M429.41,467.2v-1.54M431.65,467.2v-2.87M432.54,467.2v-4.13M433.88,467.2v-0.73M435.23,467.2v-0.89M437.02,467.2v-2.09M441.04,467.2v-4.37M441.49,467.2v-2.5M443.28,467.2v-5.42M444.17,467.2v-6.99M444.62,467.2v-5.72M445.07,467.2v-8.47M446.41,467.2v-1.47M446.85,467.2v-8.98M448.2,467.2v-4.03M448.64,467.2v-0.71M449.09,467.2v-6.77M449.54,467.2v-3.47M449.98,467.2v-5.51M451.33,467.2v-0.39M452.67,467.2v-2.64M453.12,467.2v-8.36M454.01,467.2v-5.98M454.46,467.2v-2.75M456.69,467.2v-0.68M458.04,467.2v-1.32M458.48,467.2v-8.53M458.93,467.2v-1.99M459.38,467.2v-3.1M460.27,467.2v-1.3M460.72,467.2v-7.92M461.17,467.2v-6.24M461.61,467.2v-6.58M462.06,467.2v-6.51M462.51,467.2v-0.33M462.95,467.2v-6.73M463.85,467.2v-5.57M469.22,467.2v-0.31M471.45,467.2v-0.97M471.9,467.2v-0.66M472.79,467.2v-7.82M473.69,467.2v-5.28M474.14,467.2v-0.67M476.37,467.2v-7.82M477.27,467.2v-0.44M478.16,467.2v-0.97M478.61,467.2v-2.86M479.5,467.2v-6.97M479.95,467.2v-2.77M480.84,467.2v-0.31M481.29,467.2v-8.7M482.63,467.2v-7.51M483.53,467.2v-2.85M484.42,467.2v-1.59M484.87,467.2v-4.23M485.76,467.2v-5.57M487.11,467.2v-2.25M487.55,467.2v-3.35M488,467.2v-1.35" stroke="#9cbbe0" stroke-width="0.9" fill="none"/>
<path d="M399,467.2H488" stroke="#2c4a70" stroke-width="0.8"/>
<text x="497" y="469.1" font-size="5" fill="#222" stroke="#222" stroke-width="0.2">-0.40</text>
<text x="525.8" y="469.8" font-size="5" fill="#e8392d" font-weight="bold" letter-spacing="0.7">***</text>
<text x="447.5" y="488.5" font-size="8" fill="#111" text-anchor="middle" font-weight="bold" font-family="'Liberation Serif', 'Times New Roman', serif">RB</text>
<text x="399" y="505.2" font-size="5.3" fill="#1a1a1a" text-anchor="end" stroke="#1a1a1a" stroke-width="0.2">geneExp</text>
<path d="M402.6,503.6H491.4" stroke="#c8c8c8" stroke-width="0.9"/>
<path d="M402.6,503.6L402.6,503.6L402.6,493.6L404,496.5L406,497.3L406,497.3L410.08,497.75L414.16,498.2L418.24,498.65L422.32,499.1L426.4,499.55L430.48,500L434.56,500.45L438.64,500.9L442.72,501.35L446.8,501.8L447.2,503.6L447.2,503.6Z" fill="#bd8a83"/>
<path d="M402.6,493.6 L404,496.5 L406,497.3 L406,497.3 L410.08,497.75 L414.16,498.2 L418.24,498.65 L422.32,499.1 L426.4,499.55 L430.48,500 L434.56,500.45 L438.64,500.9 L442.72,501.35 L446.8,501.8 L447.2,503.6" fill="none" stroke="#6e3229" stroke-width="0.5" stroke-opacity="0.7"/>
<text x="490.6" y="521.9" font-size="5.4" fill="#222" stroke="#222" stroke-width="0.2">Correlation</text>
<text x="523.4" y="521.9" font-size="4.9" fill="#e8392d" stroke="#e8392d" stroke-width="0.2">Pvalue</text>
<text x="399" y="529.1" font-size="5.9" fill="#e8392d" text-anchor="end" stroke="#e8392d" stroke-width="0.2">Angiogenesis</text>
<path d="M417.91,527.1v0.8M429.6,527.1v0.58M441.85,527.1v0.67M464.95,527.1v0.41M470.24,527.1v0.44M479.43,527.1v0.58" stroke="#f6b8ae" stroke-width="0.65" fill="none"/>
<path d="M402.6,527.1v-4.02M402.88,527.1v-8.35M403.16,527.1v-6.76M403.44,527.1v-4.83M403.71,527.1v-6.01M403.99,527.1v-6.57M404.27,527.1v-5.16M404.55,527.1v-3.65M404.83,527.1v-3.72M405.11,527.1v-6.3M405.38,527.1v-7.42M405.66,527.1v-8.01M405.94,527.1v-3.95M406.22,527.1v-7.05M406.5,527.1v-6.63M406.78,527.1v-8.35M407.05,527.1v-8.85M407.33,527.1v-4.47M407.61,527.1v-6.21M407.89,527.1v-8.16M408.17,527.1v-4.38M408.45,527.1v-6.61M408.72,527.1v-6.58M409,527.1v-4.9M409.28,527.1v-3.58M409.56,527.1v-7.02M409.84,527.1v-7.14M410.12,527.1v-8.11M410.39,527.1v-4.49M410.67,527.1v-3.32M410.95,527.1v-7.98M411.23,527.1v-7.18M411.51,527.1v-6.56M411.79,527.1v-8.17M412.06,527.1v-7.17M412.34,527.1v-5.03M412.62,527.1v-8.71M412.9,527.1v-5.15M413.18,527.1v-6.69M413.46,527.1v-5.22M413.73,527.1v-4.25M414.01,527.1v-6.73M414.29,527.1v-8.23M414.57,527.1v-8.43M414.85,527.1v-8.14M415.13,527.1v-7.05M415.41,527.1v-3.71M415.68,527.1v-3.78M415.96,527.1v-3.32M416.24,527.1v-5.95M416.52,527.1v-4.53M416.8,527.1v-6.67M417.08,527.1v-8.98M417.35,527.1v-6.92M417.63,527.1v-5.51M418.19,527.1v-3.21M418.47,527.1v-8.56M418.75,527.1v-5.61M419.02,527.1v-3.77M419.3,527.1v-7.41M419.58,527.1v-5.59M419.86,527.1v-4.66M420.14,527.1v-8.41M420.42,527.1v-4.41M420.69,527.1v-7.91M420.97,527.1v-7.74M421.25,527.1v-4.27M421.53,527.1v-4.39M421.81,527.1v-6.77M422.09,527.1v-5.53M422.36,527.1v-4.03M422.64,527.1v-5.37M422.92,527.1v-5.5M423.2,527.1v-7.71M423.48,527.1v-7.71M423.76,527.1v-6.89M424.03,527.1v-7.24M424.31,527.1v-7.55M424.59,527.1v-4.74M424.87,527.1v-8.01M425.15,527.1v-8.05M425.43,527.1v-3.64M425.7,527.1v-5.72M425.98,527.1v-7.7M426.26,527.1v-3.2M426.54,527.1v-7.02M426.82,527.1v-3.81M427.1,527.1v-6.07M427.37,527.1v-5.46M427.65,527.1v-6.97M427.93,527.1v-3.78M428.21,527.1v-7.2M428.49,527.1v-7.91M428.77,527.1v-6.92M429.05,527.1v-4.86M429.32,527.1v-7.78M429.88,527.1v-4.77M430.16,527.1v-3.39M430.44,527.1v-4.65M430.72,527.1v-3.75M430.99,527.1v-3.4M431.27,527.1v-4.46M431.55,527.1v-4.44M431.83,527.1v-3.85M432.11,527.1v-8.8M432.39,527.1v-6.77M432.66,527.1v-8.36M432.94,527.1v-4.24M433.22,527.1v-7.38M433.5,527.1v-3.73M433.78,527.1v-5.36M434.06,527.1v-8.15M434.33,527.1v-4.13M434.61,527.1v-5.73M434.89,527.1v-6.78M435.17,527.1v-4.09M435.45,527.1v-7.2M435.73,527.1v-3.84M436,527.1v-4.28M436.28,527.1v-7.91M436.56,527.1v-3.41M436.84,527.1v-8.96M437.12,527.1v-4.96M437.4,527.1v-7.19M437.67,527.1v-6.48M437.95,527.1v-8.47M438.23,527.1v-3.86M438.51,527.1v-2.94M438.79,527.1v-1.75M439.07,527.1v-2.14M439.34,527.1v-2.27M439.62,527.1v-2.67M439.9,527.1v-3.57M440.18,527.1v-3.99M440.46,527.1v-2.87M440.74,527.1v-1.52M441.02,527.1v-3.7M441.29,527.1v-3.04M441.57,527.1v-3.91M442.13,527.1v-3.87M442.41,527.1v-2.36M442.69,527.1v-1.9M442.96,527.1v-2.83M443.24,527.1v-1.53M443.52,527.1v-3.72M443.8,527.1v-2.59M444.08,527.1v-2.41M444.36,527.1v-3.9M444.63,527.1v-3.71M444.91,527.1v-2.52M445.19,527.1v-1.94M445.47,527.1v-4M445.75,527.1v-1.9M446.03,527.1v-1.53M446.3,527.1v-1.66M446.58,527.1v-1.52M446.86,527.1v-1.89M447.14,527.1v-7.53M447.42,527.1v-3.75M447.97,527.1v-3.16M448.25,527.1v-3.38M448.53,527.1v-8.5M448.81,527.1v-6.48M449.09,527.1v-8.9M449.37,527.1v-8.62M449.64,527.1v-4.37M449.92,527.1v-7.15M450.2,527.1v-5.27M450.48,527.1v-4.12M450.76,527.1v-3.38M451.04,527.1v-5.02M451.31,527.1v-5.4M451.59,527.1v-4.85M451.87,527.1v-3.64M452.15,527.1v-5.2M452.43,527.1v-5.37M452.71,527.1v-8.59M452.98,527.1v-8.4M453.26,527.1v-4.62M453.54,527.1v-4.32M453.82,527.1v-4.06M454.1,527.1v-8.55M454.38,527.1v-8.25M454.66,527.1v-7.17M454.93,527.1v-6.11M455.21,527.1v-6.12M455.49,527.1v-4.01M455.77,527.1v-5.1M456.05,527.1v-3.56M456.33,527.1v-3.18M456.6,527.1v-4.1M456.88,527.1v-7.79M457.16,527.1v-4.92M457.44,527.1v-8.2M457.72,527.1v-4.91M458,527.1v-7.79M458.27,527.1v-8.23M458.55,527.1v-6.7M458.83,527.1v-3.22M459.11,527.1v-7.78M459.39,527.1v-3.29M459.67,527.1v-5.78M459.94,527.1v-5.05M460.22,527.1v-6.63M460.5,527.1v-5.2M460.78,527.1v-4.06M461.06,527.1v-7.25M461.34,527.1v-3.64M461.61,527.1v-6.62M461.89,527.1v-6.57M462.17,527.1v-3.22M462.45,527.1v-5.3M462.73,527.1v-4.12M463.01,527.1v-4M463.28,527.1v-5.97M463.56,527.1v-5.12M463.84,527.1v-7.6M464.12,527.1v-5.27M464.4,527.1v-6.91M464.68,527.1v-6.41M465.23,527.1v-5.74M465.51,527.1v-6.34M465.79,527.1v-6.62M466.07,527.1v-6.73M466.35,527.1v-6.91M466.63,527.1v-8.89M466.9,527.1v-3.68M467.18,527.1v-3.77M467.74,527.1v-4.94M468.02,527.1v-8.64M468.3,527.1v-4.16M468.57,527.1v-4.64M468.85,527.1v-3.54M469.13,527.1v-5.19M469.41,527.1v-5.19M469.69,527.1v-3.23M469.97,527.1v-6.14M470.52,527.1v-4.17M470.8,527.1v-8.37M471.08,527.1v-4.19M471.36,527.1v-6.76M471.64,527.1v-5.23M471.91,527.1v-8.44M472.19,527.1v-3.81M472.47,527.1v-6.45M472.75,527.1v-5.56M473.03,527.1v-3.33M473.31,527.1v-4.21M473.58,527.1v-3.94M473.86,527.1v-6.44M474.14,527.1v-5.66M474.42,527.1v-3.21M474.7,527.1v-7.19M474.98,527.1v-4.55M475.25,527.1v-7.57M475.53,527.1v-7.35M475.81,527.1v-8.63M476.09,527.1v-3.48M476.37,527.1v-6.68M476.65,527.1v-7.22M476.92,527.1v-7.93M477.2,527.1v-6.24M477.48,527.1v-3.16M477.76,527.1v-3.17M478.04,527.1v-8.92M478.32,527.1v-6.75M478.59,527.1v-4.5M478.87,527.1v-8.15M479.15,527.1v-4.56M479.71,527.1v-7.58M479.99,527.1v-8.09M480.27,527.1v-7.5M480.54,527.1v-7.22M480.82,527.1v-7.69M481.1,527.1v-8.9M481.38,527.1v-8.32M481.66,527.1v-7.39M481.94,527.1v-4.33M482.21,527.1v-7.68M482.49,527.1v-8.43M482.77,527.1v-7.44M483.05,527.1v-6.89M483.33,527.1v-5.02M483.61,527.1v-5.91M483.88,527.1v-5.87M484.16,527.1v-5.82M484.44,527.1v-6.45M484.72,527.1v-3.57M485,527.1v-8.64M485.28,527.1v-6.33M485.55,527.1v-3.92M485.83,527.1v-5.37M486.11,527.1v-6.01M486.39,527.1v-4.27M486.67,527.1v-4.09M486.95,527.1v-5.49M487.22,527.1v-3.62M487.5,527.1v-3.46M487.78,527.1v-6.02M488.06,527.1v-6.07M488.34,527.1v-4.92M488.62,527.1v-8.45M488.89,527.1v-7.76M489.17,527.1v-8.72M489.45,527.1v-3.15M489.73,527.1v-3.24M490.01,527.1v-3.92M490.29,527.1v-6.06M490.56,527.1v-4.25M490.84,527.1v-3.79M491.12,527.1v-5.33M491.4,527.1v-4.88" stroke="#f08474" stroke-width="1" fill="none"/>
<path d="M402.6,527.1H491.4" stroke="#b0463a" stroke-width="0.7"/>
<text x="500" y="529" font-size="5" fill="#222" stroke="#222" stroke-width="0.2">0.59</text>
<text x="527.5" y="529.7" font-size="5" fill="#e8392d" font-weight="bold" letter-spacing="0.7">***</text>
<text x="399" y="552.2" font-size="5.3" fill="#1a1a1a" text-anchor="end" stroke="#1a1a1a" stroke-width="0.2">Differentiation</text>
<path d="M410.95,550.4v0.55M414.57,550.4v0.43M415.96,550.4v0.45M416.24,550.4v0.76M423.48,550.4v0.56M430.16,550.4v0.74M437.95,550.4v0.9M451.31,550.4v0.45M490.29,550.4v0.44" stroke="#f6b8ae" stroke-width="0.65" fill="none"/>
<path d="M402.6,550.4v-3.06M402.88,550.4v-3.81M403.16,550.4v-6.37M403.44,550.4v-3.24M403.71,550.4v-3.07M403.99,550.4v-5.31M404.27,550.4v-3.69M404.55,550.4v-5.55M404.83,550.4v-5.82M405.11,550.4v-3.02M405.38,550.4v-6.51M405.66,550.4v-3.51M405.94,550.4v-4.37M406.22,550.4v-3.28M406.5,550.4v-5.91M406.78,550.4v-6.72M407.05,550.4v-8.41M407.33,550.4v-5.59M407.61,550.4v-6M407.89,550.4v-5.75M408.17,550.4v-3.11M408.45,550.4v-4.13M408.72,550.4v-3.85M409,550.4v-4.07M409.28,550.4v-4.52M409.56,550.4v-3.74M409.84,550.4v-8.14M410.12,550.4v-5.94M410.39,550.4v-6.72M410.67,550.4v-4.6M411.23,550.4v-6.43M411.51,550.4v-7.03M411.79,550.4v-3.07M412.06,550.4v-4.02M412.34,550.4v-8.19M412.62,550.4v-4.25M412.9,550.4v-4.68M413.18,550.4v-5.04M413.46,550.4v-3.92M413.73,550.4v-3.99M414.01,550.4v-7.87M414.29,550.4v-3.79M414.85,550.4v-3.12M415.13,550.4v-6.06M415.41,550.4v-4.83M415.68,550.4v-4.61M416.52,550.4v-6.66M416.8,550.4v-5.5M417.08,550.4v-6.15M417.35,550.4v-4.9M417.63,550.4v-8.27M417.91,550.4v-4M418.19,550.4v-3.61M418.47,550.4v-7.68M418.75,550.4v-6.13M419.02,550.4v-3.5M419.3,550.4v-5.52M419.58,550.4v-5.46M419.86,550.4v-4.3M420.14,550.4v-8.09M420.42,550.4v-7.41M420.69,550.4v-3.15M420.97,550.4v-8.22M421.25,550.4v-5.2M421.53,550.4v-6.93M421.81,550.4v-3.4M422.09,550.4v-5.58M422.36,550.4v-7.69M422.64,550.4v-3.75M422.92,550.4v-6.72M423.2,550.4v-4.24M423.76,550.4v-5.38M424.03,550.4v-3.81M424.31,550.4v-5.81M424.59,550.4v-3.79M424.87,550.4v-6.08M425.15,550.4v-7.92M425.43,550.4v-3.19M425.7,550.4v-6.32M425.98,550.4v-3.41M426.26,550.4v-5.71M426.54,550.4v-7.09M426.82,550.4v-3.66M427.1,550.4v-4.88M427.37,550.4v-5.09M427.65,550.4v-6.35M428.21,550.4v-4.38M428.49,550.4v-3.93M428.77,550.4v-4.98M429.05,550.4v-4.07M429.32,550.4v-8.05M429.6,550.4v-7.61M429.88,550.4v-3.13M430.44,550.4v-8.07M430.72,550.4v-3.55M430.99,550.4v-3.76M431.27,550.4v-3.15M431.55,550.4v-8.49M431.83,550.4v-7.08M432.11,550.4v-4.84M432.39,550.4v-8.57M432.66,550.4v-6.65M432.94,550.4v-4.16M433.22,550.4v-5.76M433.5,550.4v-6.84M433.78,550.4v-5.79M434.06,550.4v-7.55M434.33,550.4v-8.32M434.61,550.4v-3.64M434.89,550.4v-6.36M435.17,550.4v-3.36M435.45,550.4v-3.91M435.73,550.4v-6.01M436,550.4v-5.79M436.28,550.4v-8.13M436.56,550.4v-6.63M436.84,550.4v-4.69M437.12,550.4v-4.18M437.4,550.4v-6.87M437.67,550.4v-5.04M438.23,550.4v-1.69M438.51,550.4v-3.65M438.79,550.4v-3.48M439.07,550.4v-1.58M439.34,550.4v-2.95M439.62,550.4v-3.83M439.9,550.4v-1.36M440.18,550.4v-1.88M440.46,550.4v-3.67M440.74,550.4v-1.51M441.02,550.4v-2.52M441.29,550.4v-2.66M441.57,550.4v-1.67M441.85,550.4v-1.8M442.13,550.4v-3.56M442.41,550.4v-1.47M442.69,550.4v-1.83M442.96,550.4v-3.15M443.24,550.4v-1.8M443.52,550.4v-2.52M443.8,550.4v-1.36M444.08,550.4v-3.49M444.36,550.4v-2.5M444.63,550.4v-2.6M444.91,550.4v-1.53M445.19,550.4v-3.54M445.47,550.4v-3.42M445.75,550.4v-1.69M446.03,550.4v-1.49M446.3,550.4v-3.5M446.58,550.4v-2.71M446.86,550.4v-3.64M447.14,550.4v-8.43M447.42,550.4v-7.75M447.7,550.4v-6.77M447.97,550.4v-8.1M448.25,550.4v-7.63M448.53,550.4v-4.01M448.81,550.4v-3.32M449.09,550.4v-7.59M449.37,550.4v-7.31M449.64,550.4v-4.2M449.92,550.4v-3.83M450.2,550.4v-3.67M450.48,550.4v-7.63M450.76,550.4v-4.07M451.04,550.4v-4.71M451.59,550.4v-3.35M452.15,550.4v-4.01M452.43,550.4v-4.9M452.71,550.4v-4.25M452.98,550.4v-5.35M453.26,550.4v-5.74M453.54,550.4v-6.58M453.82,550.4v-8.07M454.1,550.4v-6.65M454.38,550.4v-6.34M454.66,550.4v-3.19M454.93,550.4v-4.33M455.21,550.4v-7.52M455.49,550.4v-4.18M455.77,550.4v-4.76M456.05,550.4v-4.16M456.33,550.4v-4.82M456.6,550.4v-6.38M456.88,550.4v-5.98M457.16,550.4v-5.57M457.44,550.4v-4.11M457.72,550.4v-5.76M458,550.4v-5.08M458.27,550.4v-3.76M458.55,550.4v-7.89M458.83,550.4v-3.57M459.11,550.4v-5.37M459.39,550.4v-4.36M459.67,550.4v-6.86M459.94,550.4v-3.81M460.22,550.4v-3.05M460.5,550.4v-5.13M460.78,550.4v-3.2M461.06,550.4v-6.07M461.34,550.4v-6.5M461.61,550.4v-3.9M461.89,550.4v-3.02M462.17,550.4v-6.99M462.45,550.4v-4.85M462.73,550.4v-8.3M463.01,550.4v-3.12M463.28,550.4v-7.52M463.56,550.4v-7.2M463.84,550.4v-8.51M464.12,550.4v-8.24M464.4,550.4v-5.97M464.68,550.4v-5.31M464.95,550.4v-5.57M465.23,550.4v-6.81M465.51,550.4v-3.98M465.79,550.4v-6.12M466.07,550.4v-5.41M466.35,550.4v-4.05M466.63,550.4v-4.11M466.9,550.4v-4.28M467.18,550.4v-3.44M467.46,550.4v-6.49M467.74,550.4v-3.17M468.02,550.4v-5.53M468.3,550.4v-3.73M468.57,550.4v-7.92M468.85,550.4v-6.5M469.13,550.4v-6.96M469.41,550.4v-3.02M469.69,550.4v-6.88M469.97,550.4v-8.26M470.24,550.4v-6.84M470.52,550.4v-5.91M470.8,550.4v-3.79M471.08,550.4v-3.07M471.36,550.4v-6.39M471.64,550.4v-3.55M471.91,550.4v-3.39M472.19,550.4v-3.06M472.47,550.4v-5.67M472.75,550.4v-6.16M473.03,550.4v-5.06M473.31,550.4v-4.59M473.58,550.4v-4.32M473.86,550.4v-4.59M474.14,550.4v-7.41M474.42,550.4v-3.23M474.7,550.4v-5.52M475.25,550.4v-7.07M475.53,550.4v-6.88M475.81,550.4v-3.7M476.09,550.4v-3.49M476.37,550.4v-6.33M476.65,550.4v-3.78M476.92,550.4v-6.97M477.2,550.4v-5.93M477.48,550.4v-3.34M477.76,550.4v-8.34M478.04,550.4v-3.06M478.32,550.4v-6.38M478.59,550.4v-4.69M478.87,550.4v-3.21M479.15,550.4v-6.06M479.43,550.4v-7.01M479.71,550.4v-5.89M479.99,550.4v-8.48M480.27,550.4v-4.42M480.54,550.4v-4.55M480.82,550.4v-4.39M481.1,550.4v-7.34M481.38,550.4v-8.32M481.66,550.4v-7.39M481.94,550.4v-4.91M482.21,550.4v-8.35M482.49,550.4v-7.25M482.77,550.4v-5.18M483.05,550.4v-6.73M483.33,550.4v-7.55M483.61,550.4v-3.24M483.88,550.4v-3.9M484.16,550.4v-5.95M484.44,550.4v-3.07M484.72,550.4v-3.62M485,550.4v-7.18M485.28,550.4v-7.75M485.55,550.4v-4.06M485.83,550.4v-8.23M486.11,550.4v-6.66M486.39,550.4v-6.91M486.67,550.4v-6.18M486.95,550.4v-7.14M487.22,550.4v-3.8M487.5,550.4v-4.21M487.78,550.4v-5.12M488.06,550.4v-4.85M488.34,550.4v-4.34M488.62,550.4v-4.03M488.89,550.4v-3.37M489.17,550.4v-3.36M489.45,550.4v-6.94M489.73,550.4v-3.77M490.01,550.4v-6.69M490.56,550.4v-3.29M490.84,550.4v-3.83M491.12,550.4v-3.03M491.4,550.4v-4.05" stroke="#f08474" stroke-width="1" fill="none"/>
<path d="M402.6,550.4H491.4" stroke="#b0463a" stroke-width="0.7"/>
<text x="500" y="552.3" font-size="5" fill="#222" stroke="#222" stroke-width="0.2">0.52</text>
<text x="527.5" y="553" font-size="5" fill="#e8392d" font-weight="bold" letter-spacing="0.7">***</text>
<text x="399" y="575.8" font-size="5.3" fill="#1a1a1a" text-anchor="end" stroke="#1a1a1a" stroke-width="0.2">Inflammation</text>
<path d="M427.65,574v0.52M458,574v0.78M461.34,574v0.3M463.56,574v0.5M479.43,574v0.75" stroke="#f6b8ae" stroke-width="0.65" fill="none"/>
<path d="M402.6,574v-7.18M402.88,574v-5.59M403.16,574v-7.89M403.44,574v-5.82M403.71,574v-5.4M403.99,574v-8.34M404.27,574v-7.61M404.55,574v-3.97M404.83,574v-8.1M405.11,574v-3.62M405.38,574v-5.81M405.66,574v-6.48M405.94,574v-6.33M406.22,574v-3.45M406.5,574v-9.04M406.78,574v-4.59M407.05,574v-5.98M407.33,574v-8.37M407.61,574v-8.97M407.89,574v-3.61M408.17,574v-7.85M408.45,574v-4.79M408.72,574v-7.22M409,574v-8.31M409.28,574v-3.45M409.56,574v-5.01M409.84,574v-6.53M410.12,574v-6.18M410.39,574v-5.8M410.67,574v-9.14M410.95,574v-3.42M411.23,574v-6.52M411.51,574v-3.75M411.79,574v-6.96M412.06,574v-8M412.34,574v-6.06M412.62,574v-3.41M412.9,574v-8.74M413.46,574v-9.41M413.73,574v-8.59M414.01,574v-7.33M414.29,574v-9M414.57,574v-8.28M414.85,574v-5.11M415.13,574v-3.61M415.41,574v-9M415.68,574v-7.1M415.96,574v-4.4M416.24,574v-8.81M416.52,574v-4.88M416.8,574v-3.98M417.08,574v-7.25M417.35,574v-6.99M417.63,574v-4.2M417.91,574v-4.17M418.19,574v-9.42M418.47,574v-5.56M418.75,574v-3.38M419.02,574v-6.6M419.3,574v-8.82M419.58,574v-9.11M419.86,574v-4.42M420.14,574v-7.68M420.42,574v-3.33M420.69,574v-3.74M420.97,574v-4.09M421.25,574v-3.35M421.53,574v-4.78M421.81,574v-3.78M422.09,574v-7.16M422.36,574v-3.43M422.64,574v-7.2M422.92,574v-6.83M423.2,574v-7.23M423.48,574v-4.2M423.76,574v-5.67M424.03,574v-4.54M424.31,574v-4.61M424.59,574v-5.47M424.87,574v-7.59M425.15,574v-8.29M425.43,574v-7.38M425.7,574v-6.33M425.98,574v-8.95M426.26,574v-8.09M426.54,574v-3.38M426.82,574v-8.57M427.1,574v-8.74M427.37,574v-4.25M427.93,574v-5.94M428.21,574v-5.74M428.49,574v-4.6M428.77,574v-5.47M429.05,574v-3.8M429.32,574v-4.95M429.6,574v-7.82M429.88,574v-5.5M430.16,574v-7.92M430.44,574v-5.59M430.72,574v-9.46M430.99,574v-6.46M431.27,574v-3.45M431.55,574v-8.6M431.83,574v-4.15M432.11,574v-9.01M432.39,574v-7.33M432.66,574v-4.4M432.94,574v-8.82M433.22,574v-4.37M433.5,574v-8.26M433.78,574v-3.78M434.06,574v-4.66M434.33,574v-4.37M434.61,574v-7.16M434.89,574v-5.06M435.17,574v-5.57M435.45,574v-6.84M435.73,574v-7.03M436,574v-8.08M436.28,574v-6.97M436.56,574v-7.2M436.84,574v-6.12M437.12,574v-9.11M437.4,574v-3.57M437.67,574v-3.43M437.95,574v-8.21M438.23,574v-3.02M438.51,574v-3.76M438.79,574v-1.57M439.07,574v-1.61M439.34,574v-4.02M439.62,574v-1.94M439.9,574v-1.54M440.18,574v-2.09M440.46,574v-3.83M440.74,574v-3.6M441.02,574v-1.89M441.29,574v-2.95M441.57,574v-3.01M441.85,574v-3.57M442.13,574v-3.01M442.41,574v-3.13M442.69,574v-2.9M442.96,574v-2.44M443.24,574v-2.58M443.52,574v-3.62M443.8,574v-1.53M444.08,574v-3.47M444.36,574v-2.46M444.63,574v-1.68M444.91,574v-1.96M445.19,574v-2.63M445.47,574v-1.91M445.75,574v-1.5M446.03,574v-1.64M446.3,574v-1.5M446.58,574v-1.59M446.86,574v-2.43M447.14,574v-4.1M447.42,574v-6.22M447.7,574v-8.02M448.25,574v-4.73M448.53,574v-5.36M448.81,574v-7.38M449.09,574v-6.59M449.37,574v-5.37M449.64,574v-9.06M449.92,574v-4.94M450.2,574v-3.74M450.48,574v-4.63M450.76,574v-4.69M451.04,574v-7.9M451.31,574v-3.73M451.59,574v-6.3M451.87,574v-3.67M452.15,574v-9.19M452.43,574v-5.48M452.71,574v-3.96M452.98,574v-7.36M453.26,574v-6.68M453.54,574v-4.7M453.82,574v-7.92M454.1,574v-5.91M454.38,574v-6.18M454.66,574v-4.38M454.93,574v-7.92M455.21,574v-5.22M455.49,574v-3.36M455.77,574v-3.94M456.05,574v-4.9M456.33,574v-4.73M456.6,574v-5.92M456.88,574v-6.36M457.16,574v-6.73M457.44,574v-4.63M457.72,574v-3.34M458.27,574v-7.29M458.55,574v-9.42M458.83,574v-7.54M459.11,574v-6.88M459.39,574v-7.94M459.67,574v-3.95M459.94,574v-5.84M460.22,574v-3.93M460.5,574v-6.13M460.78,574v-3.78M461.06,574v-4.96M461.61,574v-4.96M461.89,574v-8.92M462.17,574v-7.62M462.45,574v-5.74M462.73,574v-4.46M463.01,574v-6.68M463.28,574v-7.2M463.84,574v-9.12M464.4,574v-7.19M464.68,574v-8.09M464.95,574v-8.68M465.23,574v-7.4M465.51,574v-5.48M465.79,574v-5.09M466.07,574v-5.99M466.35,574v-5.38M466.63,574v-5.06M466.9,574v-6.71M467.18,574v-5.75M467.46,574v-4.72M467.74,574v-5.72M468.02,574v-5.06M468.3,574v-9.42M468.57,574v-3.34M468.85,574v-3.41M469.13,574v-8.81M469.41,574v-5.67M469.69,574v-4.28M469.97,574v-3.48M470.24,574v-7.67M470.52,574v-4.89M471.08,574v-8M471.36,574v-7.83M471.64,574v-8.73M471.91,574v-6.67M472.19,574v-7.03M472.47,574v-4.92M472.75,574v-9.06M473.03,574v-4.68M473.31,574v-4.92M473.58,574v-6.29M473.86,574v-8.26M474.14,574v-3.44M474.42,574v-4.58M474.7,574v-7.96M474.98,574v-7.5M475.25,574v-5.91M475.53,574v-4.91M475.81,574v-3.38M476.09,574v-3.36M476.37,574v-4.76M476.65,574v-3.97M476.92,574v-3.71M477.2,574v-8.21M477.48,574v-8.6M477.76,574v-6.23M478.04,574v-5.48M478.32,574v-8.7M478.59,574v-8.51M478.87,574v-6.17M479.15,574v-4.96M479.71,574v-4.83M479.99,574v-9.02M480.27,574v-3.76M480.54,574v-5.59M480.82,574v-6.52M481.1,574v-6.27M481.38,574v-6.17M481.66,574v-6.29M481.94,574v-7.1M482.21,574v-5.06M482.49,574v-5.55M482.77,574v-3.85M483.05,574v-5.99M483.33,574v-4.31M483.61,574v-3.59M483.88,574v-8.15M484.16,574v-7.01M484.44,574v-5.94M484.72,574v-3.4M485,574v-3.74M485.28,574v-7.21M485.55,574v-7.14M485.83,574v-6.38M486.11,574v-4.5M486.39,574v-7.91M486.67,574v-3.39M486.95,574v-4.84M487.22,574v-9.28M487.5,574v-4.42M487.78,574v-4.5M488.06,574v-3.37M488.34,574v-9.49M488.62,574v-5.18M488.89,574v-7.24M489.17,574v-8.42M489.45,574v-4.41M489.73,574v-6.55M490.01,574v-5.29M490.29,574v-8.15M490.56,574v-8.2M490.84,574v-7.54M491.12,574v-7.84M491.4,574v-7.98" stroke="#f08474" stroke-width="1" fill="none"/>
<path d="M402.6,574H491.4" stroke="#b0463a" stroke-width="0.7"/>
<text x="500" y="575.9" font-size="5" fill="#222" stroke="#222" stroke-width="0.2">0.45</text>
<text x="527.5" y="576.6" font-size="5" fill="#e8392d" font-weight="bold" letter-spacing="0.7">***</text>
<text x="399" y="600" font-size="5.3" fill="#1a1a1a" text-anchor="end" stroke="#1a1a1a" stroke-width="0.2">DNArepair</text>
<path d="M402.6,598.2v4.59M402.9,598.2v1.34M403.79,598.2v4.33M404.08,598.2v6.02M404.38,598.2v3.33M404.68,598.2v2.62M405.27,598.2v0.81M405.87,598.2v0.78M406.16,598.2v8.7M406.76,598.2v8.18M407.05,598.2v2.03M407.35,598.2v0.33M407.65,598.2v7.2M408.24,598.2v6.43M408.54,598.2v2.65M408.84,598.2v5.42M409.13,598.2v4.57M409.43,598.2v3.79M409.73,598.2v5.92M410.02,598.2v7.23M410.62,598.2v1.73M411.21,598.2v4.6M411.51,598.2v2.9M411.81,598.2v0.81M412.1,598.2v7.41M412.4,598.2v0.4M412.7,598.2v0.32M412.99,598.2v0.89M413.29,598.2v5.53M413.59,598.2v5.32M413.89,598.2v5.56M414.48,598.2v5.97M414.78,598.2v1.47M415.07,598.2v7.34M415.37,598.2v8.61M415.67,598.2v0.44M415.96,598.2v7.67M416.26,598.2v4.63M416.56,598.2v2.25M416.86,598.2v3.31M417.15,598.2v8.44M417.75,598.2v5.67M418.34,598.2v8.13M418.93,598.2v2.21M419.23,598.2v7.29M419.53,598.2v6.09M419.83,598.2v0.51M420.12,598.2v3.4M420.42,598.2v8.45M420.72,598.2v1.8M421.01,598.2v4.45M421.31,598.2v2.62M421.61,598.2v8.11M422.2,598.2v5.92M422.5,598.2v3.12M422.8,598.2v6.49M423.09,598.2v3.73M423.39,598.2v6M423.98,598.2v4.53M424.28,598.2v0.95M424.87,598.2v3.21M425.17,598.2v5.49M425.47,598.2v0.94M425.77,598.2v5.43M426.06,598.2v5.97M426.36,598.2v5.07M426.66,598.2v5.63M427.25,598.2v0.85M427.84,598.2v7.6M428.14,598.2v1.18M428.44,598.2v8.43M428.74,598.2v7.3M429.03,598.2v2.17M429.33,598.2v2.07M429.63,598.2v7.01M429.92,598.2v1.3M430.22,598.2v3.74M430.52,598.2v3.94M430.81,598.2v5.97M431.11,598.2v1.67M431.71,598.2v0.88M433.49,598.2v1.45M434.38,598.2v2.3M434.97,598.2v1.1M435.57,598.2v0.93M435.86,598.2v2.65M436.46,598.2v0.51M436.75,598.2v1.6M437.94,598.2v1.16M438.83,598.2v2.94M439.72,598.2v1.8M440.61,598.2v0.33M440.91,598.2v2.72M441.21,598.2v1.97M442.1,598.2v2.33M442.4,598.2v3.53M442.69,598.2v0.33M442.99,598.2v3.28M443.88,598.2v1.81M445.07,598.2v1.31M446.85,598.2v2.01M447.45,598.2v6.21M447.74,598.2v8.63M448.04,598.2v6.38M448.34,598.2v5.12M448.63,598.2v3.79M448.93,598.2v8.88M449.23,598.2v1.86M449.52,598.2v5.83M449.82,598.2v2.17M450.42,598.2v4.75M450.71,598.2v1.88M451.01,598.2v6.14M451.31,598.2v4.06M451.6,598.2v4.84M451.9,598.2v8.1M452.2,598.2v8.24M452.49,598.2v3.29M452.79,598.2v3.04M453.98,598.2v5.46M454.28,598.2v8.15M454.57,598.2v8.55M455.17,598.2v5.57M455.46,598.2v6.89M456.06,598.2v5.52M456.36,598.2v1.41M456.65,598.2v3.83M456.95,598.2v8.52M457.54,598.2v3.58M457.84,598.2v3.58M458.43,598.2v6.6M458.73,598.2v5.45M459.03,598.2v6.8M459.33,598.2v1.46M459.62,598.2v3.01M460.22,598.2v4.36M460.51,598.2v3.19M460.81,598.2v1.86M461.11,598.2v2.26M461.4,598.2v8.61M462,598.2v3.77M462.29,598.2v8.29M462.59,598.2v4.33M462.89,598.2v1.09M464.08,598.2v0.38M464.37,598.2v4.29M464.97,598.2v7.83M465.56,598.2v7.27M465.86,598.2v8.65M466.16,598.2v3.04M466.45,598.2v7.16M466.75,598.2v0.57M467.34,598.2v5.97M467.64,598.2v5.91M467.94,598.2v7.37M468.23,598.2v6.58M468.53,598.2v5.03M468.83,598.2v2.72M469.72,598.2v5.68M470.02,598.2v5.03M470.31,598.2v8.85M470.61,598.2v6.54M470.91,598.2v7.47M471.2,598.2v1.78M471.5,598.2v4.76M471.8,598.2v6.51M472.1,598.2v0.49M472.39,598.2v5.76M472.99,598.2v5.63M473.28,598.2v6.03M473.58,598.2v5.59M473.88,598.2v1.82M474.17,598.2v5.95M474.47,598.2v0.48M474.77,598.2v7.39M475.07,598.2v8.29M475.36,598.2v7.14M475.66,598.2v0.74M475.96,598.2v3.43M476.55,598.2v1.94M477.44,598.2v6.56M477.74,598.2v1.85M478.04,598.2v5.32M478.33,598.2v6.45M478.63,598.2v3.42M478.93,598.2v8.1M479.22,598.2v1.08M480.11,598.2v8.7M480.41,598.2v3.6M480.71,598.2v3.43M481.01,598.2v5.3M481.3,598.2v8.36M481.6,598.2v3.37M481.9,598.2v0.39M482.19,598.2v3.75M482.49,598.2v7.82M482.79,598.2v3.61M483.08,598.2v5.92M483.38,598.2v5.81M483.68,598.2v7.75M483.98,598.2v0.82M484.27,598.2v0.92M484.57,598.2v4.34M484.87,598.2v6.06M485.16,598.2v8.88M485.46,598.2v7.59M485.76,598.2v4.3M486.05,598.2v4.79M486.35,598.2v7.11M486.65,598.2v4.27M487.24,598.2v5.2M487.54,598.2v1.32M487.84,598.2v8.92M488.13,598.2v0.64M488.43,598.2v0.55M488.73,598.2v7.15M489.02,598.2v8.06M489.32,598.2v7.27M489.62,598.2v6.29M489.92,598.2v2.74M490.21,598.2v7.9M490.51,598.2v0.75M490.81,598.2v7.48M491.1,598.2v3.84M491.4,598.2v6.9" stroke="#c4d6ee" stroke-width="0.52" fill="none"/>
<path d="M404.98,598.2v-2.4M406.46,598.2v-0.87M410.92,598.2v-2.08M417.45,598.2v-0.5M418.04,598.2v-1.04M418.64,598.2v-2.62M421.9,598.2v-2.66M431.41,598.2v-2.17M432,598.2v-4.76M432.3,598.2v-3.37M432.89,598.2v-2M433.19,598.2v-1.11M433.78,598.2v-4.51M434.08,598.2v-0.61M434.67,598.2v-3.85M436.16,598.2v-3.55M437.35,598.2v-0.56M437.64,598.2v-5.16M438.54,598.2v-4.26M439.13,598.2v-5.57M439.43,598.2v-0.88M440.32,598.2v-3.98M441.51,598.2v-3.72M441.8,598.2v-5.44M443.29,598.2v-1.02M443.58,598.2v-0.9M444.18,598.2v-2.51M445.37,598.2v-0.97M445.66,598.2v-2.88M445.96,598.2v-1.95M446.55,598.2v-3.32M453.39,598.2v-2.63M458.14,598.2v-0.63M461.7,598.2v-2.53M463.19,598.2v-1.87M464.67,598.2v-2.06M467.05,598.2v-0.92M469.42,598.2v-1.79M476.85,598.2v-1.95M477.14,598.2v-0.59M479.82,598.2v-0.62" stroke="#9cbbe0" stroke-width="0.8" fill="none"/>
<path d="M402.6,598.2H491.4" stroke="#2c4a70" stroke-width="0.8"/>
<text x="501.6" y="600.1" font-size="5" fill="#222" stroke="#222" stroke-width="0.2">-0.57</text>
<text x="527.5" y="600.8" font-size="5" fill="#e8392d" font-weight="bold" letter-spacing="0.7">***</text>
<text x="399" y="623.6" font-size="5.3" fill="#1a1a1a" text-anchor="end" stroke="#1a1a1a" stroke-width="0.2">CellCycle</text>
<path d="M402.6,621.8v3.86M403.49,621.8v0.81M403.79,621.8v6.13M404.38,621.8v6.6M404.68,621.8v1.54M404.98,621.8v5.9M405.57,621.8v7.78M405.87,621.8v1.87M406.16,621.8v8.15M406.76,621.8v2.4M407.05,621.8v7.35M407.35,621.8v5.39M407.65,621.8v6.03M407.95,621.8v5.23M408.24,621.8v0.38M408.54,621.8v7.68M408.84,621.8v5.08M409.43,621.8v2.21M409.73,621.8v6.97M410.02,621.8v3.58M410.62,621.8v4.96M411.21,621.8v4.15M411.51,621.8v2.27M411.81,621.8v5.04M412.4,621.8v5.06M412.7,621.8v2.78M412.99,621.8v3.44M413.29,621.8v8.23M413.59,621.8v4.13M413.89,621.8v3.91M414.48,621.8v7.06M415.07,621.8v7.52M415.67,621.8v4.87M416.26,621.8v3.5M416.56,621.8v3.01M416.86,621.8v2.95M417.15,621.8v2.91M417.45,621.8v7.41M418.04,621.8v5.67M418.34,621.8v2.8M418.64,621.8v1.57M418.93,621.8v3.03M419.23,621.8v5.81M419.53,621.8v4.76M419.83,621.8v5.21M420.12,621.8v5.31M420.42,621.8v0.36M420.72,621.8v1.68M421.01,621.8v0.31M421.31,621.8v2.85M421.61,621.8v6.77M421.9,621.8v6.68M422.2,621.8v2.94M422.8,621.8v3.64M423.09,621.8v4.54M423.39,621.8v6.94M423.98,621.8v0.54M424.28,621.8v3.01M424.58,621.8v3.16M424.87,621.8v5.47M425.17,621.8v6.43M425.47,621.8v4.67M426.06,621.8v5.08M426.36,621.8v8.36M426.66,621.8v8.26M426.95,621.8v2.08M427.25,621.8v5.47M427.55,621.8v1.02M427.84,621.8v2.59M428.14,621.8v7.79M428.74,621.8v4.3M429.03,621.8v0.31M429.33,621.8v2.59M429.63,621.8v5.09M429.92,621.8v2.03M430.22,621.8v6.74M430.52,621.8v0.87M430.81,621.8v1.74M431.41,621.8v1.43M431.71,621.8v2.84M432.3,621.8v1.61M432.89,621.8v2.91M433.19,621.8v0.39M433.78,621.8v2.06M434.08,621.8v1.28M435.27,621.8v2.46M436.46,621.8v2.94M437.05,621.8v2.69M437.35,621.8v3.27M437.64,621.8v1.96M438.83,621.8v1.16M439.13,621.8v3.09M439.72,621.8v2.84M440.32,621.8v1.4M440.91,621.8v2.31M441.21,621.8v0.4M441.8,621.8v0.9M442.69,621.8v0.85M444.18,621.8v1.59M444.48,621.8v1.1M445.66,621.8v2.13M446.26,621.8v1.07M446.55,621.8v0.56M447.15,621.8v1.61M447.45,621.8v6.19M447.74,621.8v0.97M448.04,621.8v5.63M448.34,621.8v5.5M448.63,621.8v2.7M448.93,621.8v0.57M449.23,621.8v7.18M449.52,621.8v5.32M449.82,621.8v1.73M450.12,621.8v1.64M450.42,621.8v1.39M450.71,621.8v6.6M451.01,621.8v5.6M451.31,621.8v7.71M451.6,621.8v3.94M452.2,621.8v4M452.49,621.8v7.14M452.79,621.8v6.53M453.09,621.8v4.06M453.39,621.8v7.64M453.68,621.8v5.89M453.98,621.8v1.66M454.28,621.8v4.31M454.57,621.8v4.67M454.87,621.8v1.13M455.17,621.8v5.16M455.46,621.8v6.32M455.76,621.8v3.75M456.06,621.8v8.26M456.36,621.8v4.55M456.65,621.8v8.11M457.25,621.8v4.35M457.54,621.8v5.17M457.84,621.8v1.79M458.14,621.8v6.96M458.43,621.8v6.7M458.73,621.8v3.27M459.03,621.8v6.13M459.33,621.8v7.94M459.62,621.8v8.22M459.92,621.8v8.01M460.22,621.8v3.12M460.81,621.8v6.88M461.11,621.8v5.11M461.4,621.8v6.16M461.7,621.8v6.22M462,621.8v2.13M462.29,621.8v3.7M462.59,621.8v1.56M462.89,621.8v5.59M463.19,621.8v7.89M463.48,621.8v1.91M463.78,621.8v5.2M464.08,621.8v2.14M464.37,621.8v5.81M464.67,621.8v0.67M464.97,621.8v4.34M465.26,621.8v1.78M465.56,621.8v2.57M465.86,621.8v0.44M466.45,621.8v0.95M466.75,621.8v4.39M467.05,621.8v1.25M467.34,621.8v6.38M467.94,621.8v2.48M468.23,621.8v4.48M468.53,621.8v3.02M468.83,621.8v1.34M469.42,621.8v4.74M469.72,621.8v3.94M470.02,621.8v4.63M470.31,621.8v4.15M470.61,621.8v2.28M470.91,621.8v4.27M471.2,621.8v8.11M471.5,621.8v7.5M471.8,621.8v7.52M472.39,621.8v7.15M472.69,621.8v2.46M472.99,621.8v2.71M473.28,621.8v6.97M473.58,621.8v8.45M473.88,621.8v6.05M474.47,621.8v7.63M474.77,621.8v4.89M475.36,621.8v8.33M475.66,621.8v0.32M475.96,621.8v0.87M476.25,621.8v5.46M476.85,621.8v5.51M477.14,621.8v0.74M477.44,621.8v5.46M477.74,621.8v5.37M478.04,621.8v3.64M478.33,621.8v4.3M478.63,621.8v4.42M479.22,621.8v3.85M479.52,621.8v1.15M479.82,621.8v4.28M480.11,621.8v3.93M480.41,621.8v3.46M480.71,621.8v8.42M481.01,621.8v1.8M481.3,621.8v1.89M481.6,621.8v0.7M481.9,621.8v7.7M482.49,621.8v5.83M483.38,621.8v6.89M483.68,621.8v4.74M483.98,621.8v4.6M484.27,621.8v6.64M484.57,621.8v1.64M484.87,621.8v1.14M485.16,621.8v6.53M485.76,621.8v1.09M486.05,621.8v4M486.35,621.8v7.81M486.65,621.8v7.37M486.95,621.8v0.44M487.24,621.8v1.06M487.84,621.8v1.59M488.43,621.8v2.56M488.73,621.8v3.12M489.02,621.8v3.18M489.32,621.8v3.23M489.62,621.8v0.59M489.92,621.8v5.88M490.21,621.8v6.53M490.51,621.8v0.55M490.81,621.8v4.98M491.4,621.8v1.41" stroke="#c4d6ee" stroke-width="0.52" fill="none"/>
<path d="M402.9,621.8v-0.98M404.08,621.8v-2.17M405.27,621.8v-1.25M409.13,621.8v-1.62M410.32,621.8v-1.15M410.92,621.8v-3.28M412.1,621.8v-3.72M414.78,621.8v-2.11M415.96,621.8v-2.5M417.75,621.8v-2.01M422.5,621.8v-2.84M423.69,621.8v-1.07M425.77,621.8v-2.33M431.11,621.8v-7.25M432,621.8v-0.44M432.6,621.8v-0.95M433.49,621.8v-7.91M434.38,621.8v-6.69M434.97,621.8v-6.36M435.57,621.8v-5.13M435.86,621.8v-2.17M436.16,621.8v-1.63M437.94,621.8v-4.32M438.24,621.8v-0.83M438.54,621.8v-0.44M439.43,621.8v-0.41M440.02,621.8v-5.62M440.61,621.8v-4.27M441.51,621.8v-0.51M442.1,621.8v-0.68M442.4,621.8v-3.53M443.58,621.8v-2.82M443.88,621.8v-7.3M445.07,621.8v-6.23M445.37,621.8v-3.2M445.96,621.8v-2.96M446.85,621.8v-0.93M466.16,621.8v-1.17M467.64,621.8v-0.42M472.1,621.8v-3.19M475.07,621.8v-2.8M476.55,621.8v-3.14M478.93,621.8v-2.21M482.19,621.8v-3.15M482.79,621.8v-2.69M487.54,621.8v-1.3M488.13,621.8v-0.55" stroke="#9cbbe0" stroke-width="0.8" fill="none"/>
<path d="M402.6,621.8H491.4" stroke="#2c4a70" stroke-width="0.8"/>
<text x="501.6" y="623.7" font-size="5" fill="#222" stroke="#222" stroke-width="0.2">-0.45</text>
<text x="527.5" y="624.4" font-size="5" fill="#e8392d" font-weight="bold" letter-spacing="0.7">***</text>
<text x="399" y="646.8" font-size="5.3" fill="#1a1a1a" text-anchor="end" stroke="#1a1a1a" stroke-width="0.2">DNAdamage</text>
<path d="M402.6,645v2.92M402.9,645v6.78M403.19,645v3.86M403.49,645v7.54M404.08,645v6.48M404.38,645v0.89M404.68,645v3.96M404.98,645v7.43M405.57,645v1.04M405.87,645v0.46M406.16,645v4.1M406.46,645v1.56M406.76,645v6.07M407.05,645v0.68M407.35,645v0.42M407.65,645v6.88M407.95,645v2.14M408.24,645v1.39M408.54,645v1.73M408.84,645v5.5M409.13,645v0.39M409.43,645v0.75M409.73,645v2.65M410.02,645v4.3M410.32,645v1.15M410.62,645v0.4M410.92,645v6.76M411.51,645v1.25M411.81,645v4.35M412.7,645v2.64M413.29,645v0.89M413.59,645v6.09M413.89,645v5.64M414.18,645v5.45M414.48,645v2.79M414.78,645v0.86M415.37,645v2.74M415.67,645v5.03M415.96,645v7.1M416.26,645v0.34M416.56,645v2.83M416.86,645v4.19M417.15,645v7.11M417.45,645v7.07M417.75,645v5.07M418.04,645v0.34M418.34,645v7.32M418.64,645v0.37M418.93,645v2.08M419.23,645v7.82M419.53,645v6.67M420.12,645v5.55M421.01,645v5.72M421.31,645v0.55M421.61,645v4.11M421.9,645v5.74M422.5,645v2.45M422.8,645v3.7M423.09,645v4.78M423.39,645v0.77M423.69,645v2.11M423.98,645v7.95M424.28,645v6.82M424.58,645v7.85M424.87,645v3.53M425.17,645v1.67M425.47,645v3.58M425.77,645v7.4M426.06,645v1.21M426.36,645v6.22M426.66,645v3.18M426.95,645v5.25M427.55,645v6.58M428.14,645v3.88M428.44,645v4.35M428.74,645v3.64M429.03,645v6.11M429.33,645v0.98M429.63,645v3.07M429.92,645v1.41M430.22,645v2.52M430.81,645v5.59M432.3,645v2.6M432.89,645v2.39M433.19,645v0.31M434.97,645v1.94M435.86,645v0.49M436.46,645v1M437.05,645v0.8M437.94,645v1.12M438.24,645v0.7M438.83,645v2.6M439.13,645v2.65M440.32,645v0.4M440.61,645v2.6M442.1,645v1.05M442.99,645v1.75M443.58,645v0.44M443.88,645v3.03M444.48,645v1.57M445.07,645v2.27M445.37,645v0.4M445.66,645v2.72M446.26,645v2.34M446.55,645v0.53M446.85,645v2.94M447.15,645v1.72M447.74,645v7.42M448.04,645v4.22M448.34,645v6.18M448.63,645v0.57M448.93,645v4.63M449.23,645v4.31M449.52,645v7.22M449.82,645v0.92M450.12,645v6.26M450.42,645v3.79M450.71,645v0.33M451.01,645v3.71M451.31,645v1.18M451.6,645v1.23M451.9,645v6.71M452.2,645v1.36M452.49,645v3.31M452.79,645v7.68M453.09,645v2.4M453.39,645v4.33M453.68,645v7.9M453.98,645v2.4M454.28,645v5.52M454.57,645v6.71M454.87,645v1.69M455.17,645v6.69M455.46,645v5.49M455.76,645v1.38M456.95,645v5.95M457.25,645v7.64M457.54,645v1.19M457.84,645v4.47M458.14,645v1.07M458.43,645v3.07M459.03,645v7.06M459.33,645v0.69M459.62,645v5.87M459.92,645v6.29M460.22,645v7.27M460.51,645v7.56M460.81,645v6.97M461.11,645v6.94M461.4,645v3.01M461.7,645v0.86M462,645v1.56M462.29,645v7.91M462.59,645v5.44M462.89,645v3.01M463.19,645v5.1M463.48,645v0.74M463.78,645v0.82M464.08,645v6.54M464.37,645v0.72M464.67,645v0.46M465.26,645v3.83M465.56,645v4.63M465.86,645v3.08M466.16,645v7.51M466.45,645v6.15M466.75,645v7.67M467.05,645v6.49M467.34,645v4.96M467.94,645v6.2M468.53,645v4.68M468.83,645v5.54M469.13,645v6.85M469.42,645v7.55M469.72,645v0.81M470.31,645v2.09M470.61,645v5.82M470.91,645v1.82M471.2,645v2.98M471.5,645v3.66M471.8,645v7.57M472.1,645v2.55M472.39,645v2.87M472.69,645v7.9M472.99,645v6.77M473.28,645v3.04M473.58,645v6.77M473.88,645v7.27M474.17,645v0.49M474.47,645v3.08M474.77,645v0.31M475.66,645v2.54M475.96,645v1.42M476.25,645v0.36M476.85,645v3.81M477.14,645v7.51M477.74,645v6.62M478.04,645v7.5M478.33,645v6.23M478.93,645v2.4M479.22,645v3.13M479.52,645v1.72M479.82,645v3.48M480.11,645v0.82M480.41,645v5.81M480.71,645v0.81M481.3,645v0.34M481.6,645v5.9M481.9,645v1.31M482.19,645v2.81M482.49,645v4.52M482.79,645v7.36M483.08,645v2.63M483.38,645v1.78M483.68,645v1.88M483.98,645v7.44M484.27,645v1.66M484.57,645v6.9M484.87,645v2.06M485.16,645v0.92M485.76,645v6.09M486.05,645v6.95M486.35,645v0.36M486.65,645v1.62M487.84,645v7.27M488.13,645v5.23M488.43,645v7.9M488.73,645v1.36M489.32,645v5.52M489.92,645v3.24M490.21,645v4.95M490.51,645v7.59M490.81,645v2.03M491.1,645v0.4" stroke="#c4d6ee" stroke-width="0.52" fill="none"/>
<path d="M405.27,645v-2.9M412.99,645v-0.89M419.83,645v-1.72M420.42,645v-2.66M422.2,645v-1.73M427.84,645v-1.61M430.52,645v-0.48M431.41,645v-5.33M432.6,645v-5.03M433.49,645v-2.28M433.78,645v-4.75M434.08,645v-3.38M434.38,645v-5.77M434.67,645v-4.94M435.27,645v-5.51M436.16,645v-4.98M436.75,645v-3.97M437.35,645v-0.42M438.54,645v-3.79M439.43,645v-3.25M439.72,645v-5.19M441.51,645v-2.02M442.4,645v-3.3M442.69,645v-1.59M443.29,645v-2.72M444.77,645v-3.8M445.96,645v-2.68M447.45,645v-0.99M458.73,645v-0.63M464.97,645v-2.46M467.64,645v-2.64M468.23,645v-1.33M475.36,645v-2.17M476.55,645v-1.91M478.63,645v-2.18M481.01,645v-1.18M486.95,645v-0.93M487.24,645v-0.67M487.54,645v-0.65M491.4,645v-2.31" stroke="#9cbbe0" stroke-width="0.8" fill="none"/>
<path d="M402.6,645H491.4" stroke="#2c4a70" stroke-width="0.8"/>
<text x="501.6" y="646.9" font-size="5" fill="#222" stroke="#222" stroke-width="0.2">-0.38</text>
<text x="527.5" y="647.6" font-size="5" fill="#e8392d" font-weight="bold" letter-spacing="0.7">***</text>
<text x="448" y="668.8" font-size="8" fill="#111" text-anchor="middle" font-weight="bold" font-family="'Liberation Serif', 'Times New Roman', serif">UM</text>
<text x="398.7" y="685" font-size="5.3" fill="#1a1a1a" text-anchor="end" stroke="#1a1a1a" stroke-width="0.2">geneExp</text>
<path d="M402,683.4H490.5" stroke="#c8c8c8" stroke-width="0.9"/>
<path d="M402,683.4L402,683.4L402,673.2L402.99,673.98L403.97,674.71L404.95,675.38L405.94,675.99L406.93,676.56L407.91,677.09L408.89,677.57L409.88,678.02L410.87,678.44L411.85,678.82L412.83,679.17L413.82,679.49L414.81,679.79L415.79,680.07L416.77,680.33L417.76,680.56L418.75,680.78L419.73,680.98L420.71,681.17L421.7,681.34L422.69,681.5L423.67,681.65L424.65,681.78L425.64,681.9L426.62,682.02L427.61,682.13L428.59,682.22L429.58,682.31L430.56,682.4L431.55,682.47L432.53,682.55L433.52,682.61L434.5,682.67L435.49,682.73L436.47,682.78L437.46,682.83L438.44,682.87L439.43,682.91L440.41,682.95L441.4,682.98L441.4,683.4Z" fill="#bd8a83"/>
<path d="M402,673.2 L402.99,673.98 L403.97,674.71 L404.95,675.38 L405.94,675.99 L406.93,676.56 L407.91,677.09 L408.89,677.57 L409.88,678.02 L410.87,678.44 L411.85,678.82 L412.83,679.17 L413.82,679.49 L414.81,679.79 L415.79,680.07 L416.77,680.33 L417.76,680.56 L418.75,680.78 L419.73,680.98 L420.71,681.17 L421.7,681.34 L422.69,681.5 L423.67,681.65 L424.65,681.78 L425.64,681.9 L426.62,682.02 L427.61,682.13 L428.59,682.22 L429.58,682.31 L430.56,682.4 L431.55,682.47 L432.53,682.55 L433.52,682.61 L434.5,682.67 L435.49,682.73 L436.47,682.78 L437.46,682.83 L438.44,682.87 L439.43,682.91 L440.41,682.95 L441.4,682.98" fill="none" stroke="#6e3229" stroke-width="0.5" stroke-opacity="0.7"/>
<text x="489.5" y="701.6" font-size="5.4" fill="#222" stroke="#222" stroke-width="0.2">Correlation</text>
<text x="523" y="701.6" font-size="4.9" fill="#e8392d" stroke="#e8392d" stroke-width="0.2">Pvalue</text>
<text x="398.7" y="709" font-size="6.1" fill="#4d7fc4" text-anchor="end" stroke="#4d7fc4" stroke-width="0.2">DNArepair</text>
<path d="M403.07,707v2.54M403.42,707v4.96M403.78,707v4.2M404.13,707v2.28M404.49,707v2.58M404.84,707v5.87M405.55,707v5.59M406.62,707v5.19M407.69,707v6.28M408.04,707v5.66M408.4,707v5.62M408.75,707v1.03M409.11,707v3.01M410.17,707v0.63M410.53,707v3.62M411.24,707v0.66M411.6,707v4.37M411.95,707v5.7M412.31,707v6.98M412.66,707v4.31M413.02,707v3.44M413.37,707v6.43M413.73,707v5.77M414.8,707v3.7M415.15,707v1.36M415.51,707v3.89M416.57,707v3.96M416.93,707v3.64M417.28,707v1.82M417.64,707v0.85M417.99,707v2.71M418.35,707v0.63M418.7,707v6.68M419.42,707v4.92M419.77,707v3.27M420.13,707v1.75M420.48,707v4.49M420.84,707v3.11M421.9,707v5.3M422.97,707v4.38M423.33,707v3.65M424.75,707v1.29M425.46,707v2.06M426.17,707v5.14M427.23,707v5.35M428.3,707v3.92M429.37,707v0.6M429.72,707v4.31M430.08,707v4.09M430.43,707v5.24M431.14,707v4.26M432.21,707v5.83M432.57,707v0.41M432.92,707v0.67M433.28,707v3.74M433.63,707v4.4M433.99,707v3.36M434.34,707v5.63M435.05,707v3.17M435.77,707v1.24M436.12,707v1.15M436.83,707v0.51M437.19,707v5.54M438.61,707v5.36M439.67,707v0.45M440.03,707v4.59M440.39,707v2.43M442.52,707v2.96M442.87,707v9.13M443.23,707v0.81M443.58,707v7.43M443.94,707v8.81M444.3,707v6.55M445.01,707v1.42M445.36,707v6.42M445.72,707v7.39M446.07,707v2.66M446.43,707v4.68M446.78,707v0.99M447.14,707v6.93M447.49,707v1.98M447.85,707v7.57M448.2,707v4.27M448.92,707v9.25M449.63,707v9.35M449.98,707v9.28M450.34,707v8.26M450.69,707v6.5M451.05,707v3.99M451.4,707v6.38M451.76,707v7.09M452.47,707v1.43M452.83,707v8.64M454.25,707v8.28M454.6,707v3.75M454.96,707v6.37M455.31,707v7.46M455.67,707v5.19M456.02,707v9.17M456.38,707v7.04M457.09,707v1.62M457.45,707v6.95M457.8,707v3.54M458.16,707v3.61M458.87,707v1.79M459.22,707v6.16M459.58,707v1.88M459.93,707v2.4M460.29,707v6.48M460.64,707v8.89M461.71,707v2.67M462.07,707v9.84M462.42,707v2.41M462.78,707v9.03M463.13,707v8.68M463.49,707v4.18M463.84,707v3.02M464.55,707v5.07M464.91,707v2.1M465.62,707v7.45M465.98,707v3M466.33,707v3.36M466.69,707v4.87M467.04,707v8.41M467.75,707v8.4M468.11,707v8.65M468.46,707v2.82M468.82,707v1.96M469.17,707v1.26M469.53,707v4.9M469.89,707v5.96M470.24,707v9.26M470.6,707v1.99M470.95,707v4.08M471.31,707v5.21M471.66,707v2.92M472.37,707v1.69M472.73,707v9.65M473.08,707v3.18M473.44,707v1.36M473.8,707v9.81M474.86,707v7.91M475.22,707v1.62M475.57,707v5.67M475.93,707v1.96M476.64,707v2.21M476.99,707v9.81M477.35,707v4.2M478.06,707v1.44M478.42,707v4.57M478.77,707v3.54M479.13,707v8.1M479.84,707v9.25M480.19,707v7.73M480.55,707v8.9M480.9,707v2.6M481.26,707v6.25M481.61,707v8.32M482.33,707v7.17M482.68,707v0.65M483.75,707v2.92M484.1,707v2.47M485.17,707v0.68M486.23,707v9M486.59,707v7.64M486.95,707v0.93M487.66,707v4.4M488.01,707v1.31M488.37,707v4.35M488.72,707v1.92M489.43,707v3.82M489.79,707v8.69" stroke="#c4d6ee" stroke-width="0.59" fill="none"/>
<path d="M402,707v-1.02M402.36,707v-1.94M402.71,707v-1.16M405.2,707v-0.43M405.91,707v-1.33M406.27,707v-1.83M406.98,707v-1.75M407.33,707v-1.98M409.46,707v-0.85M409.82,707v-0.31M410.89,707v-0.66M414.08,707v-0.81M414.44,707v-1.25M415.86,707v-2.43M416.22,707v-0.92M419.06,707v-1.46M421.19,707v-1.8M421.55,707v-1.82M422.26,707v-2.05M422.61,707v-0.57M423.68,707v-1.7M424.04,707v-1.3M425.81,707v-0.46M426.52,707v-2.35M426.88,707v-0.97M427.59,707v-1.95M427.95,707v-1.68M428.66,707v-1.48M429.01,707v-1.66M430.79,707v-2.05M431.5,707v-1.08M431.86,707v-0.32M434.7,707v-1.85M437.9,707v-1.97M439.32,707v-0.95M440.74,707v-1.03M441.1,707v-1.51M441.81,707v-0.98M442.16,707v-0.88M444.65,707v-0.61M453.18,707v-0.76M453.54,707v-0.33M453.89,707v-1.24M458.51,707v-0.93M464.2,707v-1.24M465.27,707v-1.36M474.15,707v-0.59M476.28,707v-0.77M479.48,707v-0.95M484.46,707v-0.85M484.81,707v-0.61M485.52,707v-1.33M485.88,707v-0.82M487.3,707v-1.52M489.08,707v-1.04M490.5,707v-1.01" stroke="#9cbbe0" stroke-width="0.9" fill="none"/>
<path d="M402,707H490.5" stroke="#2c4a70" stroke-width="0.8"/>
<text x="500" y="708.9" font-size="5" fill="#222" stroke="#222" stroke-width="0.2">-0.37</text>
<text x="528.6" y="709.6" font-size="5" fill="#e8392d" font-weight="bold" letter-spacing="0.7">***</text>
<text x="398.7" y="732.1" font-size="5.3" fill="#1a1a1a" text-anchor="end" stroke="#1a1a1a" stroke-width="0.2">DNAdamage</text>
<path d="M402.36,730.3v3.15M402.71,730.3v2.6M403.07,730.3v0.93M403.42,730.3v2.65M405.55,730.3v2.67M405.91,730.3v6.22M406.27,730.3v6.6M406.62,730.3v4.51M406.98,730.3v3.58M407.69,730.3v1.06M408.4,730.3v5.57M408.75,730.3v2.74M409.46,730.3v3.48M409.82,730.3v1.01M411.6,730.3v5.33M412.31,730.3v5.63M412.66,730.3v6.63M413.02,730.3v1.45M413.37,730.3v5.85M413.73,730.3v6.23M414.08,730.3v4.51M415.15,730.3v2.36M415.86,730.3v0.91M416.22,730.3v4.06M416.57,730.3v4.51M417.64,730.3v0.89M417.99,730.3v6.95M419.77,730.3v5.84M422.26,730.3v1.6M422.61,730.3v4.61M422.97,730.3v4.35M423.33,730.3v5.79M423.68,730.3v1.64M424.04,730.3v3.32M424.39,730.3v0.66M424.75,730.3v6.74M425.46,730.3v4.06M426.52,730.3v1.95M427.59,730.3v5.7M428.3,730.3v5.31M429.01,730.3v3.41M429.37,730.3v6.31M429.72,730.3v0.71M430.43,730.3v1.63M432.21,730.3v2.06M433.28,730.3v0.45M433.63,730.3v6.25M433.99,730.3v6.14M434.34,730.3v5.51M434.7,730.3v0.62M435.05,730.3v1.87M435.77,730.3v5.26M436.12,730.3v6.4M436.48,730.3v4.33M437.19,730.3v5.16M437.9,730.3v1.05M438.25,730.3v3.16M439.32,730.3v3.05M439.67,730.3v3.04M441.1,730.3v1.05M442.52,730.3v3.56M442.87,730.3v2.94M443.23,730.3v9.39M443.58,730.3v9.84M443.94,730.3v9.73M444.3,730.3v0.85M444.65,730.3v0.36M445.01,730.3v9.94M445.36,730.3v6.6M445.72,730.3v6.85M446.07,730.3v4.8M446.78,730.3v2.9M447.14,730.3v8.39M447.85,730.3v7.72M448.2,730.3v6.02M448.92,730.3v0.56M449.27,730.3v2.21M449.63,730.3v7.73M450.69,730.3v6.04M451.05,730.3v7.23M451.4,730.3v0.49M452.11,730.3v4.9M452.47,730.3v1.32M452.83,730.3v0.32M453.18,730.3v2.3M453.54,730.3v4.34M453.89,730.3v7.43M454.25,730.3v4.28M454.6,730.3v6.75M454.96,730.3v7.18M455.67,730.3v6.12M457.09,730.3v3.73M457.45,730.3v4.04M458.16,730.3v8.86M458.51,730.3v0.92M458.87,730.3v9.77M459.22,730.3v1.41M459.58,730.3v9.41M459.93,730.3v5.44M460.29,730.3v9.56M460.64,730.3v4.34M461,730.3v1.74M461.36,730.3v2.11M461.71,730.3v1.17M462.07,730.3v7.9M462.78,730.3v4.92M463.13,730.3v9.28M463.49,730.3v0.47M463.84,730.3v2.33M464.55,730.3v4.58M464.91,730.3v1.42M465.27,730.3v8.3M465.98,730.3v4.66M466.33,730.3v7.33M466.69,730.3v4.51M467.04,730.3v9.33M467.4,730.3v2.64M467.75,730.3v9.34M468.11,730.3v4.4M468.46,730.3v2.25M468.82,730.3v7.76M469.17,730.3v4.84M469.53,730.3v4.04M469.89,730.3v0.36M470.24,730.3v5.1M470.6,730.3v7.32M470.95,730.3v6.5M471.66,730.3v1.96M472.02,730.3v1.21M472.37,730.3v3.28M472.73,730.3v6.5M473.44,730.3v1.23M474.15,730.3v10M474.51,730.3v2.54M474.86,730.3v5.51M475.22,730.3v1.29M475.57,730.3v3.43M475.93,730.3v4.8M476.99,730.3v7.07M477.35,730.3v6.61M478.06,730.3v1.97M478.42,730.3v3M478.77,730.3v4.88M479.13,730.3v1.08M479.84,730.3v4.26M480.19,730.3v7.06M480.55,730.3v6.29M480.9,730.3v0.61M481.26,730.3v4.28M481.61,730.3v1.66M481.97,730.3v7.57M482.33,730.3v0.44M483.04,730.3v0.68M483.75,730.3v8.67M484.1,730.3v0.51M484.46,730.3v2.59M484.81,730.3v9.08M485.17,730.3v1.42M485.52,730.3v8.69M485.88,730.3v5.02M486.23,730.3v6.71M486.95,730.3v8.62M487.3,730.3v1.64M487.66,730.3v2.03M488.72,730.3v5.77M489.08,730.3v6.14M489.43,730.3v1M489.79,730.3v4.71M490.14,730.3v2.79M490.5,730.3v5.66" stroke="#c4d6ee" stroke-width="0.59" fill="none"/>
<path d="M403.78,730.3v-0.63M405.2,730.3v-0.47M407.33,730.3v-1.07M410.53,730.3v-1.29M410.89,730.3v-1.16M411.24,730.3v-1.14M411.95,730.3v-2.37M414.44,730.3v-1.47M414.8,730.3v-1.64M416.93,730.3v-0.91M417.28,730.3v-1.14M418.35,730.3v-0.33M418.7,730.3v-1.97M419.06,730.3v-1.8M419.42,730.3v-1.74M420.13,730.3v-1.14M420.48,730.3v-2.1M421.55,730.3v-1.58M425.1,730.3v-1.65M425.81,730.3v-1.8M426.17,730.3v-1.06M427.95,730.3v-1.09M428.66,730.3v-1.1M430.08,730.3v-1.26M430.79,730.3v-1.83M431.5,730.3v-1.63M432.57,730.3v-0.79M432.92,730.3v-1.42M435.41,730.3v-1.03M436.83,730.3v-1.39M437.54,730.3v-1.85M438.61,730.3v-0.61M438.96,730.3v-1.87M440.03,730.3v-2.15M440.74,730.3v-0.52M441.45,730.3v-2.19M441.81,730.3v-2.28M446.43,730.3v-1.45M448.56,730.3v-0.96M450.34,730.3v-1.11M451.76,730.3v-0.68M455.31,730.3v-1.38M456.73,730.3v-1.28M457.8,730.3v-0.32M462.42,730.3v-0.62M464.2,730.3v-0.93M473.08,730.3v-0.76M473.8,730.3v-0.75M476.28,730.3v-0.78M476.64,730.3v-0.47M477.7,730.3v-1.09M479.48,730.3v-1.82M482.68,730.3v-1.15M483.39,730.3v-1.69M486.59,730.3v-1.39M488.01,730.3v-1.53M488.37,730.3v-1.02" stroke="#9cbbe0" stroke-width="0.9" fill="none"/>
<path d="M402,730.3H490.5" stroke="#2c4a70" stroke-width="0.8"/>
<text x="500" y="732.2" font-size="5" fill="#222" stroke="#222" stroke-width="0.2">-0.35</text>
<text x="528.6" y="732.9" font-size="5" fill="#e8392d" font-weight="bold" letter-spacing="0.7">***</text>
<text x="86.4" y="620.8" font-size="8" fill="#111" text-anchor="middle" font-weight="bold" font-family="'Liberation Serif', 'Times New Roman', serif">RCC</text>
<text x="43.2" y="641.2" font-size="5.3" fill="#1a1a1a" text-anchor="end" stroke="#1a1a1a" stroke-width="0.2">geneExp</text>
<path d="M45.8,639.6H133.6" stroke="#c8c8c8" stroke-width="0.9"/>
<path d="M45.8,639.6L45.8,639.6L45.8,628.2L54.5,631L54.5,631L62.41,631.86L70.32,632.72L78.23,633.58L86.14,634.44L94.05,635.3L101.96,636.16L109.87,637.02L117.78,637.88L125.69,638.74L133.6,639.6L133.6,639.6Z" fill="#985a50"/>
<path d="M45.8,628.2 L54.5,631 L54.5,631 L62.41,631.86 L70.32,632.72 L78.23,633.58 L86.14,634.44 L94.05,635.3 L101.96,636.16 L109.87,637.02 L117.78,637.88 L125.69,638.74 L133.6,639.6" fill="none" stroke="#6e3229" stroke-width="0.5" stroke-opacity="0.7"/>
<text x="134" y="657" font-size="5.4" fill="#222" stroke="#222" stroke-width="0.2">Correlation</text>
<text x="166.5" y="657" font-size="4.9" fill="#e8392d" stroke="#e8392d" stroke-width="0.2">Pvalue</text>
<text x="43.2" y="665.1" font-size="6.1" fill="#e8392d" text-anchor="end" stroke="#e8392d" stroke-width="0.2">Hypoxia</text>
<path d="M47.07,663.1v2.29M53.43,663.1v5.31M54.71,663.1v2.42M57.25,663.1v2.1M61.07,663.1v5.93M62.34,663.1v1.2M63.61,663.1v1.81M68.7,663.1v7.99M78.88,663.1v4.98M80.16,663.1v2.98M81.43,663.1v2.67M83.97,663.1v1.05M85.25,663.1v7.46M86.52,663.1v3.45M89.06,663.1v6.32M91.61,663.1v1.65M94.15,663.1v3M99.24,663.1v9.52M100.52,663.1v0.71M101.79,663.1v1.29M103.06,663.1v1.04M104.33,663.1v0.58M105.61,663.1v2.02M106.88,663.1v9.24M108.15,663.1v7.63M109.42,663.1v4.98M113.24,663.1v9.24M115.79,663.1v5.77M118.33,663.1v8.07M119.6,663.1v8.62M120.88,663.1v9.32M122.15,663.1v2.55M124.69,663.1v5.87M125.97,663.1v6.04M127.24,663.1v6.7M128.51,663.1v1.5M129.78,663.1v3.81M132.33,663.1v4.58M133.6,663.1v7.47" stroke="#f4a7a0" stroke-width="1.17" fill="none"/>
<path d="M45.8,663.1v-4.2M48.34,663.1v-5.59M49.62,663.1v-2.38M50.89,663.1v-2.13M52.16,663.1v-4.95M55.98,663.1v-0.73M58.52,663.1v-8.78M59.8,663.1v-8.75M64.89,663.1v-0.64M66.16,663.1v-2.45M67.43,663.1v-2.6M69.98,663.1v-0.5M72.52,663.1v-4.85M75.07,663.1v-2.94M76.34,663.1v-0.67M77.61,663.1v-0.46M82.7,663.1v-2.5M87.79,663.1v-7.53M90.34,663.1v-4.72M92.88,663.1v-7.19M95.43,663.1v-1.54M96.7,663.1v-0.49M97.97,663.1v-0.74M111.97,663.1v-2.29M114.51,663.1v-0.39M117.06,663.1v-1.35M123.42,663.1v-4.25M131.06,663.1v-2.24" stroke="#dc3b30" stroke-width="1.8" fill="none"/>
<path d="M45.8,663.1H133.6" stroke="#5b4340" stroke-width="0.7"/>
<text x="143.4" y="665" font-size="5" fill="#222" stroke="#222" stroke-width="0.2">0.37</text>
<text x="169" y="665.7" font-size="5" fill="#e8392d" font-weight="bold" letter-spacing="0.7">**</text>
<text x="43.2" y="687.8" font-size="5.3" fill="#1a1a1a" text-anchor="end" stroke="#1a1a1a" stroke-width="0.2">Metastasis</text>
<path d="M45.8,686v1.16M47.07,686v1.65M52.16,686v1.15M59.8,686v4.7M61.07,686v2.18M63.61,686v2.19M66.16,686v1.97M68.7,686v4.39M72.52,686v7.9M73.79,686v2.68M75.07,686v7.1M77.61,686v2.46M80.16,686v3.88M82.7,686v0.75M83.97,686v1.53M86.52,686v1.09M87.79,686v6.3M89.06,686v9.9M90.34,686v9.65M91.61,686v9.36M92.88,686v8.23M94.15,686v0.5M95.43,686v9.12M96.7,686v3.4M97.97,686v6.89M101.79,686v4.52M104.33,686v0.58M105.61,686v5.72M108.15,686v7M109.42,686v0.8M110.7,686v9.61M111.97,686v2.22M113.24,686v3.12M114.51,686v1.37M115.79,686v6.57M117.06,686v4.6M118.33,686v4.25M120.88,686v7.33M123.42,686v3.11M125.97,686v3.19M127.24,686v5.18M128.51,686v5.66M129.78,686v8.49M131.06,686v6.63M132.33,686v7.35M133.6,686v6.6" stroke="#f4a7a0" stroke-width="1.17" fill="none"/>
<path d="M48.34,686v-6.95M49.62,686v-3.32M50.89,686v-7.6M53.43,686v-3.02M54.71,686v-5.75M55.98,686v-4.03M57.25,686v-1.07M58.52,686v-3.64M62.34,686v-2.94M64.89,686v-2.64M67.43,686v-5.33M69.98,686v-1.31M71.25,686v-2.16M76.34,686v-2.42M78.88,686v-2.14M85.25,686v-1.99M99.24,686v-3.67M100.52,686v-1.47M122.15,686v-0.36M124.69,686v-3.01" stroke="#dc3b30" stroke-width="1.8" fill="none"/>
<path d="M45.8,686H133.6" stroke="#5b4340" stroke-width="0.7"/>
<text x="143.4" y="687.9" font-size="5" fill="#222" stroke="#222" stroke-width="0.2">0.36</text>
<text x="169" y="688.6" font-size="5" fill="#e8392d" font-weight="bold" letter-spacing="0.7">**</text>
<text x="43.2" y="712" font-size="5.3" fill="#1a1a1a" text-anchor="end" stroke="#1a1a1a" stroke-width="0.2">Angiogenesis</text>
<path d="M47.07,710.2v3.6M52.16,710.2v4.65M54.71,710.2v2.35M57.25,710.2v7.24M58.52,710.2v5.54M66.16,710.2v0.76M67.43,710.2v7.5M68.7,710.2v7.36M73.79,710.2v5.69M75.07,710.2v4M77.61,710.2v6.47M85.25,710.2v3.11M86.52,710.2v1.07M87.79,710.2v4.6M91.61,710.2v7.6M92.88,710.2v2.19M94.15,710.2v4.43M95.43,710.2v7.58M97.97,710.2v3.63M100.52,710.2v9.92M101.79,710.2v4.03M104.33,710.2v1.52M105.61,710.2v5.6M108.15,710.2v9.17M109.42,710.2v0.39M110.7,710.2v3.73M111.97,710.2v4.62M113.24,710.2v3.77M114.51,710.2v7.08M115.79,710.2v3.62M118.33,710.2v2.04M119.6,710.2v3.89M120.88,710.2v0.6M122.15,710.2v0.96M123.42,710.2v3.75M124.69,710.2v4.13M125.97,710.2v5.89M128.51,710.2v5.92M129.78,710.2v8.01M131.06,710.2v0.67M132.33,710.2v6.07" stroke="#f4a7a0" stroke-width="1.17" fill="none"/>
<path d="M45.8,710.2v-1.83M48.34,710.2v-6.19M49.62,710.2v-1.13M50.89,710.2v-4.92M53.43,710.2v-7.23M55.98,710.2v-5.39M59.8,710.2v-4.76M61.07,710.2v-5.03M62.34,710.2v-1.15M64.89,710.2v-2.13M69.98,710.2v-3.07M71.25,710.2v-2.46M72.52,710.2v-0.31M76.34,710.2v-1.3M78.88,710.2v-6.12M81.43,710.2v-2.76M82.7,710.2v-4.03M83.97,710.2v-0.58M89.06,710.2v-1.72M90.34,710.2v-1.62M99.24,710.2v-5.2M103.06,710.2v-3.17M106.88,710.2v-5.26M127.24,710.2v-2.84M133.6,710.2v-1.33" stroke="#dc3b30" stroke-width="1.8" fill="none"/>
<path d="M45.8,710.2H133.6" stroke="#5b4340" stroke-width="0.7"/>
<text x="143.4" y="712.1" font-size="5" fill="#222" stroke="#222" stroke-width="0.2">0.34</text>
<text x="169" y="712.8" font-size="5" fill="#e8392d" font-weight="bold" letter-spacing="0.7">**</text>
<text x="43.2" y="734.8" font-size="5.3" fill="#1a1a1a" text-anchor="end" stroke="#1a1a1a" stroke-width="0.2">Differentiation</text>
<path d="M49.62,733v6.29M50.89,733v1.37M52.16,733v5.01M59.8,733v1.51M62.34,733v2.9M73.79,733v2.15M75.07,733v7.01M77.61,733v1.64M78.88,733v5.03M80.16,733v0.98M90.34,733v9.68M91.61,733v6.47M92.88,733v4.82M95.43,733v6.46M96.7,733v8.07M97.97,733v7.06M100.52,733v1.04M101.79,733v3.52M104.33,733v9.23M105.61,733v5.85M108.15,733v6.67M109.42,733v5.32M113.24,733v6.23M114.51,733v4.36M115.79,733v9.79M117.06,733v0.34M118.33,733v4.8M120.88,733v9.75M122.15,733v3.73M124.69,733v8.18M125.97,733v5.33M128.51,733v1.23M129.78,733v0.67M131.06,733v3.87M132.33,733v2.51M133.6,733v7.36" stroke="#f4a7a0" stroke-width="1.17" fill="none"/>
<path d="M45.8,733v-4.94M47.07,733v-8.08M48.34,733v-8.86M53.43,733v-7.41M54.71,733v-5.89M55.98,733v-5.45M61.07,733v-6.9M63.61,733v-6.11M64.89,733v-2.37M66.16,733v-2.42M67.43,733v-0.96M68.7,733v-3.33M71.25,733v-5.38M76.34,733v-5.06M81.43,733v-8.09M82.7,733v-2.49M83.97,733v-7.03M85.25,733v-0.62M86.52,733v-8.07M87.79,733v-0.89M89.06,733v-4.25M94.15,733v-3.69M99.24,733v-1.27M103.06,733v-1.74M106.88,733v-5.28M110.7,733v-1.11M111.97,733v-5.32M119.6,733v-3.56M123.42,733v-0.51" stroke="#dc3b30" stroke-width="1.8" fill="none"/>
<path d="M45.8,733H133.6" stroke="#5b4340" stroke-width="0.7"/>
<text x="143.4" y="734.9" font-size="5" fill="#222" stroke="#222" stroke-width="0.2">0.34</text>
<text x="169" y="735.6" font-size="5" fill="#e8392d" font-weight="bold" letter-spacing="0.7">**</text>
<text x="257.7" y="661.5" font-size="8" fill="#111" text-anchor="middle" font-weight="bold" font-family="'Liberation Serif', 'Times New Roman', serif">BRCA</text>
<text x="222" y="685.4" font-size="5.3" fill="#1a1a1a" text-anchor="end" stroke="#1a1a1a" stroke-width="0.2">geneExp</text>
<path d="M225,683.8H314" stroke="#c8c8c8" stroke-width="0.9"/>
<path d="M225,683.8L225,683.8L225,673.2L226,675L238,676.8L238,676.8L245.4,677.17L252.8,677.54L260.2,677.91L267.6,678.28L275,678.65L282.4,679.02L289.8,679.39L297.2,679.76L304.6,680.13L312,680.5L313,682L314,683.8L314,683.8Z" fill="#985a50"/>
<path d="M225,673.2 L226,675 L238,676.8 L238,676.8 L245.4,677.17 L252.8,677.54 L260.2,677.91 L267.6,678.28 L275,678.65 L282.4,679.02 L289.8,679.39 L297.2,679.76 L304.6,680.13 L312,680.5 L313,682 L314,683.8" fill="none" stroke="#6e3229" stroke-width="0.5" stroke-opacity="0.7"/>
<text x="313" y="701.8" font-size="5.4" fill="#222" stroke="#222" stroke-width="0.2">Correlation</text>
<text x="345.8" y="701.8" font-size="4.9" fill="#e8392d" stroke="#e8392d" stroke-width="0.2">Pvalue</text>
<text x="222" y="709.2" font-size="6.1" fill="#e8392d" text-anchor="end" stroke="#e8392d" stroke-width="0.2">Hypoxia</text>
<path d="M225.89,707.2v10.99M228.13,707.2v3.46M229.92,707.2v4.43M230.37,707.2v10.76M231.71,707.2v5.27M234.39,707.2v2.87M237.08,707.2v9.26M239.31,707.2v10.79M241.55,707.2v3.05M244.23,707.2v2.82M246.02,707.2v7.18M248.26,707.2v5.47M251.83,707.2v8.45M253.62,707.2v0.51M254.96,707.2v1.77M256.31,707.2v1.16M256.75,707.2v6.78M257.2,707.2v10.58M258.99,707.2v7.86M259.44,707.2v5.8M260.78,707.2v1.75M261.23,707.2v6.29M261.67,707.2v6.65M263.02,707.2v7.87M263.46,707.2v7.31M265.7,707.2v5.03M267.04,707.2v3.99M267.93,707.2v8.63M268.38,707.2v5.95M269.72,707.2v9.05M270.17,707.2v2.43M270.62,707.2v0.56M271.96,707.2v2.28M273.3,707.2v5.46M274.64,707.2v3.47M275.09,707.2v4.95M275.54,707.2v3.87M275.98,707.2v8.37M277.77,707.2v0.86M278.67,707.2v2.34M279.56,707.2v9.61M281.35,707.2v0.62M282.25,707.2v9.33M282.69,707.2v3.66M283.14,707.2v6.74M284.93,707.2v9.9M285.38,707.2v4.33M285.82,707.2v1.85M286.72,707.2v9.52M287.17,707.2v5.56M288.06,707.2v4.86M288.51,707.2v5.29M289.85,707.2v7.91M292.09,707.2v1.41M293.43,707.2v10.64M294.32,707.2v0.56M294.77,707.2v9.48M295.22,707.2v9.38M297.45,707.2v5.8M299.24,707.2v7.22M300.14,707.2v8.85M301.03,707.2v1.37M301.48,707.2v0.64M301.92,707.2v2.11M302.82,707.2v10.86M303.27,707.2v2.55M304.16,707.2v1.81M304.61,707.2v3.77M305.5,707.2v8.45M305.95,707.2v2.96M306.84,707.2v7.25M307.29,707.2v0.56M307.74,707.2v9.84M308.19,707.2v8.11M308.63,707.2v10.79M309.53,707.2v9.03M310.87,707.2v1.31M311.32,707.2v1.85M311.76,707.2v10.19M312.21,707.2v6.14M312.66,707.2v1.4M313.11,707.2v0.89M313.55,707.2v10.86M314,707.2v8.5" stroke="#f4a29b" stroke-width="0.59" fill="none"/>
<path d="M225,707.2v-5.37M225.45,707.2v-9.78M226.34,707.2v-1.23M226.79,707.2v-1.18M227.24,707.2v-6.19M227.68,707.2v-7.67M228.58,707.2v-2.53M229.03,707.2v-5.69M229.47,707.2v-0.84M230.81,707.2v-1.65M231.26,707.2v-1.62M232.6,707.2v-2.97M233.05,707.2v-1.65M233.5,707.2v-3.2M233.94,707.2v-4.77M234.84,707.2v-2.12M235.29,707.2v-4.88M235.73,707.2v-2.28M236.18,707.2v-6.89M236.63,707.2v-5.41M237.52,707.2v-1.14M237.97,707.2v-6.3M238.42,707.2v-4.12M238.86,707.2v-1.6M239.76,707.2v-3.72M240.21,707.2v-5.16M240.65,707.2v-5.43M241.1,707.2v-3.72M241.99,707.2v-2.26M242.44,707.2v-8.31M242.89,707.2v-9.54M243.34,707.2v-3.58M243.78,707.2v-4.07M244.68,707.2v-3.26M245.13,707.2v-1.63M245.57,707.2v-6.18M246.47,707.2v-2.5M246.91,707.2v-1.98M247.36,707.2v-4.43M247.81,707.2v-2.16M248.7,707.2v-8.11M249.15,707.2v-1.81M249.6,707.2v-5.97M250.05,707.2v-9.77M250.49,707.2v-3.54M250.94,707.2v-6.81M251.39,707.2v-0.94M252.28,707.2v-8.76M252.73,707.2v-3.53M253.18,707.2v-0.68M254.07,707.2v-8.85M254.52,707.2v-0.82M255.86,707.2v-3.87M258.1,707.2v-8.36M258.54,707.2v-1.85M259.88,707.2v-8.74M260.33,707.2v-1.71M262.12,707.2v-7.98M262.57,707.2v-1.96M263.91,707.2v-5.16M264.36,707.2v-7.66M264.8,707.2v-1.94M265.25,707.2v-1.29M266.15,707.2v-8.63M266.59,707.2v-7.77M267.49,707.2v-4.59M268.83,707.2v-2.09M269.28,707.2v-4.67M271.07,707.2v-5.19M271.51,707.2v-8.26M272.41,707.2v-6.91M272.85,707.2v-8.86M273.75,707.2v-5.43M274.2,707.2v-0.31M276.43,707.2v-4.67M276.88,707.2v-8.85M277.33,707.2v-5.16M278.22,707.2v-7.21M279.12,707.2v-8.32M280.01,707.2v-4.58M280.46,707.2v-3.29M280.9,707.2v-5.61M281.8,707.2v-1.05M283.59,707.2v-9.48M284.48,707.2v-1.86M286.27,707.2v-5.57M287.61,707.2v-4.82M288.95,707.2v-3.25M289.4,707.2v-3.51M290.3,707.2v-1.37M290.74,707.2v-0.44M291.19,707.2v-6.6M291.64,707.2v-5.84M292.53,707.2v-0.62M292.98,707.2v-9.76M293.87,707.2v-3.29M295.66,707.2v-7.5M296.11,707.2v-3.66M296.56,707.2v-0.47M297.01,707.2v-2.61M297.9,707.2v-2M298.35,707.2v-0.61M298.79,707.2v-9.31M299.69,707.2v-4.17M300.58,707.2v-2.83M302.37,707.2v-6.29M303.71,707.2v-7.22M305.06,707.2v-0.86M309.08,707.2v-8.46M309.97,707.2v-5.68M310.42,707.2v-1.53" stroke="#e0392e" stroke-width="0.9" fill="none"/>
<path d="M225,707.2H314" stroke="#5b4340" stroke-width="0.7"/>
<text x="322" y="709.1" font-size="5" fill="#222" stroke="#222" stroke-width="0.2">0.50</text>
<text x="349" y="709.8" font-size="5" fill="#e8392d" font-weight="bold" letter-spacing="0.7">***</text>
<text x="222" y="732.2" font-size="5.3" fill="#1a1a1a" text-anchor="end" stroke="#1a1a1a" stroke-width="0.2">Metastasis</text>
<path d="M225.45,730.4v3.09M226.34,730.4v6.6M226.79,730.4v9.74M227.24,730.4v3.08M228.13,730.4v1.91M228.58,730.4v4.12M229.03,730.4v0.72M230.81,730.4v6.07M232.16,730.4v5.4M233.94,730.4v1.21M235.73,730.4v2.03M236.18,730.4v4.66M236.63,730.4v0.62M238.42,730.4v1.62M238.86,730.4v2.34M239.31,730.4v1.21M241.55,730.4v7.28M242.89,730.4v7.52M244.23,730.4v7.52M244.68,730.4v6.76M246.02,730.4v6.42M247.36,730.4v3.18M248.26,730.4v3.29M249.15,730.4v2.92M250.05,730.4v0.48M251.39,730.4v6.1M252.73,730.4v1.61M254.96,730.4v1.22M255.41,730.4v6.52M255.86,730.4v5.16M256.31,730.4v8.4M256.75,730.4v1.17M257.2,730.4v9.94M258.54,730.4v5.29M258.99,730.4v4.94M259.44,730.4v5.87M262.12,730.4v6.95M262.57,730.4v5.64M263.46,730.4v4.76M263.91,730.4v6.19M265.25,730.4v4.37M265.7,730.4v6.92M266.15,730.4v5.03M267.93,730.4v9.08M268.38,730.4v9.6M268.83,730.4v7.21M269.28,730.4v4.78M269.72,730.4v3.49M271.07,730.4v4.79M271.51,730.4v2.45M272.85,730.4v3.54M273.3,730.4v4.57M273.75,730.4v7.58M274.2,730.4v5.42M275.54,730.4v8.68M275.98,730.4v7.66M276.43,730.4v7.57M276.88,730.4v6.15M277.33,730.4v5.94M277.77,730.4v0.91M278.22,730.4v9.11M279.12,730.4v4.19M279.56,730.4v3.84M280.46,730.4v0.57M280.9,730.4v2.43M281.35,730.4v9.36M281.8,730.4v1.86M282.25,730.4v3.69M282.69,730.4v8.81M283.59,730.4v8.6M284.48,730.4v1.7M287.17,730.4v3.21M288.06,730.4v3.69M288.51,730.4v5.67M288.95,730.4v0.78M289.4,730.4v7.87M290.3,730.4v7.61M290.74,730.4v0.67M291.64,730.4v1.85M292.53,730.4v2.43M292.98,730.4v3.04M293.43,730.4v1.21M294.32,730.4v3.51M294.77,730.4v7.87M295.22,730.4v8.85M295.66,730.4v0.81M296.11,730.4v3.85M297.01,730.4v9.99M297.45,730.4v8.91M297.9,730.4v5.01M299.24,730.4v5.08M300.14,730.4v0.79M300.58,730.4v1.2M301.03,730.4v1.38M302.37,730.4v6.17M302.82,730.4v0.42M303.71,730.4v2.16M304.16,730.4v3.49M304.61,730.4v9.72M305.06,730.4v1.27M305.5,730.4v8.46M305.95,730.4v9.69M306.4,730.4v4.44M306.84,730.4v3.49M307.29,730.4v1.24M307.74,730.4v0.34M308.63,730.4v2.41M309.08,730.4v7.36M309.97,730.4v4.3M310.42,730.4v4.26M311.32,730.4v7.01M311.76,730.4v5.53M313.55,730.4v8.73" stroke="#f4a29b" stroke-width="0.59" fill="none"/>
<path d="M225,730.4v-4.58M225.89,730.4v-2.51M227.68,730.4v-4.97M229.92,730.4v-1.52M230.37,730.4v-1.26M231.26,730.4v-3.63M231.71,730.4v-8.33M232.6,730.4v-8.46M233.5,730.4v-2.54M234.39,730.4v-3.11M234.84,730.4v-5.27M235.29,730.4v-7.56M237.08,730.4v-8.77M237.52,730.4v-1.92M237.97,730.4v-2.4M239.76,730.4v-8.84M240.21,730.4v-5.06M240.65,730.4v-4.42M241.1,730.4v-4.88M241.99,730.4v-7.06M242.44,730.4v-4.57M243.34,730.4v-3.63M243.78,730.4v-7.62M245.13,730.4v-3.47M245.57,730.4v-1.7M246.47,730.4v-3.86M246.91,730.4v-6.91M247.81,730.4v-1.03M248.7,730.4v-6.13M249.6,730.4v-2.34M250.94,730.4v-4.75M251.83,730.4v-2.34M252.28,730.4v-6.8M253.18,730.4v-1.7M253.62,730.4v-5.66M254.07,730.4v-6.5M254.52,730.4v-0.79M257.65,730.4v-5.66M258.1,730.4v-7.01M259.88,730.4v-7.5M260.33,730.4v-6.14M260.78,730.4v-0.46M261.23,730.4v-3.57M261.67,730.4v-4.9M263.02,730.4v-6.36M264.36,730.4v-0.73M264.8,730.4v-2M266.59,730.4v-8.77M267.04,730.4v-6.19M267.49,730.4v-2.73M270.17,730.4v-2.03M270.62,730.4v-8.25M271.96,730.4v-4.91M272.41,730.4v-0.97M274.64,730.4v-7.48M275.09,730.4v-6.88M278.67,730.4v-8.96M280.01,730.4v-2.12M283.14,730.4v-0.84M284.04,730.4v-7.61M284.93,730.4v-4.4M285.38,730.4v-1.11M285.82,730.4v-1.89M286.72,730.4v-3.74M287.61,730.4v-3.97M289.85,730.4v-5M291.19,730.4v-0.78M292.09,730.4v-5.83M296.56,730.4v-1.62M298.35,730.4v-6.14M299.69,730.4v-8.61M301.48,730.4v-8.43M308.19,730.4v-3.9M309.53,730.4v-3.63M310.87,730.4v-5.59M312.66,730.4v-6.01M313.11,730.4v-0.64M314,730.4v-8.49" stroke="#e0392e" stroke-width="0.9" fill="none"/>
<path d="M225,730.4H314" stroke="#5b4340" stroke-width="0.7"/>
<text x="322" y="732.3" font-size="5" fill="#222" stroke="#222" stroke-width="0.2">0.32</text>
<text x="349" y="733" font-size="5" fill="#e8392d" font-weight="bold" letter-spacing="0.7">***</text>
</svg>
</body></html>
